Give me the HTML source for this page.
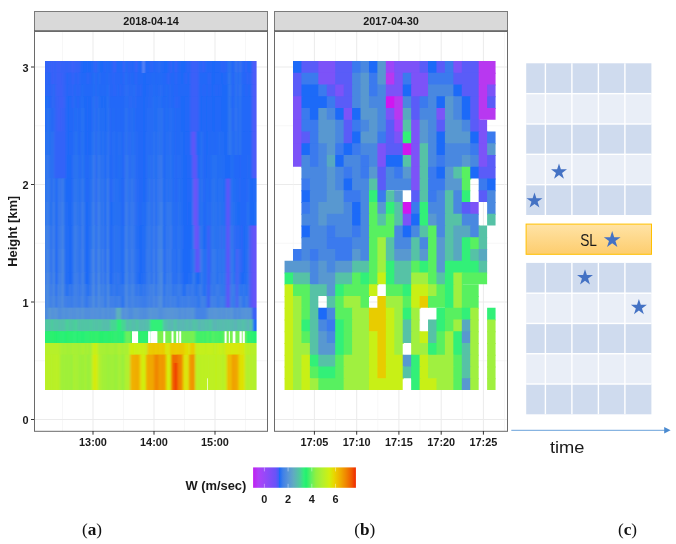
<!DOCTYPE html><html><head><meta charset="utf-8"><title>Figure</title><style>
html,body{margin:0;padding:0;background:#fff;}
body{width:676px;height:544px;overflow:hidden;}
svg{display:block;}
text{font-family:"Liberation Sans",Arial,sans-serif;}
.ax{font-weight:bold;font-size:10.9px;fill:#1a1a1a;}
.lab{font-family:"Liberation Serif","Times New Roman",serif;font-size:17.2px;fill:#111;}
</style></head><body>
<svg width="676" height="544" viewBox="0 0 676 544">
<rect x="0" y="0" width="676" height="544" fill="#ffffff"/>
<line x1="62.50" y1="31" x2="62.50" y2="431" stroke="#f2f2f2" stroke-width="0.6"/>
<line x1="123.50" y1="31" x2="123.50" y2="431" stroke="#f2f2f2" stroke-width="0.6"/>
<line x1="184.50" y1="31" x2="184.50" y2="431" stroke="#f2f2f2" stroke-width="0.6"/>
<line x1="245.50" y1="31" x2="245.50" y2="431" stroke="#f2f2f2" stroke-width="0.6"/>
<line x1="93.00" y1="31" x2="93.00" y2="431" stroke="#ebebeb" stroke-width="1"/>
<line x1="154.00" y1="31" x2="154.00" y2="431" stroke="#ebebeb" stroke-width="1"/>
<line x1="215.00" y1="31" x2="215.00" y2="431" stroke="#ebebeb" stroke-width="1"/>
<line x1="34" y1="125.75" x2="268" y2="125.75" stroke="#f2f2f2" stroke-width="0.6"/>
<line x1="274" y1="125.75" x2="508" y2="125.75" stroke="#f2f2f2" stroke-width="0.6"/>
<line x1="34" y1="243.25" x2="268" y2="243.25" stroke="#f2f2f2" stroke-width="0.6"/>
<line x1="274" y1="243.25" x2="508" y2="243.25" stroke="#f2f2f2" stroke-width="0.6"/>
<line x1="34" y1="360.75" x2="268" y2="360.75" stroke="#f2f2f2" stroke-width="0.6"/>
<line x1="274" y1="360.75" x2="508" y2="360.75" stroke="#f2f2f2" stroke-width="0.6"/>
<line x1="34" y1="67.00" x2="268" y2="67.00" stroke="#ebebeb" stroke-width="1"/>
<line x1="274" y1="67.00" x2="508" y2="67.00" stroke="#ebebeb" stroke-width="1"/>
<line x1="34" y1="184.50" x2="268" y2="184.50" stroke="#ebebeb" stroke-width="1"/>
<line x1="274" y1="184.50" x2="508" y2="184.50" stroke="#ebebeb" stroke-width="1"/>
<line x1="34" y1="302.00" x2="268" y2="302.00" stroke="#ebebeb" stroke-width="1"/>
<line x1="274" y1="302.00" x2="508" y2="302.00" stroke="#ebebeb" stroke-width="1"/>
<line x1="34" y1="419.50" x2="268" y2="419.50" stroke="#ebebeb" stroke-width="1"/>
<line x1="274" y1="419.50" x2="508" y2="419.50" stroke="#ebebeb" stroke-width="1"/>
<line x1="293.30" y1="31" x2="293.30" y2="431" stroke="#f2f2f2" stroke-width="0.6"/>
<line x1="335.60" y1="31" x2="335.60" y2="431" stroke="#f2f2f2" stroke-width="0.6"/>
<line x1="377.80" y1="31" x2="377.80" y2="431" stroke="#f2f2f2" stroke-width="0.6"/>
<line x1="420.00" y1="31" x2="420.00" y2="431" stroke="#f2f2f2" stroke-width="0.6"/>
<line x1="462.30" y1="31" x2="462.30" y2="431" stroke="#f2f2f2" stroke-width="0.6"/>
<line x1="504.50" y1="31" x2="504.50" y2="431" stroke="#f2f2f2" stroke-width="0.6"/>
<line x1="314.40" y1="31" x2="314.40" y2="431" stroke="#ebebeb" stroke-width="1"/>
<line x1="356.70" y1="31" x2="356.70" y2="431" stroke="#ebebeb" stroke-width="1"/>
<line x1="398.90" y1="31" x2="398.90" y2="431" stroke="#ebebeb" stroke-width="1"/>
<line x1="441.20" y1="31" x2="441.20" y2="431" stroke="#ebebeb" stroke-width="1"/>
<line x1="483.40" y1="31" x2="483.40" y2="431" stroke="#ebebeb" stroke-width="1"/>
<defs><filter id="fa" x="-0.05" y="-0.05" width="1.1" height="1.1"><feGaussianBlur stdDeviation="0.9 0.4"/></filter><filter id="fb" x="-0.05" y="-0.05" width="1.1" height="1.1"><feGaussianBlur stdDeviation="0.45"/></filter></defs>
<defs><clipPath id="ca"><rect x="45" y="61" width="211.6" height="329"/></clipPath></defs>
<g clip-path="url(#ca)"><g filter="url(#fa)"><rect x="42.0" y="58.00" width="5.0" height="15.75" fill="#3064f8"/>
<rect x="46.0" y="58.00" width="2.0" height="15.75" fill="#3a61f8"/>
<rect x="47.0" y="58.00" width="2.0" height="15.75" fill="#1c69f8"/>
<rect x="48.0" y="58.00" width="2.0" height="15.75" fill="#3a61f8"/>
<rect x="49.0" y="58.00" width="3.0" height="15.75" fill="#3064f8"/>
<rect x="51.0" y="58.00" width="4.0" height="15.75" fill="#3a61f8"/>
<rect x="54.0" y="58.00" width="3.0" height="15.75" fill="#3064f8"/>
<rect x="56.0" y="58.00" width="6.0" height="15.75" fill="#3a61f8"/>
<rect x="61.0" y="58.00" width="3.0" height="15.75" fill="#3064f8"/>
<rect x="63.0" y="58.00" width="2.0" height="15.75" fill="#3a61f8"/>
<rect x="64.0" y="58.00" width="6.0" height="15.75" fill="#3064f8"/>
<rect x="69.0" y="58.00" width="2.0" height="15.75" fill="#3a61f8"/>
<rect x="70.0" y="58.00" width="3.0" height="15.75" fill="#3064f8"/>
<rect x="72.0" y="58.00" width="2.0" height="15.75" fill="#3a61f8"/>
<rect x="73.0" y="58.00" width="2.0" height="15.75" fill="#445ef8"/>
<rect x="74.0" y="58.00" width="4.0" height="15.75" fill="#3064f8"/>
<rect x="77.0" y="58.00" width="2.0" height="15.75" fill="#3a61f8"/>
<rect x="78.0" y="58.00" width="2.0" height="15.75" fill="#3064f8"/>
<rect x="79.0" y="58.00" width="2.0" height="15.75" fill="#3a61f8"/>
<rect x="80.0" y="58.00" width="3.0" height="15.75" fill="#1c69f8"/>
<rect x="82.0" y="58.00" width="2.0" height="15.75" fill="#2666f8"/>
<rect x="83.0" y="58.00" width="5.0" height="15.75" fill="#1c69f8"/>
<rect x="87.0" y="58.00" width="2.0" height="15.75" fill="#2666f8"/>
<rect x="88.0" y="58.00" width="4.0" height="15.75" fill="#1c69f8"/>
<rect x="91.0" y="58.00" width="2.0" height="15.75" fill="#2666f8"/>
<rect x="92.0" y="58.00" width="2.0" height="15.75" fill="#1c69f8"/>
<rect x="93.0" y="58.00" width="2.0" height="15.75" fill="#226ef5"/>
<rect x="94.0" y="58.00" width="2.0" height="15.75" fill="#3a61f8"/>
<rect x="95.0" y="58.00" width="2.0" height="15.75" fill="#2666f8"/>
<rect x="96.0" y="58.00" width="2.0" height="15.75" fill="#3a61f8"/>
<rect x="97.0" y="58.00" width="2.0" height="15.75" fill="#2671f3"/>
<rect x="98.0" y="58.00" width="2.0" height="15.75" fill="#1c69f8"/>
<rect x="99.0" y="58.00" width="2.0" height="15.75" fill="#2671f3"/>
<rect x="100.0" y="58.00" width="4.0" height="15.75" fill="#1c69f8"/>
<rect x="103.0" y="58.00" width="2.0" height="15.75" fill="#2666f8"/>
<rect x="104.0" y="58.00" width="2.0" height="15.75" fill="#1c69f8"/>
<rect x="105.0" y="58.00" width="2.0" height="15.75" fill="#3064f8"/>
<rect x="106.0" y="58.00" width="2.0" height="15.75" fill="#1c69f8"/>
<rect x="107.0" y="58.00" width="2.0" height="15.75" fill="#226ef5"/>
<rect x="108.0" y="58.00" width="2.0" height="15.75" fill="#1c69f8"/>
<rect x="109.0" y="58.00" width="3.0" height="15.75" fill="#2666f8"/>
<rect x="111.0" y="58.00" width="2.0" height="15.75" fill="#1c69f8"/>
<rect x="112.0" y="58.00" width="2.0" height="15.75" fill="#2666f8"/>
<rect x="113.0" y="58.00" width="2.0" height="15.75" fill="#3a61f8"/>
<rect x="114.0" y="58.00" width="2.0" height="15.75" fill="#3064f8"/>
<rect x="115.0" y="58.00" width="2.0" height="15.75" fill="#3a61f8"/>
<rect x="116.0" y="58.00" width="2.0" height="15.75" fill="#2666f8"/>
<rect x="117.0" y="58.00" width="3.0" height="15.75" fill="#1c69f8"/>
<rect x="119.0" y="58.00" width="3.0" height="15.75" fill="#2666f8"/>
<rect x="121.0" y="58.00" width="3.0" height="15.75" fill="#1c69f8"/>
<rect x="123.0" y="58.00" width="3.0" height="15.75" fill="#3a61f8"/>
<rect x="125.0" y="58.00" width="2.0" height="15.75" fill="#2671f3"/>
<rect x="126.0" y="58.00" width="2.0" height="15.75" fill="#1c69f8"/>
<rect x="127.0" y="58.00" width="2.0" height="15.75" fill="#2666f8"/>
<rect x="128.0" y="58.00" width="2.0" height="15.75" fill="#3064f8"/>
<rect x="129.0" y="58.00" width="5.0" height="15.75" fill="#2666f8"/>
<rect x="133.0" y="58.00" width="2.0" height="15.75" fill="#1c69f8"/>
<rect x="134.0" y="58.00" width="2.0" height="15.75" fill="#2666f8"/>
<rect x="135.0" y="58.00" width="2.0" height="15.75" fill="#3064f8"/>
<rect x="136.0" y="58.00" width="2.0" height="15.75" fill="#445ef8"/>
<rect x="137.0" y="58.00" width="2.0" height="15.75" fill="#1c69f8"/>
<rect x="138.0" y="58.00" width="2.0" height="15.75" fill="#2666f8"/>
<rect x="139.0" y="58.00" width="2.0" height="15.75" fill="#1c69f8"/>
<rect x="140.0" y="58.00" width="3.0" height="15.75" fill="#2666f8"/>
<rect x="142.0" y="58.00" width="3.0" height="15.75" fill="#1c69f8"/>
<rect x="144.0" y="58.00" width="2.0" height="15.75" fill="#3064f8"/>
<rect x="145.0" y="58.00" width="2.0" height="15.75" fill="#1c69f8"/>
<rect x="146.0" y="58.00" width="2.0" height="15.75" fill="#2666f8"/>
<rect x="147.0" y="58.00" width="3.0" height="15.75" fill="#1c69f8"/>
<rect x="149.0" y="58.00" width="2.0" height="15.75" fill="#2666f8"/>
<rect x="150.0" y="58.00" width="2.0" height="15.75" fill="#3064f8"/>
<rect x="151.0" y="58.00" width="2.0" height="15.75" fill="#2666f8"/>
<rect x="152.0" y="58.00" width="2.0" height="15.75" fill="#3064f8"/>
<rect x="153.0" y="58.00" width="2.0" height="15.75" fill="#1c69f8"/>
<rect x="154.0" y="58.00" width="2.0" height="15.75" fill="#2666f8"/>
<rect x="155.0" y="58.00" width="2.0" height="15.75" fill="#1c69f8"/>
<rect x="156.0" y="58.00" width="2.0" height="15.75" fill="#3064f8"/>
<rect x="157.0" y="58.00" width="2.0" height="15.75" fill="#1c69f8"/>
<rect x="158.0" y="58.00" width="2.0" height="15.75" fill="#2671f3"/>
<rect x="159.0" y="58.00" width="2.0" height="15.75" fill="#3a61f8"/>
<rect x="160.0" y="58.00" width="2.0" height="15.75" fill="#226ef5"/>
<rect x="161.0" y="58.00" width="2.0" height="15.75" fill="#1d6cf7"/>
<rect x="162.0" y="58.00" width="2.0" height="15.75" fill="#1c69f8"/>
<rect x="163.0" y="58.00" width="2.0" height="15.75" fill="#2666f8"/>
<rect x="164.0" y="58.00" width="5.0" height="15.75" fill="#1c69f8"/>
<rect x="168.0" y="58.00" width="3.0" height="15.75" fill="#2666f8"/>
<rect x="170.0" y="58.00" width="2.0" height="15.75" fill="#3064f8"/>
<rect x="171.0" y="58.00" width="2.0" height="15.75" fill="#3a61f8"/>
<rect x="172.0" y="58.00" width="4.0" height="15.75" fill="#1c69f8"/>
<rect x="175.0" y="58.00" width="3.0" height="15.75" fill="#3a61f8"/>
<rect x="177.0" y="58.00" width="2.0" height="15.75" fill="#1c69f8"/>
<rect x="178.0" y="58.00" width="3.0" height="15.75" fill="#2666f8"/>
<rect x="180.0" y="58.00" width="6.0" height="15.75" fill="#1c69f8"/>
<rect x="185.0" y="58.00" width="2.0" height="15.75" fill="#2666f8"/>
<rect x="186.0" y="58.00" width="2.0" height="15.75" fill="#1c69f8"/>
<rect x="187.0" y="58.00" width="2.0" height="15.75" fill="#3a61f8"/>
<rect x="188.0" y="58.00" width="3.0" height="15.75" fill="#1c69f8"/>
<rect x="190.0" y="58.00" width="10.0" height="15.75" fill="#3a61f8"/>
<rect x="199.0" y="58.00" width="2.0" height="15.75" fill="#1c69f8"/>
<rect x="200.0" y="58.00" width="2.0" height="15.75" fill="#3064f8"/>
<rect x="201.0" y="58.00" width="2.0" height="15.75" fill="#1c69f8"/>
<rect x="202.0" y="58.00" width="2.0" height="15.75" fill="#3064f8"/>
<rect x="203.0" y="58.00" width="2.0" height="15.75" fill="#3a61f8"/>
<rect x="204.0" y="58.00" width="2.0" height="15.75" fill="#2666f8"/>
<rect x="205.0" y="58.00" width="2.0" height="15.75" fill="#3064f8"/>
<rect x="206.0" y="58.00" width="3.0" height="15.75" fill="#1c69f8"/>
<rect x="208.0" y="58.00" width="3.0" height="15.75" fill="#2666f8"/>
<rect x="210.0" y="58.00" width="2.0" height="15.75" fill="#1c69f8"/>
<rect x="211.0" y="58.00" width="2.0" height="15.75" fill="#2666f8"/>
<rect x="212.0" y="58.00" width="4.0" height="15.75" fill="#1c69f8"/>
<rect x="215.0" y="58.00" width="2.0" height="15.75" fill="#2666f8"/>
<rect x="216.0" y="58.00" width="3.0" height="15.75" fill="#1c69f8"/>
<rect x="218.0" y="58.00" width="2.0" height="15.75" fill="#2666f8"/>
<rect x="219.0" y="58.00" width="2.0" height="15.75" fill="#1c69f8"/>
<rect x="220.0" y="58.00" width="2.0" height="15.75" fill="#2666f8"/>
<rect x="221.0" y="58.00" width="2.0" height="15.75" fill="#3064f8"/>
<rect x="222.0" y="58.00" width="2.0" height="15.75" fill="#1c69f8"/>
<rect x="223.0" y="58.00" width="3.0" height="15.75" fill="#3064f8"/>
<rect x="225.0" y="58.00" width="2.0" height="15.75" fill="#1c69f8"/>
<rect x="226.0" y="58.00" width="2.0" height="15.75" fill="#3064f8"/>
<rect x="227.0" y="58.00" width="2.0" height="15.75" fill="#1c69f8"/>
<rect x="228.0" y="58.00" width="4.0" height="15.75" fill="#2f76ef"/>
<rect x="231.0" y="58.00" width="2.0" height="15.75" fill="#1c69f8"/>
<rect x="232.0" y="58.00" width="3.0" height="15.75" fill="#2666f8"/>
<rect x="234.0" y="58.00" width="2.0" height="15.75" fill="#1c69f8"/>
<rect x="235.0" y="58.00" width="3.0" height="15.75" fill="#377bec"/>
<rect x="237.0" y="58.00" width="2.0" height="15.75" fill="#3a61f8"/>
<rect x="238.0" y="58.00" width="2.0" height="15.75" fill="#1c69f8"/>
<rect x="239.0" y="58.00" width="2.0" height="15.75" fill="#3378ed"/>
<rect x="240.0" y="58.00" width="2.0" height="15.75" fill="#377bec"/>
<rect x="241.0" y="58.00" width="2.0" height="15.75" fill="#3a61f8"/>
<rect x="242.0" y="58.00" width="3.0" height="15.75" fill="#1c69f8"/>
<rect x="244.0" y="58.00" width="2.0" height="15.75" fill="#2666f8"/>
<rect x="245.0" y="58.00" width="3.0" height="15.75" fill="#3064f8"/>
<rect x="247.0" y="58.00" width="2.0" height="15.75" fill="#2666f8"/>
<rect x="248.0" y="58.00" width="3.0" height="15.75" fill="#1c69f8"/>
<rect x="250.0" y="58.00" width="2.0" height="15.75" fill="#2666f8"/>
<rect x="251.0" y="58.00" width="2.0" height="15.75" fill="#1c69f8"/>
<rect x="252.0" y="58.00" width="7.6" height="15.75" fill="#4e5bf8"/>
<rect x="42.0" y="72.75" width="5.0" height="12.75" fill="#2666f8"/>
<rect x="46.0" y="72.75" width="2.0" height="12.75" fill="#3a61f8"/>
<rect x="47.0" y="72.75" width="2.0" height="12.75" fill="#226ef5"/>
<rect x="48.0" y="72.75" width="2.0" height="12.75" fill="#3064f8"/>
<rect x="49.0" y="72.75" width="3.0" height="12.75" fill="#2666f8"/>
<rect x="51.0" y="72.75" width="4.0" height="12.75" fill="#3a61f8"/>
<rect x="54.0" y="72.75" width="3.0" height="12.75" fill="#3064f8"/>
<rect x="56.0" y="72.75" width="7.0" height="12.75" fill="#3a61f8"/>
<rect x="62.0" y="72.75" width="2.0" height="12.75" fill="#3064f8"/>
<rect x="63.0" y="72.75" width="2.0" height="12.75" fill="#3a61f8"/>
<rect x="64.0" y="72.75" width="3.0" height="12.75" fill="#3064f8"/>
<rect x="66.0" y="72.75" width="4.0" height="12.75" fill="#2666f8"/>
<rect x="69.0" y="72.75" width="2.0" height="12.75" fill="#3064f8"/>
<rect x="70.0" y="72.75" width="3.0" height="12.75" fill="#2666f8"/>
<rect x="72.0" y="72.75" width="3.0" height="12.75" fill="#3a61f8"/>
<rect x="74.0" y="72.75" width="4.0" height="12.75" fill="#2666f8"/>
<rect x="77.0" y="72.75" width="2.0" height="12.75" fill="#3a61f8"/>
<rect x="78.0" y="72.75" width="2.0" height="12.75" fill="#2666f8"/>
<rect x="79.0" y="72.75" width="2.0" height="12.75" fill="#3064f8"/>
<rect x="80.0" y="72.75" width="3.0" height="12.75" fill="#1c69f8"/>
<rect x="82.0" y="72.75" width="2.0" height="12.75" fill="#2666f8"/>
<rect x="83.0" y="72.75" width="3.0" height="12.75" fill="#1c69f8"/>
<rect x="85.0" y="72.75" width="2.0" height="12.75" fill="#2666f8"/>
<rect x="86.0" y="72.75" width="2.0" height="12.75" fill="#1c69f8"/>
<rect x="87.0" y="72.75" width="2.0" height="12.75" fill="#3a61f8"/>
<rect x="88.0" y="72.75" width="2.0" height="12.75" fill="#1c69f8"/>
<rect x="89.0" y="72.75" width="4.0" height="12.75" fill="#2666f8"/>
<rect x="92.0" y="72.75" width="2.0" height="12.75" fill="#1c69f8"/>
<rect x="93.0" y="72.75" width="3.0" height="12.75" fill="#2671f3"/>
<rect x="95.0" y="72.75" width="3.0" height="12.75" fill="#2666f8"/>
<rect x="97.0" y="72.75" width="2.0" height="12.75" fill="#226ef5"/>
<rect x="98.0" y="72.75" width="2.0" height="12.75" fill="#1c69f8"/>
<rect x="99.0" y="72.75" width="2.0" height="12.75" fill="#2a73f1"/>
<rect x="100.0" y="72.75" width="2.0" height="12.75" fill="#2666f8"/>
<rect x="101.0" y="72.75" width="2.0" height="12.75" fill="#1c69f8"/>
<rect x="102.0" y="72.75" width="3.0" height="12.75" fill="#2666f8"/>
<rect x="104.0" y="72.75" width="2.0" height="12.75" fill="#1c69f8"/>
<rect x="105.0" y="72.75" width="2.0" height="12.75" fill="#2666f8"/>
<rect x="106.0" y="72.75" width="2.0" height="12.75" fill="#1c69f8"/>
<rect x="107.0" y="72.75" width="2.0" height="12.75" fill="#2671f3"/>
<rect x="108.0" y="72.75" width="6.0" height="12.75" fill="#2666f8"/>
<rect x="113.0" y="72.75" width="2.0" height="12.75" fill="#3a61f8"/>
<rect x="114.0" y="72.75" width="2.0" height="12.75" fill="#1c69f8"/>
<rect x="115.0" y="72.75" width="7.0" height="12.75" fill="#2666f8"/>
<rect x="121.0" y="72.75" width="3.0" height="12.75" fill="#1c69f8"/>
<rect x="123.0" y="72.75" width="2.0" height="12.75" fill="#3a61f8"/>
<rect x="124.0" y="72.75" width="2.0" height="12.75" fill="#2666f8"/>
<rect x="125.0" y="72.75" width="2.0" height="12.75" fill="#226ef5"/>
<rect x="126.0" y="72.75" width="2.0" height="12.75" fill="#2671f3"/>
<rect x="127.0" y="72.75" width="5.0" height="12.75" fill="#2666f8"/>
<rect x="131.0" y="72.75" width="2.0" height="12.75" fill="#226ef5"/>
<rect x="132.0" y="72.75" width="2.0" height="12.75" fill="#2666f8"/>
<rect x="133.0" y="72.75" width="3.0" height="12.75" fill="#1c69f8"/>
<rect x="135.0" y="72.75" width="2.0" height="12.75" fill="#3a61f8"/>
<rect x="136.0" y="72.75" width="2.0" height="12.75" fill="#2666f8"/>
<rect x="137.0" y="72.75" width="2.0" height="12.75" fill="#1c69f8"/>
<rect x="138.0" y="72.75" width="2.0" height="12.75" fill="#2666f8"/>
<rect x="139.0" y="72.75" width="2.0" height="12.75" fill="#1c69f8"/>
<rect x="140.0" y="72.75" width="3.0" height="12.75" fill="#2666f8"/>
<rect x="142.0" y="72.75" width="5.0" height="12.75" fill="#1c69f8"/>
<rect x="146.0" y="72.75" width="2.0" height="12.75" fill="#2666f8"/>
<rect x="147.0" y="72.75" width="3.0" height="12.75" fill="#1c69f8"/>
<rect x="149.0" y="72.75" width="2.0" height="12.75" fill="#2666f8"/>
<rect x="150.0" y="72.75" width="2.0" height="12.75" fill="#1c69f8"/>
<rect x="151.0" y="72.75" width="2.0" height="12.75" fill="#2666f8"/>
<rect x="152.0" y="72.75" width="2.0" height="12.75" fill="#1c69f8"/>
<rect x="153.0" y="72.75" width="2.0" height="12.75" fill="#2671f3"/>
<rect x="154.0" y="72.75" width="2.0" height="12.75" fill="#2666f8"/>
<rect x="155.0" y="72.75" width="2.0" height="12.75" fill="#1c69f8"/>
<rect x="156.0" y="72.75" width="2.0" height="12.75" fill="#2666f8"/>
<rect x="157.0" y="72.75" width="2.0" height="12.75" fill="#1c69f8"/>
<rect x="158.0" y="72.75" width="2.0" height="12.75" fill="#1d6cf7"/>
<rect x="159.0" y="72.75" width="2.0" height="12.75" fill="#2666f8"/>
<rect x="160.0" y="72.75" width="2.0" height="12.75" fill="#226ef5"/>
<rect x="161.0" y="72.75" width="2.0" height="12.75" fill="#1d6cf7"/>
<rect x="162.0" y="72.75" width="2.0" height="12.75" fill="#1c69f8"/>
<rect x="163.0" y="72.75" width="2.0" height="12.75" fill="#2666f8"/>
<rect x="164.0" y="72.75" width="2.0" height="12.75" fill="#1c69f8"/>
<rect x="165.0" y="72.75" width="2.0" height="12.75" fill="#2666f8"/>
<rect x="166.0" y="72.75" width="2.0" height="12.75" fill="#1c69f8"/>
<rect x="167.0" y="72.75" width="2.0" height="12.75" fill="#2666f8"/>
<rect x="168.0" y="72.75" width="2.0" height="12.75" fill="#3a61f8"/>
<rect x="169.0" y="72.75" width="4.0" height="12.75" fill="#2666f8"/>
<rect x="172.0" y="72.75" width="4.0" height="12.75" fill="#1c69f8"/>
<rect x="175.0" y="72.75" width="2.0" height="12.75" fill="#3a61f8"/>
<rect x="176.0" y="72.75" width="2.0" height="12.75" fill="#2666f8"/>
<rect x="177.0" y="72.75" width="2.0" height="12.75" fill="#1c69f8"/>
<rect x="178.0" y="72.75" width="3.0" height="12.75" fill="#2666f8"/>
<rect x="180.0" y="72.75" width="5.0" height="12.75" fill="#1c69f8"/>
<rect x="184.0" y="72.75" width="2.0" height="12.75" fill="#2666f8"/>
<rect x="185.0" y="72.75" width="2.0" height="12.75" fill="#3064f8"/>
<rect x="186.0" y="72.75" width="3.0" height="12.75" fill="#2666f8"/>
<rect x="188.0" y="72.75" width="3.0" height="12.75" fill="#1c69f8"/>
<rect x="190.0" y="72.75" width="10.0" height="12.75" fill="#3a61f8"/>
<rect x="199.0" y="72.75" width="3.0" height="12.75" fill="#1c69f8"/>
<rect x="201.0" y="72.75" width="2.0" height="12.75" fill="#2666f8"/>
<rect x="202.0" y="72.75" width="2.0" height="12.75" fill="#1c69f8"/>
<rect x="203.0" y="72.75" width="3.0" height="12.75" fill="#2666f8"/>
<rect x="205.0" y="72.75" width="2.0" height="12.75" fill="#1c69f8"/>
<rect x="206.0" y="72.75" width="2.0" height="12.75" fill="#2666f8"/>
<rect x="207.0" y="72.75" width="2.0" height="12.75" fill="#1c69f8"/>
<rect x="208.0" y="72.75" width="2.0" height="12.75" fill="#2666f8"/>
<rect x="209.0" y="72.75" width="2.0" height="12.75" fill="#3a61f8"/>
<rect x="210.0" y="72.75" width="2.0" height="12.75" fill="#1c69f8"/>
<rect x="211.0" y="72.75" width="2.0" height="12.75" fill="#2666f8"/>
<rect x="212.0" y="72.75" width="4.0" height="12.75" fill="#1c69f8"/>
<rect x="215.0" y="72.75" width="2.0" height="12.75" fill="#2666f8"/>
<rect x="216.0" y="72.75" width="3.0" height="12.75" fill="#1c69f8"/>
<rect x="218.0" y="72.75" width="2.0" height="12.75" fill="#2666f8"/>
<rect x="219.0" y="72.75" width="2.0" height="12.75" fill="#1c69f8"/>
<rect x="220.0" y="72.75" width="2.0" height="12.75" fill="#2666f8"/>
<rect x="221.0" y="72.75" width="4.0" height="12.75" fill="#1c69f8"/>
<rect x="224.0" y="72.75" width="3.0" height="12.75" fill="#2666f8"/>
<rect x="226.0" y="72.75" width="3.0" height="12.75" fill="#1c69f8"/>
<rect x="228.0" y="72.75" width="2.0" height="12.75" fill="#377bec"/>
<rect x="229.0" y="72.75" width="2.0" height="12.75" fill="#2f76ef"/>
<rect x="230.0" y="72.75" width="2.0" height="12.75" fill="#3378ed"/>
<rect x="231.0" y="72.75" width="2.0" height="12.75" fill="#1c69f8"/>
<rect x="232.0" y="72.75" width="4.0" height="12.75" fill="#2666f8"/>
<rect x="235.0" y="72.75" width="2.0" height="12.75" fill="#2f76ef"/>
<rect x="236.0" y="72.75" width="2.0" height="12.75" fill="#3378ed"/>
<rect x="237.0" y="72.75" width="2.0" height="12.75" fill="#2666f8"/>
<rect x="238.0" y="72.75" width="2.0" height="12.75" fill="#1c69f8"/>
<rect x="239.0" y="72.75" width="2.0" height="12.75" fill="#2f76ef"/>
<rect x="240.0" y="72.75" width="2.0" height="12.75" fill="#3378ed"/>
<rect x="241.0" y="72.75" width="7.0" height="12.75" fill="#2666f8"/>
<rect x="247.0" y="72.75" width="2.0" height="12.75" fill="#3a61f8"/>
<rect x="248.0" y="72.75" width="2.0" height="12.75" fill="#2666f8"/>
<rect x="249.0" y="72.75" width="2.0" height="12.75" fill="#1c69f8"/>
<rect x="250.0" y="72.75" width="2.0" height="12.75" fill="#3a61f8"/>
<rect x="251.0" y="72.75" width="2.0" height="12.75" fill="#1c69f8"/>
<rect x="252.0" y="72.75" width="7.6" height="12.75" fill="#4e5bf8"/>
<rect x="42.0" y="84.50" width="5.0" height="12.75" fill="#2666f8"/>
<rect x="46.0" y="84.50" width="2.0" height="12.75" fill="#3064f8"/>
<rect x="47.0" y="84.50" width="2.0" height="12.75" fill="#226ef5"/>
<rect x="48.0" y="84.50" width="2.0" height="12.75" fill="#3064f8"/>
<rect x="49.0" y="84.50" width="3.0" height="12.75" fill="#2666f8"/>
<rect x="51.0" y="84.50" width="3.0" height="12.75" fill="#3064f8"/>
<rect x="53.0" y="84.50" width="2.0" height="12.75" fill="#226ef5"/>
<rect x="54.0" y="84.50" width="3.0" height="12.75" fill="#3064f8"/>
<rect x="56.0" y="84.50" width="8.0" height="12.75" fill="#3a61f8"/>
<rect x="63.0" y="84.50" width="4.0" height="12.75" fill="#3064f8"/>
<rect x="66.0" y="84.50" width="4.0" height="12.75" fill="#2666f8"/>
<rect x="69.0" y="84.50" width="2.0" height="12.75" fill="#3064f8"/>
<rect x="70.0" y="84.50" width="3.0" height="12.75" fill="#2666f8"/>
<rect x="72.0" y="84.50" width="3.0" height="12.75" fill="#3064f8"/>
<rect x="74.0" y="84.50" width="2.0" height="12.75" fill="#1d6cf7"/>
<rect x="75.0" y="84.50" width="3.0" height="12.75" fill="#2666f8"/>
<rect x="77.0" y="84.50" width="2.0" height="12.75" fill="#3064f8"/>
<rect x="78.0" y="84.50" width="2.0" height="12.75" fill="#2666f8"/>
<rect x="79.0" y="84.50" width="2.0" height="12.75" fill="#3064f8"/>
<rect x="80.0" y="84.50" width="3.0" height="12.75" fill="#1c69f8"/>
<rect x="82.0" y="84.50" width="2.0" height="12.75" fill="#2671f3"/>
<rect x="83.0" y="84.50" width="2.0" height="12.75" fill="#1c69f8"/>
<rect x="84.0" y="84.50" width="2.0" height="12.75" fill="#2666f8"/>
<rect x="85.0" y="84.50" width="3.0" height="12.75" fill="#1c69f8"/>
<rect x="87.0" y="84.50" width="3.0" height="12.75" fill="#2666f8"/>
<rect x="89.0" y="84.50" width="3.0" height="12.75" fill="#1c69f8"/>
<rect x="91.0" y="84.50" width="2.0" height="12.75" fill="#2666f8"/>
<rect x="92.0" y="84.50" width="2.0" height="12.75" fill="#1c69f8"/>
<rect x="93.0" y="84.50" width="2.0" height="12.75" fill="#2671f3"/>
<rect x="94.0" y="84.50" width="2.0" height="12.75" fill="#226ef5"/>
<rect x="95.0" y="84.50" width="3.0" height="12.75" fill="#2666f8"/>
<rect x="97.0" y="84.50" width="2.0" height="12.75" fill="#2671f3"/>
<rect x="98.0" y="84.50" width="2.0" height="12.75" fill="#1c69f8"/>
<rect x="99.0" y="84.50" width="2.0" height="12.75" fill="#226ef5"/>
<rect x="100.0" y="84.50" width="2.0" height="12.75" fill="#2666f8"/>
<rect x="101.0" y="84.50" width="3.0" height="12.75" fill="#1c69f8"/>
<rect x="103.0" y="84.50" width="2.0" height="12.75" fill="#226ef5"/>
<rect x="104.0" y="84.50" width="2.0" height="12.75" fill="#2666f8"/>
<rect x="105.0" y="84.50" width="3.0" height="12.75" fill="#1c69f8"/>
<rect x="107.0" y="84.50" width="2.0" height="12.75" fill="#2671f3"/>
<rect x="108.0" y="84.50" width="2.0" height="12.75" fill="#226ef5"/>
<rect x="109.0" y="84.50" width="2.0" height="12.75" fill="#3064f8"/>
<rect x="110.0" y="84.50" width="2.0" height="12.75" fill="#2666f8"/>
<rect x="111.0" y="84.50" width="2.0" height="12.75" fill="#1c69f8"/>
<rect x="112.0" y="84.50" width="2.0" height="12.75" fill="#2666f8"/>
<rect x="113.0" y="84.50" width="2.0" height="12.75" fill="#3064f8"/>
<rect x="114.0" y="84.50" width="3.0" height="12.75" fill="#2666f8"/>
<rect x="116.0" y="84.50" width="2.0" height="12.75" fill="#3064f8"/>
<rect x="117.0" y="84.50" width="3.0" height="12.75" fill="#1c69f8"/>
<rect x="119.0" y="84.50" width="2.0" height="12.75" fill="#2666f8"/>
<rect x="120.0" y="84.50" width="2.0" height="12.75" fill="#3064f8"/>
<rect x="121.0" y="84.50" width="2.0" height="12.75" fill="#2666f8"/>
<rect x="122.0" y="84.50" width="2.0" height="12.75" fill="#1c69f8"/>
<rect x="123.0" y="84.50" width="2.0" height="12.75" fill="#2666f8"/>
<rect x="124.0" y="84.50" width="2.0" height="12.75" fill="#3064f8"/>
<rect x="125.0" y="84.50" width="3.0" height="12.75" fill="#2671f3"/>
<rect x="127.0" y="84.50" width="2.0" height="12.75" fill="#3064f8"/>
<rect x="128.0" y="84.50" width="2.0" height="12.75" fill="#2671f3"/>
<rect x="129.0" y="84.50" width="3.0" height="12.75" fill="#2666f8"/>
<rect x="131.0" y="84.50" width="2.0" height="12.75" fill="#2671f3"/>
<rect x="132.0" y="84.50" width="2.0" height="12.75" fill="#2666f8"/>
<rect x="133.0" y="84.50" width="2.0" height="12.75" fill="#1c69f8"/>
<rect x="134.0" y="84.50" width="2.0" height="12.75" fill="#2a73f1"/>
<rect x="135.0" y="84.50" width="2.0" height="12.75" fill="#2666f8"/>
<rect x="136.0" y="84.50" width="2.0" height="12.75" fill="#3064f8"/>
<rect x="137.0" y="84.50" width="2.0" height="12.75" fill="#1c69f8"/>
<rect x="138.0" y="84.50" width="4.0" height="12.75" fill="#2666f8"/>
<rect x="141.0" y="84.50" width="2.0" height="12.75" fill="#3064f8"/>
<rect x="142.0" y="84.50" width="5.0" height="12.75" fill="#1c69f8"/>
<rect x="146.0" y="84.50" width="2.0" height="12.75" fill="#2666f8"/>
<rect x="147.0" y="84.50" width="3.0" height="12.75" fill="#1c69f8"/>
<rect x="149.0" y="84.50" width="2.0" height="12.75" fill="#2666f8"/>
<rect x="150.0" y="84.50" width="2.0" height="12.75" fill="#2671f3"/>
<rect x="151.0" y="84.50" width="2.0" height="12.75" fill="#3064f8"/>
<rect x="152.0" y="84.50" width="2.0" height="12.75" fill="#1c69f8"/>
<rect x="153.0" y="84.50" width="2.0" height="12.75" fill="#2671f3"/>
<rect x="154.0" y="84.50" width="2.0" height="12.75" fill="#226ef5"/>
<rect x="155.0" y="84.50" width="2.0" height="12.75" fill="#2666f8"/>
<rect x="156.0" y="84.50" width="2.0" height="12.75" fill="#1c69f8"/>
<rect x="157.0" y="84.50" width="2.0" height="12.75" fill="#226ef5"/>
<rect x="158.0" y="84.50" width="2.0" height="12.75" fill="#1d6cf7"/>
<rect x="159.0" y="84.50" width="2.0" height="12.75" fill="#3064f8"/>
<rect x="160.0" y="84.50" width="3.0" height="12.75" fill="#2671f3"/>
<rect x="162.0" y="84.50" width="3.0" height="12.75" fill="#2666f8"/>
<rect x="164.0" y="84.50" width="3.0" height="12.75" fill="#1c69f8"/>
<rect x="166.0" y="84.50" width="2.0" height="12.75" fill="#2671f3"/>
<rect x="167.0" y="84.50" width="2.0" height="12.75" fill="#1c69f8"/>
<rect x="168.0" y="84.50" width="3.0" height="12.75" fill="#2666f8"/>
<rect x="170.0" y="84.50" width="2.0" height="12.75" fill="#2671f3"/>
<rect x="171.0" y="84.50" width="2.0" height="12.75" fill="#2666f8"/>
<rect x="172.0" y="84.50" width="2.0" height="12.75" fill="#1c69f8"/>
<rect x="173.0" y="84.50" width="2.0" height="12.75" fill="#2666f8"/>
<rect x="174.0" y="84.50" width="2.0" height="12.75" fill="#1c69f8"/>
<rect x="175.0" y="84.50" width="2.0" height="12.75" fill="#3064f8"/>
<rect x="176.0" y="84.50" width="2.0" height="12.75" fill="#2666f8"/>
<rect x="177.0" y="84.50" width="2.0" height="12.75" fill="#1c69f8"/>
<rect x="178.0" y="84.50" width="3.0" height="12.75" fill="#2666f8"/>
<rect x="180.0" y="84.50" width="2.0" height="12.75" fill="#1c69f8"/>
<rect x="181.0" y="84.50" width="3.0" height="12.75" fill="#2666f8"/>
<rect x="183.0" y="84.50" width="3.0" height="12.75" fill="#1c69f8"/>
<rect x="185.0" y="84.50" width="2.0" height="12.75" fill="#2666f8"/>
<rect x="186.0" y="84.50" width="2.0" height="12.75" fill="#1c69f8"/>
<rect x="187.0" y="84.50" width="2.0" height="12.75" fill="#2666f8"/>
<rect x="188.0" y="84.50" width="3.0" height="12.75" fill="#1c69f8"/>
<rect x="190.0" y="84.50" width="10.0" height="12.75" fill="#3a61f8"/>
<rect x="199.0" y="84.50" width="2.0" height="12.75" fill="#1c69f8"/>
<rect x="200.0" y="84.50" width="2.0" height="12.75" fill="#2666f8"/>
<rect x="201.0" y="84.50" width="2.0" height="12.75" fill="#1c69f8"/>
<rect x="202.0" y="84.50" width="3.0" height="12.75" fill="#2666f8"/>
<rect x="204.0" y="84.50" width="2.0" height="12.75" fill="#3064f8"/>
<rect x="205.0" y="84.50" width="2.0" height="12.75" fill="#1c69f8"/>
<rect x="206.0" y="84.50" width="2.0" height="12.75" fill="#2666f8"/>
<rect x="207.0" y="84.50" width="2.0" height="12.75" fill="#1c69f8"/>
<rect x="208.0" y="84.50" width="2.0" height="12.75" fill="#2666f8"/>
<rect x="209.0" y="84.50" width="2.0" height="12.75" fill="#3064f8"/>
<rect x="210.0" y="84.50" width="2.0" height="12.75" fill="#1c69f8"/>
<rect x="211.0" y="84.50" width="2.0" height="12.75" fill="#2666f8"/>
<rect x="212.0" y="84.50" width="4.0" height="12.75" fill="#1c69f8"/>
<rect x="215.0" y="84.50" width="2.0" height="12.75" fill="#3064f8"/>
<rect x="216.0" y="84.50" width="2.0" height="12.75" fill="#2666f8"/>
<rect x="217.0" y="84.50" width="2.0" height="12.75" fill="#1c69f8"/>
<rect x="218.0" y="84.50" width="4.0" height="12.75" fill="#2666f8"/>
<rect x="221.0" y="84.50" width="8.0" height="12.75" fill="#1c69f8"/>
<rect x="228.0" y="84.50" width="3.0" height="12.75" fill="#2f76ef"/>
<rect x="230.0" y="84.50" width="2.0" height="12.75" fill="#377bec"/>
<rect x="231.0" y="84.50" width="2.0" height="12.75" fill="#1c69f8"/>
<rect x="232.0" y="84.50" width="3.0" height="12.75" fill="#2666f8"/>
<rect x="234.0" y="84.50" width="2.0" height="12.75" fill="#1c69f8"/>
<rect x="235.0" y="84.50" width="2.0" height="12.75" fill="#3378ed"/>
<rect x="236.0" y="84.50" width="2.0" height="12.75" fill="#2f76ef"/>
<rect x="237.0" y="84.50" width="2.0" height="12.75" fill="#3064f8"/>
<rect x="238.0" y="84.50" width="2.0" height="12.75" fill="#1c69f8"/>
<rect x="239.0" y="84.50" width="2.0" height="12.75" fill="#3378ed"/>
<rect x="240.0" y="84.50" width="2.0" height="12.75" fill="#377bec"/>
<rect x="241.0" y="84.50" width="2.0" height="12.75" fill="#2666f8"/>
<rect x="242.0" y="84.50" width="3.0" height="12.75" fill="#1c69f8"/>
<rect x="244.0" y="84.50" width="2.0" height="12.75" fill="#2666f8"/>
<rect x="245.0" y="84.50" width="2.0" height="12.75" fill="#1c69f8"/>
<rect x="246.0" y="84.50" width="2.0" height="12.75" fill="#3064f8"/>
<rect x="247.0" y="84.50" width="2.0" height="12.75" fill="#2666f8"/>
<rect x="248.0" y="84.50" width="3.0" height="12.75" fill="#1c69f8"/>
<rect x="250.0" y="84.50" width="2.0" height="12.75" fill="#3064f8"/>
<rect x="251.0" y="84.50" width="2.0" height="12.75" fill="#1c69f8"/>
<rect x="252.0" y="84.50" width="7.6" height="12.75" fill="#4e5bf8"/>
<rect x="42.0" y="96.25" width="5.0" height="12.75" fill="#1c69f8"/>
<rect x="46.0" y="96.25" width="2.0" height="12.75" fill="#226ef5"/>
<rect x="47.0" y="96.25" width="2.0" height="12.75" fill="#2a73f1"/>
<rect x="48.0" y="96.25" width="2.0" height="12.75" fill="#2666f8"/>
<rect x="49.0" y="96.25" width="3.0" height="12.75" fill="#1c69f8"/>
<rect x="51.0" y="96.25" width="3.0" height="12.75" fill="#3064f8"/>
<rect x="53.0" y="96.25" width="2.0" height="12.75" fill="#2671f3"/>
<rect x="54.0" y="96.25" width="3.0" height="12.75" fill="#3064f8"/>
<rect x="56.0" y="96.25" width="2.0" height="12.75" fill="#3a61f8"/>
<rect x="57.0" y="96.25" width="2.0" height="12.75" fill="#3064f8"/>
<rect x="58.0" y="96.25" width="7.0" height="12.75" fill="#3a61f8"/>
<rect x="64.0" y="96.25" width="3.0" height="12.75" fill="#3064f8"/>
<rect x="66.0" y="96.25" width="4.0" height="12.75" fill="#1c69f8"/>
<rect x="69.0" y="96.25" width="2.0" height="12.75" fill="#2666f8"/>
<rect x="70.0" y="96.25" width="3.0" height="12.75" fill="#1c69f8"/>
<rect x="72.0" y="96.25" width="3.0" height="12.75" fill="#3064f8"/>
<rect x="74.0" y="96.25" width="2.0" height="12.75" fill="#2671f3"/>
<rect x="75.0" y="96.25" width="3.0" height="12.75" fill="#1c69f8"/>
<rect x="77.0" y="96.25" width="2.0" height="12.75" fill="#3064f8"/>
<rect x="78.0" y="96.25" width="2.0" height="12.75" fill="#1c69f8"/>
<rect x="79.0" y="96.25" width="2.0" height="12.75" fill="#2666f8"/>
<rect x="80.0" y="96.25" width="2.0" height="12.75" fill="#1c69f8"/>
<rect x="81.0" y="96.25" width="2.0" height="12.75" fill="#226ef5"/>
<rect x="82.0" y="96.25" width="2.0" height="12.75" fill="#2671f3"/>
<rect x="83.0" y="96.25" width="5.0" height="12.75" fill="#1c69f8"/>
<rect x="87.0" y="96.25" width="2.0" height="12.75" fill="#2666f8"/>
<rect x="88.0" y="96.25" width="4.0" height="12.75" fill="#1c69f8"/>
<rect x="91.0" y="96.25" width="2.0" height="12.75" fill="#2666f8"/>
<rect x="92.0" y="96.25" width="2.0" height="12.75" fill="#1c69f8"/>
<rect x="93.0" y="96.25" width="2.0" height="12.75" fill="#2f76ef"/>
<rect x="94.0" y="96.25" width="2.0" height="12.75" fill="#2a73f1"/>
<rect x="95.0" y="96.25" width="2.0" height="12.75" fill="#2666f8"/>
<rect x="96.0" y="96.25" width="2.0" height="12.75" fill="#3064f8"/>
<rect x="97.0" y="96.25" width="2.0" height="12.75" fill="#2a73f1"/>
<rect x="98.0" y="96.25" width="2.0" height="12.75" fill="#1c69f8"/>
<rect x="99.0" y="96.25" width="2.0" height="12.75" fill="#2a73f1"/>
<rect x="100.0" y="96.25" width="4.0" height="12.75" fill="#1c69f8"/>
<rect x="103.0" y="96.25" width="2.0" height="12.75" fill="#2671f3"/>
<rect x="104.0" y="96.25" width="4.0" height="12.75" fill="#1c69f8"/>
<rect x="107.0" y="96.25" width="2.0" height="12.75" fill="#2f76ef"/>
<rect x="108.0" y="96.25" width="2.0" height="12.75" fill="#2671f3"/>
<rect x="109.0" y="96.25" width="3.0" height="12.75" fill="#2666f8"/>
<rect x="111.0" y="96.25" width="2.0" height="12.75" fill="#1c69f8"/>
<rect x="112.0" y="96.25" width="3.0" height="12.75" fill="#2666f8"/>
<rect x="114.0" y="96.25" width="2.0" height="12.75" fill="#1c69f8"/>
<rect x="115.0" y="96.25" width="3.0" height="12.75" fill="#2666f8"/>
<rect x="117.0" y="96.25" width="3.0" height="12.75" fill="#1c69f8"/>
<rect x="119.0" y="96.25" width="3.0" height="12.75" fill="#2666f8"/>
<rect x="121.0" y="96.25" width="3.0" height="12.75" fill="#1c69f8"/>
<rect x="123.0" y="96.25" width="3.0" height="12.75" fill="#2666f8"/>
<rect x="125.0" y="96.25" width="2.0" height="12.75" fill="#2671f3"/>
<rect x="126.0" y="96.25" width="2.0" height="12.75" fill="#226ef5"/>
<rect x="127.0" y="96.25" width="2.0" height="12.75" fill="#2666f8"/>
<rect x="128.0" y="96.25" width="2.0" height="12.75" fill="#2671f3"/>
<rect x="129.0" y="96.25" width="2.0" height="12.75" fill="#2666f8"/>
<rect x="130.0" y="96.25" width="2.0" height="12.75" fill="#3064f8"/>
<rect x="131.0" y="96.25" width="2.0" height="12.75" fill="#2a73f1"/>
<rect x="132.0" y="96.25" width="2.0" height="12.75" fill="#2666f8"/>
<rect x="133.0" y="96.25" width="2.0" height="12.75" fill="#1c69f8"/>
<rect x="134.0" y="96.25" width="2.0" height="12.75" fill="#2671f3"/>
<rect x="135.0" y="96.25" width="2.0" height="12.75" fill="#3064f8"/>
<rect x="136.0" y="96.25" width="2.0" height="12.75" fill="#2666f8"/>
<rect x="137.0" y="96.25" width="2.0" height="12.75" fill="#1c69f8"/>
<rect x="138.0" y="96.25" width="2.0" height="12.75" fill="#2666f8"/>
<rect x="139.0" y="96.25" width="2.0" height="12.75" fill="#1c69f8"/>
<rect x="140.0" y="96.25" width="3.0" height="12.75" fill="#2666f8"/>
<rect x="142.0" y="96.25" width="5.0" height="12.75" fill="#1c69f8"/>
<rect x="146.0" y="96.25" width="2.0" height="12.75" fill="#2666f8"/>
<rect x="147.0" y="96.25" width="2.0" height="12.75" fill="#226ef5"/>
<rect x="148.0" y="96.25" width="2.0" height="12.75" fill="#1c69f8"/>
<rect x="149.0" y="96.25" width="2.0" height="12.75" fill="#3064f8"/>
<rect x="150.0" y="96.25" width="2.0" height="12.75" fill="#2671f3"/>
<rect x="151.0" y="96.25" width="2.0" height="12.75" fill="#2666f8"/>
<rect x="152.0" y="96.25" width="2.0" height="12.75" fill="#1c69f8"/>
<rect x="153.0" y="96.25" width="2.0" height="12.75" fill="#2a73f1"/>
<rect x="154.0" y="96.25" width="2.0" height="12.75" fill="#2671f3"/>
<rect x="155.0" y="96.25" width="3.0" height="12.75" fill="#1c69f8"/>
<rect x="157.0" y="96.25" width="3.0" height="12.75" fill="#2671f3"/>
<rect x="159.0" y="96.25" width="2.0" height="12.75" fill="#2666f8"/>
<rect x="160.0" y="96.25" width="3.0" height="12.75" fill="#2671f3"/>
<rect x="162.0" y="96.25" width="2.0" height="12.75" fill="#1c69f8"/>
<rect x="163.0" y="96.25" width="2.0" height="12.75" fill="#2666f8"/>
<rect x="164.0" y="96.25" width="3.0" height="12.75" fill="#1c69f8"/>
<rect x="166.0" y="96.25" width="2.0" height="12.75" fill="#2671f3"/>
<rect x="167.0" y="96.25" width="2.0" height="12.75" fill="#1c69f8"/>
<rect x="168.0" y="96.25" width="3.0" height="12.75" fill="#2666f8"/>
<rect x="170.0" y="96.25" width="2.0" height="12.75" fill="#2671f3"/>
<rect x="171.0" y="96.25" width="2.0" height="12.75" fill="#2666f8"/>
<rect x="172.0" y="96.25" width="4.0" height="12.75" fill="#1c69f8"/>
<rect x="175.0" y="96.25" width="3.0" height="12.75" fill="#3064f8"/>
<rect x="177.0" y="96.25" width="2.0" height="12.75" fill="#1c69f8"/>
<rect x="178.0" y="96.25" width="2.0" height="12.75" fill="#2666f8"/>
<rect x="179.0" y="96.25" width="2.0" height="12.75" fill="#3064f8"/>
<rect x="180.0" y="96.25" width="6.0" height="12.75" fill="#1c69f8"/>
<rect x="185.0" y="96.25" width="2.0" height="12.75" fill="#2666f8"/>
<rect x="186.0" y="96.25" width="2.0" height="12.75" fill="#1c69f8"/>
<rect x="187.0" y="96.25" width="2.0" height="12.75" fill="#2666f8"/>
<rect x="188.0" y="96.25" width="3.0" height="12.75" fill="#1c69f8"/>
<rect x="190.0" y="96.25" width="10.0" height="12.75" fill="#3a61f8"/>
<rect x="199.0" y="96.25" width="5.0" height="12.75" fill="#1c69f8"/>
<rect x="203.0" y="96.25" width="3.0" height="12.75" fill="#2666f8"/>
<rect x="205.0" y="96.25" width="4.0" height="12.75" fill="#1c69f8"/>
<rect x="208.0" y="96.25" width="3.0" height="12.75" fill="#2666f8"/>
<rect x="210.0" y="96.25" width="2.0" height="12.75" fill="#1c69f8"/>
<rect x="211.0" y="96.25" width="2.0" height="12.75" fill="#2666f8"/>
<rect x="212.0" y="96.25" width="4.0" height="12.75" fill="#1c69f8"/>
<rect x="215.0" y="96.25" width="2.0" height="12.75" fill="#2666f8"/>
<rect x="216.0" y="96.25" width="3.0" height="12.75" fill="#1c69f8"/>
<rect x="218.0" y="96.25" width="2.0" height="12.75" fill="#2666f8"/>
<rect x="219.0" y="96.25" width="2.0" height="12.75" fill="#1c69f8"/>
<rect x="220.0" y="96.25" width="2.0" height="12.75" fill="#2666f8"/>
<rect x="221.0" y="96.25" width="8.0" height="12.75" fill="#1c69f8"/>
<rect x="228.0" y="96.25" width="2.0" height="12.75" fill="#2f76ef"/>
<rect x="229.0" y="96.25" width="2.0" height="12.75" fill="#3378ed"/>
<rect x="230.0" y="96.25" width="2.0" height="12.75" fill="#2f76ef"/>
<rect x="231.0" y="96.25" width="2.0" height="12.75" fill="#1c69f8"/>
<rect x="232.0" y="96.25" width="3.0" height="12.75" fill="#2666f8"/>
<rect x="234.0" y="96.25" width="2.0" height="12.75" fill="#1c69f8"/>
<rect x="235.0" y="96.25" width="2.0" height="12.75" fill="#3378ed"/>
<rect x="236.0" y="96.25" width="2.0" height="12.75" fill="#2f76ef"/>
<rect x="237.0" y="96.25" width="2.0" height="12.75" fill="#2666f8"/>
<rect x="238.0" y="96.25" width="2.0" height="12.75" fill="#1c69f8"/>
<rect x="239.0" y="96.25" width="2.0" height="12.75" fill="#2f76ef"/>
<rect x="240.0" y="96.25" width="2.0" height="12.75" fill="#3378ed"/>
<rect x="241.0" y="96.25" width="2.0" height="12.75" fill="#2666f8"/>
<rect x="242.0" y="96.25" width="3.0" height="12.75" fill="#1c69f8"/>
<rect x="244.0" y="96.25" width="2.0" height="12.75" fill="#2666f8"/>
<rect x="245.0" y="96.25" width="2.0" height="12.75" fill="#1c69f8"/>
<rect x="246.0" y="96.25" width="3.0" height="12.75" fill="#2666f8"/>
<rect x="248.0" y="96.25" width="3.0" height="12.75" fill="#1c69f8"/>
<rect x="250.0" y="96.25" width="2.0" height="12.75" fill="#2666f8"/>
<rect x="251.0" y="96.25" width="2.0" height="12.75" fill="#1c69f8"/>
<rect x="252.0" y="96.25" width="7.6" height="12.75" fill="#4e5bf8"/>
<rect x="42.0" y="108.00" width="5.0" height="24.50" fill="#1c69f8"/>
<rect x="46.0" y="108.00" width="2.0" height="24.50" fill="#2671f3"/>
<rect x="47.0" y="108.00" width="2.0" height="24.50" fill="#2f76ef"/>
<rect x="48.0" y="108.00" width="2.0" height="24.50" fill="#2a73f1"/>
<rect x="49.0" y="108.00" width="2.0" height="24.50" fill="#226ef5"/>
<rect x="50.0" y="108.00" width="2.0" height="24.50" fill="#2671f3"/>
<rect x="51.0" y="108.00" width="3.0" height="24.50" fill="#2666f8"/>
<rect x="53.0" y="108.00" width="2.0" height="24.50" fill="#2671f3"/>
<rect x="54.0" y="108.00" width="4.0" height="24.50" fill="#3064f8"/>
<rect x="57.0" y="108.00" width="5.0" height="24.50" fill="#3a61f8"/>
<rect x="61.0" y="108.00" width="2.0" height="24.50" fill="#3064f8"/>
<rect x="62.0" y="108.00" width="2.0" height="24.50" fill="#3a61f8"/>
<rect x="63.0" y="108.00" width="4.0" height="24.50" fill="#3064f8"/>
<rect x="66.0" y="108.00" width="4.0" height="24.50" fill="#1c69f8"/>
<rect x="69.0" y="108.00" width="2.0" height="24.50" fill="#2666f8"/>
<rect x="70.0" y="108.00" width="3.0" height="24.50" fill="#1c69f8"/>
<rect x="72.0" y="108.00" width="3.0" height="24.50" fill="#2666f8"/>
<rect x="74.0" y="108.00" width="2.0" height="24.50" fill="#2671f3"/>
<rect x="75.0" y="108.00" width="2.0" height="24.50" fill="#1c69f8"/>
<rect x="76.0" y="108.00" width="2.0" height="24.50" fill="#2671f3"/>
<rect x="77.0" y="108.00" width="2.0" height="24.50" fill="#2666f8"/>
<rect x="78.0" y="108.00" width="2.0" height="24.50" fill="#226ef5"/>
<rect x="79.0" y="108.00" width="2.0" height="24.50" fill="#2666f8"/>
<rect x="80.0" y="108.00" width="2.0" height="24.50" fill="#1c69f8"/>
<rect x="81.0" y="108.00" width="2.0" height="24.50" fill="#2a73f1"/>
<rect x="82.0" y="108.00" width="2.0" height="24.50" fill="#2671f3"/>
<rect x="83.0" y="108.00" width="2.0" height="24.50" fill="#2a73f1"/>
<rect x="84.0" y="108.00" width="4.0" height="24.50" fill="#1c69f8"/>
<rect x="87.0" y="108.00" width="2.0" height="24.50" fill="#2666f8"/>
<rect x="88.0" y="108.00" width="4.0" height="24.50" fill="#1c69f8"/>
<rect x="91.0" y="108.00" width="2.0" height="24.50" fill="#2666f8"/>
<rect x="92.0" y="108.00" width="2.0" height="24.50" fill="#1c69f8"/>
<rect x="93.0" y="108.00" width="2.0" height="24.50" fill="#2a73f1"/>
<rect x="94.0" y="108.00" width="2.0" height="24.50" fill="#2f76ef"/>
<rect x="95.0" y="108.00" width="3.0" height="24.50" fill="#2666f8"/>
<rect x="97.0" y="108.00" width="2.0" height="24.50" fill="#2a73f1"/>
<rect x="98.0" y="108.00" width="2.0" height="24.50" fill="#2671f3"/>
<rect x="99.0" y="108.00" width="2.0" height="24.50" fill="#2f76ef"/>
<rect x="100.0" y="108.00" width="3.0" height="24.50" fill="#1c69f8"/>
<rect x="102.0" y="108.00" width="2.0" height="24.50" fill="#2671f3"/>
<rect x="103.0" y="108.00" width="2.0" height="24.50" fill="#2a73f1"/>
<rect x="104.0" y="108.00" width="4.0" height="24.50" fill="#1c69f8"/>
<rect x="107.0" y="108.00" width="2.0" height="24.50" fill="#2a73f1"/>
<rect x="108.0" y="108.00" width="2.0" height="24.50" fill="#2f76ef"/>
<rect x="109.0" y="108.00" width="3.0" height="24.50" fill="#2666f8"/>
<rect x="111.0" y="108.00" width="2.0" height="24.50" fill="#1c69f8"/>
<rect x="112.0" y="108.00" width="2.0" height="24.50" fill="#2666f8"/>
<rect x="113.0" y="108.00" width="2.0" height="24.50" fill="#2671f3"/>
<rect x="114.0" y="108.00" width="2.0" height="24.50" fill="#1c69f8"/>
<rect x="115.0" y="108.00" width="3.0" height="24.50" fill="#2666f8"/>
<rect x="117.0" y="108.00" width="2.0" height="24.50" fill="#1c69f8"/>
<rect x="118.0" y="108.00" width="2.0" height="24.50" fill="#226ef5"/>
<rect x="119.0" y="108.00" width="3.0" height="24.50" fill="#2666f8"/>
<rect x="121.0" y="108.00" width="3.0" height="24.50" fill="#1c69f8"/>
<rect x="123.0" y="108.00" width="3.0" height="24.50" fill="#2666f8"/>
<rect x="125.0" y="108.00" width="3.0" height="24.50" fill="#2f76ef"/>
<rect x="127.0" y="108.00" width="2.0" height="24.50" fill="#2666f8"/>
<rect x="128.0" y="108.00" width="2.0" height="24.50" fill="#2671f3"/>
<rect x="129.0" y="108.00" width="3.0" height="24.50" fill="#2666f8"/>
<rect x="131.0" y="108.00" width="2.0" height="24.50" fill="#2a73f1"/>
<rect x="132.0" y="108.00" width="2.0" height="24.50" fill="#2671f3"/>
<rect x="133.0" y="108.00" width="2.0" height="24.50" fill="#1c69f8"/>
<rect x="134.0" y="108.00" width="2.0" height="24.50" fill="#2671f3"/>
<rect x="135.0" y="108.00" width="3.0" height="24.50" fill="#2666f8"/>
<rect x="137.0" y="108.00" width="2.0" height="24.50" fill="#1c69f8"/>
<rect x="138.0" y="108.00" width="2.0" height="24.50" fill="#2666f8"/>
<rect x="139.0" y="108.00" width="2.0" height="24.50" fill="#1c69f8"/>
<rect x="140.0" y="108.00" width="3.0" height="24.50" fill="#2666f8"/>
<rect x="142.0" y="108.00" width="5.0" height="24.50" fill="#1c69f8"/>
<rect x="146.0" y="108.00" width="2.0" height="24.50" fill="#2666f8"/>
<rect x="147.0" y="108.00" width="2.0" height="24.50" fill="#2a73f1"/>
<rect x="148.0" y="108.00" width="2.0" height="24.50" fill="#1c69f8"/>
<rect x="149.0" y="108.00" width="2.0" height="24.50" fill="#2666f8"/>
<rect x="150.0" y="108.00" width="2.0" height="24.50" fill="#2f76ef"/>
<rect x="151.0" y="108.00" width="2.0" height="24.50" fill="#2666f8"/>
<rect x="152.0" y="108.00" width="2.0" height="24.50" fill="#1c69f8"/>
<rect x="153.0" y="108.00" width="2.0" height="24.50" fill="#2671f3"/>
<rect x="154.0" y="108.00" width="2.0" height="24.50" fill="#2a73f1"/>
<rect x="155.0" y="108.00" width="3.0" height="24.50" fill="#1c69f8"/>
<rect x="157.0" y="108.00" width="2.0" height="24.50" fill="#2a73f1"/>
<rect x="158.0" y="108.00" width="2.0" height="24.50" fill="#2f76ef"/>
<rect x="159.0" y="108.00" width="2.0" height="24.50" fill="#2666f8"/>
<rect x="160.0" y="108.00" width="2.0" height="24.50" fill="#2a73f1"/>
<rect x="161.0" y="108.00" width="2.0" height="24.50" fill="#2f76ef"/>
<rect x="162.0" y="108.00" width="2.0" height="24.50" fill="#2a73f1"/>
<rect x="163.0" y="108.00" width="2.0" height="24.50" fill="#2666f8"/>
<rect x="164.0" y="108.00" width="3.0" height="24.50" fill="#1c69f8"/>
<rect x="166.0" y="108.00" width="2.0" height="24.50" fill="#2f76ef"/>
<rect x="167.0" y="108.00" width="2.0" height="24.50" fill="#1c69f8"/>
<rect x="168.0" y="108.00" width="2.0" height="24.50" fill="#226ef5"/>
<rect x="169.0" y="108.00" width="2.0" height="24.50" fill="#2666f8"/>
<rect x="170.0" y="108.00" width="2.0" height="24.50" fill="#2a73f1"/>
<rect x="171.0" y="108.00" width="2.0" height="24.50" fill="#2671f3"/>
<rect x="172.0" y="108.00" width="3.0" height="24.50" fill="#1c69f8"/>
<rect x="174.0" y="108.00" width="2.0" height="24.50" fill="#2671f3"/>
<rect x="175.0" y="108.00" width="3.0" height="24.50" fill="#2666f8"/>
<rect x="177.0" y="108.00" width="2.0" height="24.50" fill="#1c69f8"/>
<rect x="178.0" y="108.00" width="2.0" height="24.50" fill="#2671f3"/>
<rect x="179.0" y="108.00" width="2.0" height="24.50" fill="#2666f8"/>
<rect x="180.0" y="108.00" width="6.0" height="24.50" fill="#1c69f8"/>
<rect x="185.0" y="108.00" width="2.0" height="24.50" fill="#2666f8"/>
<rect x="186.0" y="108.00" width="2.0" height="24.50" fill="#1c69f8"/>
<rect x="187.0" y="108.00" width="2.0" height="24.50" fill="#2666f8"/>
<rect x="188.0" y="108.00" width="3.0" height="24.50" fill="#1c69f8"/>
<rect x="190.0" y="108.00" width="10.0" height="24.50" fill="#3a61f8"/>
<rect x="199.0" y="108.00" width="5.0" height="24.50" fill="#1c69f8"/>
<rect x="203.0" y="108.00" width="3.0" height="24.50" fill="#2666f8"/>
<rect x="205.0" y="108.00" width="4.0" height="24.50" fill="#1c69f8"/>
<rect x="208.0" y="108.00" width="3.0" height="24.50" fill="#2666f8"/>
<rect x="210.0" y="108.00" width="2.0" height="24.50" fill="#1c69f8"/>
<rect x="211.0" y="108.00" width="2.0" height="24.50" fill="#2666f8"/>
<rect x="212.0" y="108.00" width="4.0" height="24.50" fill="#1c69f8"/>
<rect x="215.0" y="108.00" width="2.0" height="24.50" fill="#2666f8"/>
<rect x="216.0" y="108.00" width="3.0" height="24.50" fill="#1c69f8"/>
<rect x="218.0" y="108.00" width="2.0" height="24.50" fill="#2666f8"/>
<rect x="219.0" y="108.00" width="2.0" height="24.50" fill="#1c69f8"/>
<rect x="220.0" y="108.00" width="2.0" height="24.50" fill="#2666f8"/>
<rect x="221.0" y="108.00" width="8.0" height="24.50" fill="#1c69f8"/>
<rect x="228.0" y="108.00" width="2.0" height="24.50" fill="#2f76ef"/>
<rect x="229.0" y="108.00" width="3.0" height="24.50" fill="#3378ed"/>
<rect x="231.0" y="108.00" width="2.0" height="24.50" fill="#2671f3"/>
<rect x="232.0" y="108.00" width="3.0" height="24.50" fill="#2666f8"/>
<rect x="234.0" y="108.00" width="2.0" height="24.50" fill="#1c69f8"/>
<rect x="235.0" y="108.00" width="2.0" height="24.50" fill="#377bec"/>
<rect x="236.0" y="108.00" width="2.0" height="24.50" fill="#2f76ef"/>
<rect x="237.0" y="108.00" width="2.0" height="24.50" fill="#2666f8"/>
<rect x="238.0" y="108.00" width="2.0" height="24.50" fill="#1c69f8"/>
<rect x="239.0" y="108.00" width="3.0" height="24.50" fill="#2f76ef"/>
<rect x="241.0" y="108.00" width="2.0" height="24.50" fill="#2666f8"/>
<rect x="242.0" y="108.00" width="3.0" height="24.50" fill="#1c69f8"/>
<rect x="244.0" y="108.00" width="2.0" height="24.50" fill="#2666f8"/>
<rect x="245.0" y="108.00" width="2.0" height="24.50" fill="#1c69f8"/>
<rect x="246.0" y="108.00" width="3.0" height="24.50" fill="#2666f8"/>
<rect x="248.0" y="108.00" width="3.0" height="24.50" fill="#1c69f8"/>
<rect x="250.0" y="108.00" width="2.0" height="24.50" fill="#2666f8"/>
<rect x="251.0" y="108.00" width="2.0" height="24.50" fill="#1c69f8"/>
<rect x="252.0" y="108.00" width="7.6" height="24.50" fill="#4e5bf8"/>
<rect x="42.0" y="131.50" width="5.0" height="24.50" fill="#226ef5"/>
<rect x="46.0" y="131.50" width="2.0" height="24.50" fill="#2a73f1"/>
<rect x="47.0" y="131.50" width="2.0" height="24.50" fill="#3378ed"/>
<rect x="48.0" y="131.50" width="3.0" height="24.50" fill="#2671f3"/>
<rect x="50.0" y="131.50" width="2.0" height="24.50" fill="#2a73f1"/>
<rect x="51.0" y="131.50" width="2.0" height="24.50" fill="#2666f8"/>
<rect x="52.0" y="131.50" width="2.0" height="24.50" fill="#2a73f1"/>
<rect x="53.0" y="131.50" width="2.0" height="24.50" fill="#2f76ef"/>
<rect x="54.0" y="131.50" width="13.0" height="24.50" fill="#3064f8"/>
<rect x="66.0" y="131.50" width="4.0" height="24.50" fill="#1c69f8"/>
<rect x="69.0" y="131.50" width="2.0" height="24.50" fill="#2666f8"/>
<rect x="70.0" y="131.50" width="3.0" height="24.50" fill="#1c69f8"/>
<rect x="72.0" y="131.50" width="3.0" height="24.50" fill="#2666f8"/>
<rect x="74.0" y="131.50" width="2.0" height="24.50" fill="#2f76ef"/>
<rect x="75.0" y="131.50" width="2.0" height="24.50" fill="#226ef5"/>
<rect x="76.0" y="131.50" width="2.0" height="24.50" fill="#2a73f1"/>
<rect x="77.0" y="131.50" width="3.0" height="24.50" fill="#226ef5"/>
<rect x="79.0" y="131.50" width="2.0" height="24.50" fill="#2666f8"/>
<rect x="80.0" y="131.50" width="2.0" height="24.50" fill="#1c69f8"/>
<rect x="81.0" y="131.50" width="3.0" height="24.50" fill="#2a73f1"/>
<rect x="83.0" y="131.50" width="2.0" height="24.50" fill="#2671f3"/>
<rect x="84.0" y="131.50" width="4.0" height="24.50" fill="#1c69f8"/>
<rect x="87.0" y="131.50" width="2.0" height="24.50" fill="#2666f8"/>
<rect x="88.0" y="131.50" width="4.0" height="24.50" fill="#1c69f8"/>
<rect x="91.0" y="131.50" width="3.0" height="24.50" fill="#226ef5"/>
<rect x="93.0" y="131.50" width="3.0" height="24.50" fill="#3378ed"/>
<rect x="95.0" y="131.50" width="3.0" height="24.50" fill="#2666f8"/>
<rect x="97.0" y="131.50" width="2.0" height="24.50" fill="#3378ed"/>
<rect x="98.0" y="131.50" width="2.0" height="24.50" fill="#2671f3"/>
<rect x="99.0" y="131.50" width="2.0" height="24.50" fill="#3378ed"/>
<rect x="100.0" y="131.50" width="3.0" height="24.50" fill="#1c69f8"/>
<rect x="102.0" y="131.50" width="2.0" height="24.50" fill="#2a73f1"/>
<rect x="103.0" y="131.50" width="2.0" height="24.50" fill="#2f76ef"/>
<rect x="104.0" y="131.50" width="4.0" height="24.50" fill="#1c69f8"/>
<rect x="107.0" y="131.50" width="3.0" height="24.50" fill="#3378ed"/>
<rect x="109.0" y="131.50" width="3.0" height="24.50" fill="#2666f8"/>
<rect x="111.0" y="131.50" width="2.0" height="24.50" fill="#1c69f8"/>
<rect x="112.0" y="131.50" width="2.0" height="24.50" fill="#2666f8"/>
<rect x="113.0" y="131.50" width="2.0" height="24.50" fill="#2f76ef"/>
<rect x="114.0" y="131.50" width="2.0" height="24.50" fill="#1c69f8"/>
<rect x="115.0" y="131.50" width="2.0" height="24.50" fill="#226ef5"/>
<rect x="116.0" y="131.50" width="2.0" height="24.50" fill="#2666f8"/>
<rect x="117.0" y="131.50" width="2.0" height="24.50" fill="#1c69f8"/>
<rect x="118.0" y="131.50" width="2.0" height="24.50" fill="#2a73f1"/>
<rect x="119.0" y="131.50" width="2.0" height="24.50" fill="#2666f8"/>
<rect x="120.0" y="131.50" width="2.0" height="24.50" fill="#2a73f1"/>
<rect x="121.0" y="131.50" width="3.0" height="24.50" fill="#1c69f8"/>
<rect x="123.0" y="131.50" width="3.0" height="24.50" fill="#2666f8"/>
<rect x="125.0" y="131.50" width="2.0" height="24.50" fill="#3378ed"/>
<rect x="126.0" y="131.50" width="2.0" height="24.50" fill="#2f76ef"/>
<rect x="127.0" y="131.50" width="2.0" height="24.50" fill="#2666f8"/>
<rect x="128.0" y="131.50" width="2.0" height="24.50" fill="#2f76ef"/>
<rect x="129.0" y="131.50" width="3.0" height="24.50" fill="#2666f8"/>
<rect x="131.0" y="131.50" width="2.0" height="24.50" fill="#2f76ef"/>
<rect x="132.0" y="131.50" width="2.0" height="24.50" fill="#2671f3"/>
<rect x="133.0" y="131.50" width="2.0" height="24.50" fill="#1c69f8"/>
<rect x="134.0" y="131.50" width="2.0" height="24.50" fill="#2f76ef"/>
<rect x="135.0" y="131.50" width="3.0" height="24.50" fill="#2666f8"/>
<rect x="137.0" y="131.50" width="2.0" height="24.50" fill="#2671f3"/>
<rect x="138.0" y="131.50" width="2.0" height="24.50" fill="#2666f8"/>
<rect x="139.0" y="131.50" width="2.0" height="24.50" fill="#1c69f8"/>
<rect x="140.0" y="131.50" width="3.0" height="24.50" fill="#2666f8"/>
<rect x="142.0" y="131.50" width="5.0" height="24.50" fill="#1c69f8"/>
<rect x="146.0" y="131.50" width="2.0" height="24.50" fill="#2666f8"/>
<rect x="147.0" y="131.50" width="2.0" height="24.50" fill="#2f76ef"/>
<rect x="148.0" y="131.50" width="2.0" height="24.50" fill="#1c69f8"/>
<rect x="149.0" y="131.50" width="2.0" height="24.50" fill="#2666f8"/>
<rect x="150.0" y="131.50" width="2.0" height="24.50" fill="#2f76ef"/>
<rect x="151.0" y="131.50" width="2.0" height="24.50" fill="#2666f8"/>
<rect x="152.0" y="131.50" width="2.0" height="24.50" fill="#1c69f8"/>
<rect x="153.0" y="131.50" width="2.0" height="24.50" fill="#3378ed"/>
<rect x="154.0" y="131.50" width="2.0" height="24.50" fill="#2f76ef"/>
<rect x="155.0" y="131.50" width="3.0" height="24.50" fill="#1c69f8"/>
<rect x="157.0" y="131.50" width="2.0" height="24.50" fill="#2f76ef"/>
<rect x="158.0" y="131.50" width="2.0" height="24.50" fill="#3378ed"/>
<rect x="159.0" y="131.50" width="2.0" height="24.50" fill="#2666f8"/>
<rect x="160.0" y="131.50" width="3.0" height="24.50" fill="#2f76ef"/>
<rect x="162.0" y="131.50" width="2.0" height="24.50" fill="#2a73f1"/>
<rect x="163.0" y="131.50" width="2.0" height="24.50" fill="#2666f8"/>
<rect x="164.0" y="131.50" width="3.0" height="24.50" fill="#1c69f8"/>
<rect x="166.0" y="131.50" width="2.0" height="24.50" fill="#2f76ef"/>
<rect x="167.0" y="131.50" width="2.0" height="24.50" fill="#1c69f8"/>
<rect x="168.0" y="131.50" width="2.0" height="24.50" fill="#2a73f1"/>
<rect x="169.0" y="131.50" width="2.0" height="24.50" fill="#2666f8"/>
<rect x="170.0" y="131.50" width="2.0" height="24.50" fill="#2f76ef"/>
<rect x="171.0" y="131.50" width="2.0" height="24.50" fill="#2671f3"/>
<rect x="172.0" y="131.50" width="3.0" height="24.50" fill="#1c69f8"/>
<rect x="174.0" y="131.50" width="2.0" height="24.50" fill="#2671f3"/>
<rect x="175.0" y="131.50" width="3.0" height="24.50" fill="#2666f8"/>
<rect x="177.0" y="131.50" width="2.0" height="24.50" fill="#1c69f8"/>
<rect x="178.0" y="131.50" width="2.0" height="24.50" fill="#2671f3"/>
<rect x="179.0" y="131.50" width="2.0" height="24.50" fill="#2666f8"/>
<rect x="180.0" y="131.50" width="2.0" height="24.50" fill="#1c69f8"/>
<rect x="181.0" y="131.50" width="2.0" height="24.50" fill="#2a73f1"/>
<rect x="182.0" y="131.50" width="4.0" height="24.50" fill="#1c69f8"/>
<rect x="185.0" y="131.50" width="2.0" height="24.50" fill="#2666f8"/>
<rect x="186.0" y="131.50" width="2.0" height="24.50" fill="#1c69f8"/>
<rect x="187.0" y="131.50" width="2.0" height="24.50" fill="#2666f8"/>
<rect x="188.0" y="131.50" width="3.0" height="24.50" fill="#1c69f8"/>
<rect x="190.0" y="131.50" width="2.0" height="24.50" fill="#2666f8"/>
<rect x="191.0" y="131.50" width="6.0" height="24.50" fill="#5b57f8"/>
<rect x="196.0" y="131.50" width="2.0" height="24.50" fill="#1c69f8"/>
<rect x="197.0" y="131.50" width="3.0" height="24.50" fill="#2666f8"/>
<rect x="199.0" y="131.50" width="2.0" height="24.50" fill="#1c69f8"/>
<rect x="200.0" y="131.50" width="4.0" height="24.50" fill="#2671f3"/>
<rect x="203.0" y="131.50" width="3.0" height="24.50" fill="#2666f8"/>
<rect x="205.0" y="131.50" width="4.0" height="24.50" fill="#1c69f8"/>
<rect x="208.0" y="131.50" width="2.0" height="24.50" fill="#226ef5"/>
<rect x="209.0" y="131.50" width="2.0" height="24.50" fill="#2666f8"/>
<rect x="210.0" y="131.50" width="2.0" height="24.50" fill="#1c69f8"/>
<rect x="211.0" y="131.50" width="2.0" height="24.50" fill="#2666f8"/>
<rect x="212.0" y="131.50" width="2.0" height="24.50" fill="#2671f3"/>
<rect x="213.0" y="131.50" width="3.0" height="24.50" fill="#1c69f8"/>
<rect x="215.0" y="131.50" width="2.0" height="24.50" fill="#2666f8"/>
<rect x="216.0" y="131.50" width="2.0" height="24.50" fill="#226ef5"/>
<rect x="217.0" y="131.50" width="2.0" height="24.50" fill="#1c69f8"/>
<rect x="218.0" y="131.50" width="2.0" height="24.50" fill="#2666f8"/>
<rect x="219.0" y="131.50" width="3.0" height="24.50" fill="#2671f3"/>
<rect x="221.0" y="131.50" width="3.0" height="24.50" fill="#1c69f8"/>
<rect x="223.0" y="131.50" width="2.0" height="24.50" fill="#2671f3"/>
<rect x="224.0" y="131.50" width="5.0" height="24.50" fill="#1c69f8"/>
<rect x="228.0" y="131.50" width="2.0" height="24.50" fill="#3378ed"/>
<rect x="229.0" y="131.50" width="2.0" height="24.50" fill="#2f76ef"/>
<rect x="230.0" y="131.50" width="2.0" height="24.50" fill="#3378ed"/>
<rect x="231.0" y="131.50" width="2.0" height="24.50" fill="#226ef5"/>
<rect x="232.0" y="131.50" width="2.0" height="24.50" fill="#2a73f1"/>
<rect x="233.0" y="131.50" width="2.0" height="24.50" fill="#2666f8"/>
<rect x="234.0" y="131.50" width="2.0" height="24.50" fill="#1c69f8"/>
<rect x="235.0" y="131.50" width="2.0" height="24.50" fill="#2f76ef"/>
<rect x="236.0" y="131.50" width="2.0" height="24.50" fill="#3378ed"/>
<rect x="237.0" y="131.50" width="2.0" height="24.50" fill="#2666f8"/>
<rect x="238.0" y="131.50" width="2.0" height="24.50" fill="#1c69f8"/>
<rect x="239.0" y="131.50" width="2.0" height="24.50" fill="#2f76ef"/>
<rect x="240.0" y="131.50" width="2.0" height="24.50" fill="#3378ed"/>
<rect x="241.0" y="131.50" width="2.0" height="24.50" fill="#2666f8"/>
<rect x="242.0" y="131.50" width="3.0" height="24.50" fill="#1c69f8"/>
<rect x="244.0" y="131.50" width="2.0" height="24.50" fill="#2666f8"/>
<rect x="245.0" y="131.50" width="2.0" height="24.50" fill="#1c69f8"/>
<rect x="246.0" y="131.50" width="3.0" height="24.50" fill="#2666f8"/>
<rect x="248.0" y="131.50" width="3.0" height="24.50" fill="#1c69f8"/>
<rect x="250.0" y="131.50" width="2.0" height="24.50" fill="#2666f8"/>
<rect x="251.0" y="131.50" width="2.0" height="24.50" fill="#1c69f8"/>
<rect x="252.0" y="131.50" width="7.6" height="24.50" fill="#4e5bf8"/>
<rect x="42.0" y="155.00" width="5.0" height="24.50" fill="#2a73f1"/>
<rect x="46.0" y="155.00" width="2.0" height="24.50" fill="#3378ed"/>
<rect x="47.0" y="155.00" width="2.0" height="24.50" fill="#3c7dea"/>
<rect x="48.0" y="155.00" width="2.0" height="24.50" fill="#2a73f1"/>
<rect x="49.0" y="155.00" width="2.0" height="24.50" fill="#2f76ef"/>
<rect x="50.0" y="155.00" width="2.0" height="24.50" fill="#2a73f1"/>
<rect x="51.0" y="155.00" width="2.0" height="24.50" fill="#2666f8"/>
<rect x="52.0" y="155.00" width="2.0" height="24.50" fill="#2a73f1"/>
<rect x="53.0" y="155.00" width="2.0" height="24.50" fill="#2f76ef"/>
<rect x="54.0" y="155.00" width="13.0" height="24.50" fill="#3064f8"/>
<rect x="66.0" y="155.00" width="7.0" height="24.50" fill="#1c69f8"/>
<rect x="72.0" y="155.00" width="2.0" height="24.50" fill="#2666f8"/>
<rect x="73.0" y="155.00" width="2.0" height="24.50" fill="#2671f3"/>
<rect x="74.0" y="155.00" width="2.0" height="24.50" fill="#3378ed"/>
<rect x="75.0" y="155.00" width="2.0" height="24.50" fill="#2671f3"/>
<rect x="76.0" y="155.00" width="4.0" height="24.50" fill="#2a73f1"/>
<rect x="79.0" y="155.00" width="2.0" height="24.50" fill="#2666f8"/>
<rect x="80.0" y="155.00" width="2.0" height="24.50" fill="#1c69f8"/>
<rect x="81.0" y="155.00" width="2.0" height="24.50" fill="#2a73f1"/>
<rect x="82.0" y="155.00" width="2.0" height="24.50" fill="#2f76ef"/>
<rect x="83.0" y="155.00" width="2.0" height="24.50" fill="#2a73f1"/>
<rect x="84.0" y="155.00" width="2.0" height="24.50" fill="#226ef5"/>
<rect x="85.0" y="155.00" width="3.0" height="24.50" fill="#1c69f8"/>
<rect x="87.0" y="155.00" width="2.0" height="24.50" fill="#2666f8"/>
<rect x="88.0" y="155.00" width="2.0" height="24.50" fill="#1c69f8"/>
<rect x="89.0" y="155.00" width="2.0" height="24.50" fill="#2a73f1"/>
<rect x="90.0" y="155.00" width="2.0" height="24.50" fill="#1c69f8"/>
<rect x="91.0" y="155.00" width="2.0" height="24.50" fill="#2671f3"/>
<rect x="92.0" y="155.00" width="2.0" height="24.50" fill="#2a73f1"/>
<rect x="93.0" y="155.00" width="3.0" height="24.50" fill="#3c7dea"/>
<rect x="95.0" y="155.00" width="3.0" height="24.50" fill="#2666f8"/>
<rect x="97.0" y="155.00" width="2.0" height="24.50" fill="#3378ed"/>
<rect x="98.0" y="155.00" width="2.0" height="24.50" fill="#2f76ef"/>
<rect x="99.0" y="155.00" width="2.0" height="24.50" fill="#3c7dea"/>
<rect x="100.0" y="155.00" width="2.0" height="24.50" fill="#2671f3"/>
<rect x="101.0" y="155.00" width="2.0" height="24.50" fill="#1c69f8"/>
<rect x="102.0" y="155.00" width="2.0" height="24.50" fill="#2f76ef"/>
<rect x="103.0" y="155.00" width="2.0" height="24.50" fill="#3378ed"/>
<rect x="104.0" y="155.00" width="4.0" height="24.50" fill="#1c69f8"/>
<rect x="107.0" y="155.00" width="2.0" height="24.50" fill="#3c7dea"/>
<rect x="108.0" y="155.00" width="2.0" height="24.50" fill="#3378ed"/>
<rect x="109.0" y="155.00" width="2.0" height="24.50" fill="#1c69f8"/>
<rect x="110.0" y="155.00" width="2.0" height="24.50" fill="#2666f8"/>
<rect x="111.0" y="155.00" width="2.0" height="24.50" fill="#1c69f8"/>
<rect x="112.0" y="155.00" width="2.0" height="24.50" fill="#2666f8"/>
<rect x="113.0" y="155.00" width="2.0" height="24.50" fill="#2a73f1"/>
<rect x="114.0" y="155.00" width="2.0" height="24.50" fill="#1c69f8"/>
<rect x="115.0" y="155.00" width="2.0" height="24.50" fill="#2671f3"/>
<rect x="116.0" y="155.00" width="2.0" height="24.50" fill="#2666f8"/>
<rect x="117.0" y="155.00" width="2.0" height="24.50" fill="#1c69f8"/>
<rect x="118.0" y="155.00" width="2.0" height="24.50" fill="#2a73f1"/>
<rect x="119.0" y="155.00" width="2.0" height="24.50" fill="#1c69f8"/>
<rect x="120.0" y="155.00" width="2.0" height="24.50" fill="#2a73f1"/>
<rect x="121.0" y="155.00" width="3.0" height="24.50" fill="#1c69f8"/>
<rect x="123.0" y="155.00" width="3.0" height="24.50" fill="#2666f8"/>
<rect x="125.0" y="155.00" width="2.0" height="24.50" fill="#3c7dea"/>
<rect x="126.0" y="155.00" width="2.0" height="24.50" fill="#3378ed"/>
<rect x="127.0" y="155.00" width="2.0" height="24.50" fill="#2671f3"/>
<rect x="128.0" y="155.00" width="2.0" height="24.50" fill="#377bec"/>
<rect x="129.0" y="155.00" width="3.0" height="24.50" fill="#2666f8"/>
<rect x="131.0" y="155.00" width="2.0" height="24.50" fill="#3378ed"/>
<rect x="132.0" y="155.00" width="2.0" height="24.50" fill="#2f76ef"/>
<rect x="133.0" y="155.00" width="2.0" height="24.50" fill="#1c69f8"/>
<rect x="134.0" y="155.00" width="2.0" height="24.50" fill="#377bec"/>
<rect x="135.0" y="155.00" width="3.0" height="24.50" fill="#2666f8"/>
<rect x="137.0" y="155.00" width="2.0" height="24.50" fill="#2671f3"/>
<rect x="138.0" y="155.00" width="2.0" height="24.50" fill="#2666f8"/>
<rect x="139.0" y="155.00" width="2.0" height="24.50" fill="#1c69f8"/>
<rect x="140.0" y="155.00" width="3.0" height="24.50" fill="#2666f8"/>
<rect x="142.0" y="155.00" width="5.0" height="24.50" fill="#1c69f8"/>
<rect x="146.0" y="155.00" width="2.0" height="24.50" fill="#2666f8"/>
<rect x="147.0" y="155.00" width="2.0" height="24.50" fill="#2a73f1"/>
<rect x="148.0" y="155.00" width="2.0" height="24.50" fill="#2671f3"/>
<rect x="149.0" y="155.00" width="2.0" height="24.50" fill="#226ef5"/>
<rect x="150.0" y="155.00" width="2.0" height="24.50" fill="#3378ed"/>
<rect x="151.0" y="155.00" width="2.0" height="24.50" fill="#2666f8"/>
<rect x="152.0" y="155.00" width="2.0" height="24.50" fill="#1c69f8"/>
<rect x="153.0" y="155.00" width="2.0" height="24.50" fill="#377bec"/>
<rect x="154.0" y="155.00" width="2.0" height="24.50" fill="#3378ed"/>
<rect x="155.0" y="155.00" width="3.0" height="24.50" fill="#1c69f8"/>
<rect x="157.0" y="155.00" width="2.0" height="24.50" fill="#3378ed"/>
<rect x="158.0" y="155.00" width="2.0" height="24.50" fill="#377bec"/>
<rect x="159.0" y="155.00" width="2.0" height="24.50" fill="#2666f8"/>
<rect x="160.0" y="155.00" width="2.0" height="24.50" fill="#3c7dea"/>
<rect x="161.0" y="155.00" width="2.0" height="24.50" fill="#377bec"/>
<rect x="162.0" y="155.00" width="2.0" height="24.50" fill="#2f76ef"/>
<rect x="163.0" y="155.00" width="2.0" height="24.50" fill="#2666f8"/>
<rect x="164.0" y="155.00" width="3.0" height="24.50" fill="#1c69f8"/>
<rect x="166.0" y="155.00" width="2.0" height="24.50" fill="#3378ed"/>
<rect x="167.0" y="155.00" width="2.0" height="24.50" fill="#1c69f8"/>
<rect x="168.0" y="155.00" width="2.0" height="24.50" fill="#2f76ef"/>
<rect x="169.0" y="155.00" width="2.0" height="24.50" fill="#1c69f8"/>
<rect x="170.0" y="155.00" width="2.0" height="24.50" fill="#3378ed"/>
<rect x="171.0" y="155.00" width="2.0" height="24.50" fill="#2a73f1"/>
<rect x="172.0" y="155.00" width="3.0" height="24.50" fill="#1c69f8"/>
<rect x="174.0" y="155.00" width="2.0" height="24.50" fill="#2a73f1"/>
<rect x="175.0" y="155.00" width="3.0" height="24.50" fill="#2666f8"/>
<rect x="177.0" y="155.00" width="2.0" height="24.50" fill="#1c69f8"/>
<rect x="178.0" y="155.00" width="2.0" height="24.50" fill="#2f76ef"/>
<rect x="179.0" y="155.00" width="2.0" height="24.50" fill="#2666f8"/>
<rect x="180.0" y="155.00" width="2.0" height="24.50" fill="#1c69f8"/>
<rect x="181.0" y="155.00" width="2.0" height="24.50" fill="#2a73f1"/>
<rect x="182.0" y="155.00" width="6.0" height="24.50" fill="#1c69f8"/>
<rect x="187.0" y="155.00" width="2.0" height="24.50" fill="#2666f8"/>
<rect x="188.0" y="155.00" width="3.0" height="24.50" fill="#1c69f8"/>
<rect x="190.0" y="155.00" width="2.0" height="24.50" fill="#2666f8"/>
<rect x="191.0" y="155.00" width="2.0" height="24.50" fill="#1c69f8"/>
<rect x="192.0" y="155.00" width="6.0" height="24.50" fill="#5b57f8"/>
<rect x="197.0" y="155.00" width="3.0" height="24.50" fill="#2666f8"/>
<rect x="199.0" y="155.00" width="2.0" height="24.50" fill="#1c69f8"/>
<rect x="200.0" y="155.00" width="2.0" height="24.50" fill="#2a73f1"/>
<rect x="201.0" y="155.00" width="2.0" height="24.50" fill="#226ef5"/>
<rect x="202.0" y="155.00" width="2.0" height="24.50" fill="#2671f3"/>
<rect x="203.0" y="155.00" width="3.0" height="24.50" fill="#2666f8"/>
<rect x="205.0" y="155.00" width="4.0" height="24.50" fill="#1c69f8"/>
<rect x="208.0" y="155.00" width="2.0" height="24.50" fill="#2671f3"/>
<rect x="209.0" y="155.00" width="2.0" height="24.50" fill="#2666f8"/>
<rect x="210.0" y="155.00" width="2.0" height="24.50" fill="#1c69f8"/>
<rect x="211.0" y="155.00" width="2.0" height="24.50" fill="#226ef5"/>
<rect x="212.0" y="155.00" width="2.0" height="24.50" fill="#2a73f1"/>
<rect x="213.0" y="155.00" width="2.0" height="24.50" fill="#2671f3"/>
<rect x="214.0" y="155.00" width="2.0" height="24.50" fill="#226ef5"/>
<rect x="215.0" y="155.00" width="3.0" height="24.50" fill="#2a73f1"/>
<rect x="217.0" y="155.00" width="3.0" height="24.50" fill="#1c69f8"/>
<rect x="219.0" y="155.00" width="2.0" height="24.50" fill="#2a73f1"/>
<rect x="220.0" y="155.00" width="2.0" height="24.50" fill="#2671f3"/>
<rect x="221.0" y="155.00" width="2.0" height="24.50" fill="#1c69f8"/>
<rect x="222.0" y="155.00" width="2.0" height="24.50" fill="#226ef5"/>
<rect x="223.0" y="155.00" width="2.0" height="24.50" fill="#2671f3"/>
<rect x="224.0" y="155.00" width="8.0" height="24.50" fill="#1c69f8"/>
<rect x="231.0" y="155.00" width="2.0" height="24.50" fill="#2671f3"/>
<rect x="232.0" y="155.00" width="2.0" height="24.50" fill="#2a73f1"/>
<rect x="233.0" y="155.00" width="3.0" height="24.50" fill="#1c69f8"/>
<rect x="235.0" y="155.00" width="2.0" height="24.50" fill="#2666f8"/>
<rect x="236.0" y="155.00" width="2.0" height="24.50" fill="#1c69f8"/>
<rect x="237.0" y="155.00" width="2.0" height="24.50" fill="#2666f8"/>
<rect x="238.0" y="155.00" width="2.0" height="24.50" fill="#1c69f8"/>
<rect x="239.0" y="155.00" width="4.0" height="24.50" fill="#2666f8"/>
<rect x="242.0" y="155.00" width="3.0" height="24.50" fill="#1c69f8"/>
<rect x="244.0" y="155.00" width="2.0" height="24.50" fill="#2666f8"/>
<rect x="245.0" y="155.00" width="2.0" height="24.50" fill="#1c69f8"/>
<rect x="246.0" y="155.00" width="3.0" height="24.50" fill="#2666f8"/>
<rect x="248.0" y="155.00" width="2.0" height="24.50" fill="#2671f3"/>
<rect x="249.0" y="155.00" width="2.0" height="24.50" fill="#1c69f8"/>
<rect x="250.0" y="155.00" width="2.0" height="24.50" fill="#2666f8"/>
<rect x="251.0" y="155.00" width="2.0" height="24.50" fill="#1c69f8"/>
<rect x="252.0" y="155.00" width="7.6" height="24.50" fill="#4e5bf8"/>
<rect x="42.0" y="178.50" width="5.0" height="24.50" fill="#2a73f1"/>
<rect x="46.0" y="178.50" width="2.0" height="24.50" fill="#2f76ef"/>
<rect x="47.0" y="178.50" width="2.0" height="24.50" fill="#4282e6"/>
<rect x="48.0" y="178.50" width="2.0" height="24.50" fill="#3378ed"/>
<rect x="49.0" y="178.50" width="2.0" height="24.50" fill="#2f76ef"/>
<rect x="50.0" y="178.50" width="2.0" height="24.50" fill="#3378ed"/>
<rect x="51.0" y="178.50" width="2.0" height="24.50" fill="#2666f8"/>
<rect x="52.0" y="178.50" width="2.0" height="24.50" fill="#2a73f1"/>
<rect x="53.0" y="178.50" width="2.0" height="24.50" fill="#3378ed"/>
<rect x="54.0" y="178.50" width="2.0" height="24.50" fill="#3c7dea"/>
<rect x="55.0" y="178.50" width="4.0" height="24.50" fill="#1c69f8"/>
<rect x="58.0" y="178.50" width="2.0" height="24.50" fill="#4080e8"/>
<rect x="59.0" y="178.50" width="2.0" height="24.50" fill="#377bec"/>
<rect x="60.0" y="178.50" width="2.0" height="24.50" fill="#2666f8"/>
<rect x="61.0" y="178.50" width="2.0" height="24.50" fill="#3c7dea"/>
<rect x="62.0" y="178.50" width="2.0" height="24.50" fill="#4080e8"/>
<rect x="63.0" y="178.50" width="2.0" height="24.50" fill="#3378ed"/>
<rect x="64.0" y="178.50" width="2.0" height="24.50" fill="#2a73f1"/>
<rect x="65.0" y="178.50" width="8.0" height="24.50" fill="#1c69f8"/>
<rect x="72.0" y="178.50" width="2.0" height="24.50" fill="#2666f8"/>
<rect x="73.0" y="178.50" width="2.0" height="24.50" fill="#2a73f1"/>
<rect x="74.0" y="178.50" width="2.0" height="24.50" fill="#377bec"/>
<rect x="75.0" y="178.50" width="3.0" height="24.50" fill="#2a73f1"/>
<rect x="77.0" y="178.50" width="3.0" height="24.50" fill="#2f76ef"/>
<rect x="79.0" y="178.50" width="2.0" height="24.50" fill="#2671f3"/>
<rect x="80.0" y="178.50" width="2.0" height="24.50" fill="#1c69f8"/>
<rect x="81.0" y="178.50" width="2.0" height="24.50" fill="#3378ed"/>
<rect x="82.0" y="178.50" width="2.0" height="24.50" fill="#377bec"/>
<rect x="83.0" y="178.50" width="2.0" height="24.50" fill="#2f76ef"/>
<rect x="84.0" y="178.50" width="2.0" height="24.50" fill="#2671f3"/>
<rect x="85.0" y="178.50" width="3.0" height="24.50" fill="#1c69f8"/>
<rect x="87.0" y="178.50" width="2.0" height="24.50" fill="#2666f8"/>
<rect x="88.0" y="178.50" width="2.0" height="24.50" fill="#1c69f8"/>
<rect x="89.0" y="178.50" width="2.0" height="24.50" fill="#2a73f1"/>
<rect x="90.0" y="178.50" width="2.0" height="24.50" fill="#1c69f8"/>
<rect x="91.0" y="178.50" width="3.0" height="24.50" fill="#2a73f1"/>
<rect x="93.0" y="178.50" width="2.0" height="24.50" fill="#4282e6"/>
<rect x="94.0" y="178.50" width="2.0" height="24.50" fill="#377bec"/>
<rect x="95.0" y="178.50" width="3.0" height="24.50" fill="#2666f8"/>
<rect x="97.0" y="178.50" width="2.0" height="24.50" fill="#3c7dea"/>
<rect x="98.0" y="178.50" width="2.0" height="24.50" fill="#2f76ef"/>
<rect x="99.0" y="178.50" width="2.0" height="24.50" fill="#4282e6"/>
<rect x="100.0" y="178.50" width="2.0" height="24.50" fill="#2a73f1"/>
<rect x="101.0" y="178.50" width="2.0" height="24.50" fill="#1c69f8"/>
<rect x="102.0" y="178.50" width="2.0" height="24.50" fill="#3378ed"/>
<rect x="103.0" y="178.50" width="2.0" height="24.50" fill="#3c7dea"/>
<rect x="104.0" y="178.50" width="3.0" height="24.50" fill="#1c69f8"/>
<rect x="106.0" y="178.50" width="2.0" height="24.50" fill="#2671f3"/>
<rect x="107.0" y="178.50" width="2.0" height="24.50" fill="#4584e5"/>
<rect x="108.0" y="178.50" width="2.0" height="24.50" fill="#3c7dea"/>
<rect x="109.0" y="178.50" width="2.0" height="24.50" fill="#1c69f8"/>
<rect x="110.0" y="178.50" width="2.0" height="24.50" fill="#2666f8"/>
<rect x="111.0" y="178.50" width="2.0" height="24.50" fill="#1c69f8"/>
<rect x="112.0" y="178.50" width="2.0" height="24.50" fill="#2666f8"/>
<rect x="113.0" y="178.50" width="2.0" height="24.50" fill="#377bec"/>
<rect x="114.0" y="178.50" width="2.0" height="24.50" fill="#1c69f8"/>
<rect x="115.0" y="178.50" width="2.0" height="24.50" fill="#2a73f1"/>
<rect x="116.0" y="178.50" width="2.0" height="24.50" fill="#2671f3"/>
<rect x="117.0" y="178.50" width="2.0" height="24.50" fill="#1c69f8"/>
<rect x="118.0" y="178.50" width="2.0" height="24.50" fill="#2f76ef"/>
<rect x="119.0" y="178.50" width="2.0" height="24.50" fill="#1c69f8"/>
<rect x="120.0" y="178.50" width="2.0" height="24.50" fill="#2671f3"/>
<rect x="121.0" y="178.50" width="3.0" height="24.50" fill="#1c69f8"/>
<rect x="123.0" y="178.50" width="3.0" height="24.50" fill="#2666f8"/>
<rect x="125.0" y="178.50" width="2.0" height="24.50" fill="#4080e8"/>
<rect x="126.0" y="178.50" width="2.0" height="24.50" fill="#377bec"/>
<rect x="127.0" y="178.50" width="2.0" height="24.50" fill="#2671f3"/>
<rect x="128.0" y="178.50" width="2.0" height="24.50" fill="#3c7dea"/>
<rect x="129.0" y="178.50" width="2.0" height="24.50" fill="#1c69f8"/>
<rect x="130.0" y="178.50" width="2.0" height="24.50" fill="#2671f3"/>
<rect x="131.0" y="178.50" width="2.0" height="24.50" fill="#3c7dea"/>
<rect x="132.0" y="178.50" width="2.0" height="24.50" fill="#3378ed"/>
<rect x="133.0" y="178.50" width="2.0" height="24.50" fill="#1c69f8"/>
<rect x="134.0" y="178.50" width="2.0" height="24.50" fill="#3c7dea"/>
<rect x="135.0" y="178.50" width="3.0" height="24.50" fill="#2666f8"/>
<rect x="137.0" y="178.50" width="2.0" height="24.50" fill="#2a73f1"/>
<rect x="138.0" y="178.50" width="2.0" height="24.50" fill="#2666f8"/>
<rect x="139.0" y="178.50" width="2.0" height="24.50" fill="#1c69f8"/>
<rect x="140.0" y="178.50" width="3.0" height="24.50" fill="#2666f8"/>
<rect x="142.0" y="178.50" width="3.0" height="24.50" fill="#1c69f8"/>
<rect x="144.0" y="178.50" width="2.0" height="24.50" fill="#226ef5"/>
<rect x="145.0" y="178.50" width="2.0" height="24.50" fill="#1c69f8"/>
<rect x="146.0" y="178.50" width="2.0" height="24.50" fill="#2666f8"/>
<rect x="147.0" y="178.50" width="2.0" height="24.50" fill="#2f76ef"/>
<rect x="148.0" y="178.50" width="2.0" height="24.50" fill="#2a73f1"/>
<rect x="149.0" y="178.50" width="2.0" height="24.50" fill="#2671f3"/>
<rect x="150.0" y="178.50" width="2.0" height="24.50" fill="#3c7dea"/>
<rect x="151.0" y="178.50" width="2.0" height="24.50" fill="#2666f8"/>
<rect x="152.0" y="178.50" width="2.0" height="24.50" fill="#1c69f8"/>
<rect x="153.0" y="178.50" width="2.0" height="24.50" fill="#3c7dea"/>
<rect x="154.0" y="178.50" width="2.0" height="24.50" fill="#377bec"/>
<rect x="155.0" y="178.50" width="3.0" height="24.50" fill="#1c69f8"/>
<rect x="157.0" y="178.50" width="2.0" height="24.50" fill="#377bec"/>
<rect x="158.0" y="178.50" width="2.0" height="24.50" fill="#3c7dea"/>
<rect x="159.0" y="178.50" width="2.0" height="24.50" fill="#2666f8"/>
<rect x="160.0" y="178.50" width="2.0" height="24.50" fill="#4080e8"/>
<rect x="161.0" y="178.50" width="2.0" height="24.50" fill="#3c7dea"/>
<rect x="162.0" y="178.50" width="2.0" height="24.50" fill="#2f76ef"/>
<rect x="163.0" y="178.50" width="2.0" height="24.50" fill="#226ef5"/>
<rect x="164.0" y="178.50" width="3.0" height="24.50" fill="#1c69f8"/>
<rect x="166.0" y="178.50" width="2.0" height="24.50" fill="#3c7dea"/>
<rect x="167.0" y="178.50" width="2.0" height="24.50" fill="#1c69f8"/>
<rect x="168.0" y="178.50" width="2.0" height="24.50" fill="#2f76ef"/>
<rect x="169.0" y="178.50" width="2.0" height="24.50" fill="#1c69f8"/>
<rect x="170.0" y="178.50" width="2.0" height="24.50" fill="#3378ed"/>
<rect x="171.0" y="178.50" width="2.0" height="24.50" fill="#2f76ef"/>
<rect x="172.0" y="178.50" width="3.0" height="24.50" fill="#1c69f8"/>
<rect x="174.0" y="178.50" width="2.0" height="24.50" fill="#2a73f1"/>
<rect x="175.0" y="178.50" width="3.0" height="24.50" fill="#2666f8"/>
<rect x="177.0" y="178.50" width="2.0" height="24.50" fill="#1c69f8"/>
<rect x="178.0" y="178.50" width="2.0" height="24.50" fill="#2a73f1"/>
<rect x="179.0" y="178.50" width="2.0" height="24.50" fill="#2671f3"/>
<rect x="180.0" y="178.50" width="2.0" height="24.50" fill="#1c69f8"/>
<rect x="181.0" y="178.50" width="2.0" height="24.50" fill="#2a73f1"/>
<rect x="182.0" y="178.50" width="6.0" height="24.50" fill="#1c69f8"/>
<rect x="187.0" y="178.50" width="2.0" height="24.50" fill="#2666f8"/>
<rect x="188.0" y="178.50" width="3.0" height="24.50" fill="#1c69f8"/>
<rect x="190.0" y="178.50" width="2.0" height="24.50" fill="#2666f8"/>
<rect x="191.0" y="178.50" width="2.0" height="24.50" fill="#1c69f8"/>
<rect x="192.0" y="178.50" width="2.0" height="24.50" fill="#2a73f1"/>
<rect x="193.0" y="178.50" width="6.0" height="24.50" fill="#6855f8"/>
<rect x="198.0" y="178.50" width="2.0" height="24.50" fill="#2666f8"/>
<rect x="199.0" y="178.50" width="2.0" height="24.50" fill="#1c69f8"/>
<rect x="200.0" y="178.50" width="4.0" height="24.50" fill="#2a73f1"/>
<rect x="203.0" y="178.50" width="3.0" height="24.50" fill="#2666f8"/>
<rect x="205.0" y="178.50" width="2.0" height="24.50" fill="#1c69f8"/>
<rect x="206.0" y="178.50" width="2.0" height="24.50" fill="#2671f3"/>
<rect x="207.0" y="178.50" width="2.0" height="24.50" fill="#1c69f8"/>
<rect x="208.0" y="178.50" width="2.0" height="24.50" fill="#2671f3"/>
<rect x="209.0" y="178.50" width="2.0" height="24.50" fill="#2666f8"/>
<rect x="210.0" y="178.50" width="2.0" height="24.50" fill="#1c69f8"/>
<rect x="211.0" y="178.50" width="2.0" height="24.50" fill="#2671f3"/>
<rect x="212.0" y="178.50" width="2.0" height="24.50" fill="#2f76ef"/>
<rect x="213.0" y="178.50" width="4.0" height="24.50" fill="#2a73f1"/>
<rect x="216.0" y="178.50" width="2.0" height="24.50" fill="#2671f3"/>
<rect x="217.0" y="178.50" width="2.0" height="24.50" fill="#1c69f8"/>
<rect x="218.0" y="178.50" width="3.0" height="24.50" fill="#2671f3"/>
<rect x="220.0" y="178.50" width="2.0" height="24.50" fill="#2f76ef"/>
<rect x="221.0" y="178.50" width="2.0" height="24.50" fill="#1c69f8"/>
<rect x="222.0" y="178.50" width="2.0" height="24.50" fill="#2671f3"/>
<rect x="223.0" y="178.50" width="2.0" height="24.50" fill="#2a73f1"/>
<rect x="224.0" y="178.50" width="3.0" height="24.50" fill="#1c69f8"/>
<rect x="226.0" y="178.50" width="5.0" height="24.50" fill="#5b57f8"/>
<rect x="230.0" y="178.50" width="2.0" height="24.50" fill="#1c69f8"/>
<rect x="231.0" y="178.50" width="3.0" height="24.50" fill="#2a73f1"/>
<rect x="233.0" y="178.50" width="2.0" height="24.50" fill="#226ef5"/>
<rect x="234.0" y="178.50" width="2.0" height="24.50" fill="#1c69f8"/>
<rect x="235.0" y="178.50" width="2.0" height="24.50" fill="#2671f3"/>
<rect x="236.0" y="178.50" width="2.0" height="24.50" fill="#1c69f8"/>
<rect x="237.0" y="178.50" width="2.0" height="24.50" fill="#2666f8"/>
<rect x="238.0" y="178.50" width="2.0" height="24.50" fill="#226ef5"/>
<rect x="239.0" y="178.50" width="4.0" height="24.50" fill="#2666f8"/>
<rect x="242.0" y="178.50" width="3.0" height="24.50" fill="#1c69f8"/>
<rect x="244.0" y="178.50" width="2.0" height="24.50" fill="#2666f8"/>
<rect x="245.0" y="178.50" width="2.0" height="24.50" fill="#1c69f8"/>
<rect x="246.0" y="178.50" width="3.0" height="24.50" fill="#2666f8"/>
<rect x="248.0" y="178.50" width="2.0" height="24.50" fill="#2a73f1"/>
<rect x="249.0" y="178.50" width="5.0" height="24.50" fill="#1c69f8"/>
<rect x="253.0" y="178.50" width="2.0" height="24.50" fill="#2666f8"/>
<rect x="254.0" y="178.50" width="2.0" height="24.50" fill="#1c69f8"/>
<rect x="255.0" y="178.50" width="2.0" height="24.50" fill="#2671f3"/>
<rect x="256.0" y="178.50" width="3.6" height="24.50" fill="#1c69f8"/>
<rect x="42.0" y="202.00" width="5.0" height="24.50" fill="#2f76ef"/>
<rect x="46.0" y="202.00" width="2.0" height="24.50" fill="#377bec"/>
<rect x="47.0" y="202.00" width="2.0" height="24.50" fill="#4786e3"/>
<rect x="48.0" y="202.00" width="3.0" height="24.50" fill="#3378ed"/>
<rect x="50.0" y="202.00" width="2.0" height="24.50" fill="#2f76ef"/>
<rect x="51.0" y="202.00" width="2.0" height="24.50" fill="#1c69f8"/>
<rect x="52.0" y="202.00" width="2.0" height="24.50" fill="#3378ed"/>
<rect x="53.0" y="202.00" width="2.0" height="24.50" fill="#3c7dea"/>
<rect x="54.0" y="202.00" width="2.0" height="24.50" fill="#4282e6"/>
<rect x="55.0" y="202.00" width="4.0" height="24.50" fill="#1c69f8"/>
<rect x="58.0" y="202.00" width="2.0" height="24.50" fill="#4282e6"/>
<rect x="59.0" y="202.00" width="2.0" height="24.50" fill="#3c7dea"/>
<rect x="60.0" y="202.00" width="2.0" height="24.50" fill="#1c69f8"/>
<rect x="61.0" y="202.00" width="2.0" height="24.50" fill="#4584e5"/>
<rect x="62.0" y="202.00" width="2.0" height="24.50" fill="#4282e6"/>
<rect x="63.0" y="202.00" width="2.0" height="24.50" fill="#377bec"/>
<rect x="64.0" y="202.00" width="2.0" height="24.50" fill="#2f76ef"/>
<rect x="65.0" y="202.00" width="3.0" height="24.50" fill="#1c69f8"/>
<rect x="67.0" y="202.00" width="2.0" height="24.50" fill="#2671f3"/>
<rect x="68.0" y="202.00" width="5.0" height="24.50" fill="#1c69f8"/>
<rect x="72.0" y="202.00" width="3.0" height="24.50" fill="#2671f3"/>
<rect x="74.0" y="202.00" width="2.0" height="24.50" fill="#4080e8"/>
<rect x="75.0" y="202.00" width="3.0" height="24.50" fill="#3378ed"/>
<rect x="77.0" y="202.00" width="2.0" height="24.50" fill="#2a73f1"/>
<rect x="78.0" y="202.00" width="2.0" height="24.50" fill="#3378ed"/>
<rect x="79.0" y="202.00" width="2.0" height="24.50" fill="#2a73f1"/>
<rect x="80.0" y="202.00" width="2.0" height="24.50" fill="#1c69f8"/>
<rect x="81.0" y="202.00" width="2.0" height="24.50" fill="#377bec"/>
<rect x="82.0" y="202.00" width="2.0" height="24.50" fill="#4080e8"/>
<rect x="83.0" y="202.00" width="2.0" height="24.50" fill="#377bec"/>
<rect x="84.0" y="202.00" width="2.0" height="24.50" fill="#2f76ef"/>
<rect x="85.0" y="202.00" width="5.0" height="24.50" fill="#1c69f8"/>
<rect x="89.0" y="202.00" width="2.0" height="24.50" fill="#2a73f1"/>
<rect x="90.0" y="202.00" width="2.0" height="24.50" fill="#1c69f8"/>
<rect x="91.0" y="202.00" width="2.0" height="24.50" fill="#3378ed"/>
<rect x="92.0" y="202.00" width="2.0" height="24.50" fill="#2f76ef"/>
<rect x="93.0" y="202.00" width="2.0" height="24.50" fill="#4786e3"/>
<rect x="94.0" y="202.00" width="2.0" height="24.50" fill="#4080e8"/>
<rect x="95.0" y="202.00" width="2.0" height="24.50" fill="#1c69f8"/>
<rect x="96.0" y="202.00" width="2.0" height="24.50" fill="#2666f8"/>
<rect x="97.0" y="202.00" width="2.0" height="24.50" fill="#4080e8"/>
<rect x="98.0" y="202.00" width="2.0" height="24.50" fill="#377bec"/>
<rect x="99.0" y="202.00" width="2.0" height="24.50" fill="#4786e3"/>
<rect x="100.0" y="202.00" width="2.0" height="24.50" fill="#2f76ef"/>
<rect x="101.0" y="202.00" width="2.0" height="24.50" fill="#1c69f8"/>
<rect x="102.0" y="202.00" width="2.0" height="24.50" fill="#3378ed"/>
<rect x="103.0" y="202.00" width="2.0" height="24.50" fill="#4080e8"/>
<rect x="104.0" y="202.00" width="3.0" height="24.50" fill="#1c69f8"/>
<rect x="106.0" y="202.00" width="2.0" height="24.50" fill="#2671f3"/>
<rect x="107.0" y="202.00" width="2.0" height="24.50" fill="#4786e3"/>
<rect x="108.0" y="202.00" width="2.0" height="24.50" fill="#4080e8"/>
<rect x="109.0" y="202.00" width="5.0" height="24.50" fill="#1c69f8"/>
<rect x="113.0" y="202.00" width="2.0" height="24.50" fill="#3378ed"/>
<rect x="114.0" y="202.00" width="2.0" height="24.50" fill="#1c69f8"/>
<rect x="115.0" y="202.00" width="2.0" height="24.50" fill="#2f76ef"/>
<rect x="116.0" y="202.00" width="2.0" height="24.50" fill="#2671f3"/>
<rect x="117.0" y="202.00" width="2.0" height="24.50" fill="#1c69f8"/>
<rect x="118.0" y="202.00" width="2.0" height="24.50" fill="#3378ed"/>
<rect x="119.0" y="202.00" width="2.0" height="24.50" fill="#1c69f8"/>
<rect x="120.0" y="202.00" width="2.0" height="24.50" fill="#2f76ef"/>
<rect x="121.0" y="202.00" width="3.0" height="24.50" fill="#1c69f8"/>
<rect x="123.0" y="202.00" width="2.0" height="24.50" fill="#2666f8"/>
<rect x="124.0" y="202.00" width="2.0" height="24.50" fill="#1c69f8"/>
<rect x="125.0" y="202.00" width="2.0" height="24.50" fill="#4584e5"/>
<rect x="126.0" y="202.00" width="2.0" height="24.50" fill="#4080e8"/>
<rect x="127.0" y="202.00" width="2.0" height="24.50" fill="#2a73f1"/>
<rect x="128.0" y="202.00" width="2.0" height="24.50" fill="#3c7dea"/>
<rect x="129.0" y="202.00" width="2.0" height="24.50" fill="#1c69f8"/>
<rect x="130.0" y="202.00" width="2.0" height="24.50" fill="#2671f3"/>
<rect x="131.0" y="202.00" width="2.0" height="24.50" fill="#4282e6"/>
<rect x="132.0" y="202.00" width="2.0" height="24.50" fill="#377bec"/>
<rect x="133.0" y="202.00" width="2.0" height="24.50" fill="#1c69f8"/>
<rect x="134.0" y="202.00" width="2.0" height="24.50" fill="#4282e6"/>
<rect x="135.0" y="202.00" width="3.0" height="24.50" fill="#2666f8"/>
<rect x="137.0" y="202.00" width="2.0" height="24.50" fill="#2f76ef"/>
<rect x="138.0" y="202.00" width="3.0" height="24.50" fill="#1c69f8"/>
<rect x="140.0" y="202.00" width="2.0" height="24.50" fill="#2666f8"/>
<rect x="141.0" y="202.00" width="2.0" height="24.50" fill="#1c69f8"/>
<rect x="142.0" y="202.00" width="2.0" height="24.50" fill="#2a73f1"/>
<rect x="143.0" y="202.00" width="2.0" height="24.50" fill="#1c69f8"/>
<rect x="144.0" y="202.00" width="2.0" height="24.50" fill="#226ef5"/>
<rect x="145.0" y="202.00" width="2.0" height="24.50" fill="#1c69f8"/>
<rect x="146.0" y="202.00" width="2.0" height="24.50" fill="#2671f3"/>
<rect x="147.0" y="202.00" width="2.0" height="24.50" fill="#3c7dea"/>
<rect x="148.0" y="202.00" width="3.0" height="24.50" fill="#2a73f1"/>
<rect x="150.0" y="202.00" width="2.0" height="24.50" fill="#4080e8"/>
<rect x="151.0" y="202.00" width="3.0" height="24.50" fill="#1c69f8"/>
<rect x="153.0" y="202.00" width="2.0" height="24.50" fill="#4282e6"/>
<rect x="154.0" y="202.00" width="2.0" height="24.50" fill="#3c7dea"/>
<rect x="155.0" y="202.00" width="3.0" height="24.50" fill="#1c69f8"/>
<rect x="157.0" y="202.00" width="2.0" height="24.50" fill="#377bec"/>
<rect x="158.0" y="202.00" width="2.0" height="24.50" fill="#4080e8"/>
<rect x="159.0" y="202.00" width="2.0" height="24.50" fill="#2671f3"/>
<rect x="160.0" y="202.00" width="2.0" height="24.50" fill="#4282e6"/>
<rect x="161.0" y="202.00" width="2.0" height="24.50" fill="#4584e5"/>
<rect x="162.0" y="202.00" width="2.0" height="24.50" fill="#377bec"/>
<rect x="163.0" y="202.00" width="2.0" height="24.50" fill="#2671f3"/>
<rect x="164.0" y="202.00" width="3.0" height="24.50" fill="#1c69f8"/>
<rect x="166.0" y="202.00" width="2.0" height="24.50" fill="#4080e8"/>
<rect x="167.0" y="202.00" width="2.0" height="24.50" fill="#2a73f1"/>
<rect x="168.0" y="202.00" width="2.0" height="24.50" fill="#3378ed"/>
<rect x="169.0" y="202.00" width="2.0" height="24.50" fill="#2671f3"/>
<rect x="170.0" y="202.00" width="2.0" height="24.50" fill="#4080e8"/>
<rect x="171.0" y="202.00" width="2.0" height="24.50" fill="#3378ed"/>
<rect x="172.0" y="202.00" width="3.0" height="24.50" fill="#1c69f8"/>
<rect x="174.0" y="202.00" width="2.0" height="24.50" fill="#3378ed"/>
<rect x="175.0" y="202.00" width="2.0" height="24.50" fill="#1c69f8"/>
<rect x="176.0" y="202.00" width="2.0" height="24.50" fill="#2666f8"/>
<rect x="177.0" y="202.00" width="2.0" height="24.50" fill="#226ef5"/>
<rect x="178.0" y="202.00" width="2.0" height="24.50" fill="#3378ed"/>
<rect x="179.0" y="202.00" width="2.0" height="24.50" fill="#2671f3"/>
<rect x="180.0" y="202.00" width="2.0" height="24.50" fill="#1c69f8"/>
<rect x="181.0" y="202.00" width="2.0" height="24.50" fill="#2f76ef"/>
<rect x="182.0" y="202.00" width="6.0" height="24.50" fill="#1c69f8"/>
<rect x="187.0" y="202.00" width="2.0" height="24.50" fill="#2666f8"/>
<rect x="188.0" y="202.00" width="5.0" height="24.50" fill="#1c69f8"/>
<rect x="192.0" y="202.00" width="2.0" height="24.50" fill="#2f76ef"/>
<rect x="193.0" y="202.00" width="6.0" height="24.50" fill="#6855f8"/>
<rect x="198.0" y="202.00" width="2.0" height="24.50" fill="#2666f8"/>
<rect x="199.0" y="202.00" width="2.0" height="24.50" fill="#1c69f8"/>
<rect x="200.0" y="202.00" width="4.0" height="24.50" fill="#2a73f1"/>
<rect x="203.0" y="202.00" width="2.0" height="24.50" fill="#1c69f8"/>
<rect x="204.0" y="202.00" width="2.0" height="24.50" fill="#2666f8"/>
<rect x="205.0" y="202.00" width="2.0" height="24.50" fill="#1c69f8"/>
<rect x="206.0" y="202.00" width="2.0" height="24.50" fill="#2671f3"/>
<rect x="207.0" y="202.00" width="2.0" height="24.50" fill="#1c69f8"/>
<rect x="208.0" y="202.00" width="2.0" height="24.50" fill="#2f76ef"/>
<rect x="209.0" y="202.00" width="2.0" height="24.50" fill="#2666f8"/>
<rect x="210.0" y="202.00" width="2.0" height="24.50" fill="#1c69f8"/>
<rect x="211.0" y="202.00" width="2.0" height="24.50" fill="#2a73f1"/>
<rect x="212.0" y="202.00" width="2.0" height="24.50" fill="#3378ed"/>
<rect x="213.0" y="202.00" width="2.0" height="24.50" fill="#2a73f1"/>
<rect x="214.0" y="202.00" width="2.0" height="24.50" fill="#2671f3"/>
<rect x="215.0" y="202.00" width="3.0" height="24.50" fill="#2f76ef"/>
<rect x="217.0" y="202.00" width="2.0" height="24.50" fill="#1c69f8"/>
<rect x="218.0" y="202.00" width="2.0" height="24.50" fill="#226ef5"/>
<rect x="219.0" y="202.00" width="2.0" height="24.50" fill="#3378ed"/>
<rect x="220.0" y="202.00" width="2.0" height="24.50" fill="#2f76ef"/>
<rect x="221.0" y="202.00" width="2.0" height="24.50" fill="#1c69f8"/>
<rect x="222.0" y="202.00" width="3.0" height="24.50" fill="#2a73f1"/>
<rect x="224.0" y="202.00" width="3.0" height="24.50" fill="#1c69f8"/>
<rect x="226.0" y="202.00" width="5.0" height="24.50" fill="#5b57f8"/>
<rect x="230.0" y="202.00" width="2.0" height="24.50" fill="#1c69f8"/>
<rect x="231.0" y="202.00" width="2.0" height="24.50" fill="#2f76ef"/>
<rect x="232.0" y="202.00" width="3.0" height="24.50" fill="#2a73f1"/>
<rect x="234.0" y="202.00" width="2.0" height="24.50" fill="#1c69f8"/>
<rect x="235.0" y="202.00" width="2.0" height="24.50" fill="#2a73f1"/>
<rect x="236.0" y="202.00" width="3.0" height="24.50" fill="#1c69f8"/>
<rect x="238.0" y="202.00" width="2.0" height="24.50" fill="#226ef5"/>
<rect x="239.0" y="202.00" width="3.0" height="24.50" fill="#1c69f8"/>
<rect x="241.0" y="202.00" width="2.0" height="24.50" fill="#2666f8"/>
<rect x="242.0" y="202.00" width="3.0" height="24.50" fill="#1c69f8"/>
<rect x="244.0" y="202.00" width="2.0" height="24.50" fill="#2666f8"/>
<rect x="245.0" y="202.00" width="2.0" height="24.50" fill="#1c69f8"/>
<rect x="246.0" y="202.00" width="2.0" height="24.50" fill="#2666f8"/>
<rect x="247.0" y="202.00" width="2.0" height="24.50" fill="#2a73f1"/>
<rect x="248.0" y="202.00" width="2.0" height="24.50" fill="#2f76ef"/>
<rect x="249.0" y="202.00" width="7.0" height="24.50" fill="#1c69f8"/>
<rect x="255.0" y="202.00" width="4.6" height="24.50" fill="#2671f3"/>
<rect x="42.0" y="225.50" width="5.0" height="24.50" fill="#377bec"/>
<rect x="46.0" y="225.50" width="2.0" height="24.50" fill="#4282e6"/>
<rect x="47.0" y="225.50" width="2.0" height="24.50" fill="#4c8ae0"/>
<rect x="48.0" y="225.50" width="2.0" height="24.50" fill="#3c7dea"/>
<rect x="49.0" y="225.50" width="3.0" height="24.50" fill="#377bec"/>
<rect x="51.0" y="225.50" width="2.0" height="24.50" fill="#1c69f8"/>
<rect x="52.0" y="225.50" width="2.0" height="24.50" fill="#377bec"/>
<rect x="53.0" y="225.50" width="2.0" height="24.50" fill="#4282e6"/>
<rect x="54.0" y="225.50" width="2.0" height="24.50" fill="#4584e5"/>
<rect x="55.0" y="225.50" width="4.0" height="24.50" fill="#1c69f8"/>
<rect x="58.0" y="225.50" width="2.0" height="24.50" fill="#4584e5"/>
<rect x="59.0" y="225.50" width="2.0" height="24.50" fill="#4080e8"/>
<rect x="60.0" y="225.50" width="2.0" height="24.50" fill="#1c69f8"/>
<rect x="61.0" y="225.50" width="2.0" height="24.50" fill="#4786e3"/>
<rect x="62.0" y="225.50" width="2.0" height="24.50" fill="#4a88e2"/>
<rect x="63.0" y="225.50" width="2.0" height="24.50" fill="#3c7dea"/>
<rect x="64.0" y="225.50" width="2.0" height="24.50" fill="#3378ed"/>
<rect x="65.0" y="225.50" width="3.0" height="24.50" fill="#1c69f8"/>
<rect x="67.0" y="225.50" width="2.0" height="24.50" fill="#2a73f1"/>
<rect x="68.0" y="225.50" width="5.0" height="24.50" fill="#1c69f8"/>
<rect x="72.0" y="225.50" width="2.0" height="24.50" fill="#2671f3"/>
<rect x="73.0" y="225.50" width="2.0" height="24.50" fill="#2f76ef"/>
<rect x="74.0" y="225.50" width="2.0" height="24.50" fill="#4282e6"/>
<rect x="75.0" y="225.50" width="2.0" height="24.50" fill="#377bec"/>
<rect x="76.0" y="225.50" width="2.0" height="24.50" fill="#3c7dea"/>
<rect x="77.0" y="225.50" width="2.0" height="24.50" fill="#2f76ef"/>
<rect x="78.0" y="225.50" width="2.0" height="24.50" fill="#377bec"/>
<rect x="79.0" y="225.50" width="2.0" height="24.50" fill="#2a73f1"/>
<rect x="80.0" y="225.50" width="2.0" height="24.50" fill="#1c69f8"/>
<rect x="81.0" y="225.50" width="2.0" height="24.50" fill="#3c7dea"/>
<rect x="82.0" y="225.50" width="2.0" height="24.50" fill="#4282e6"/>
<rect x="83.0" y="225.50" width="2.0" height="24.50" fill="#377bec"/>
<rect x="84.0" y="225.50" width="2.0" height="24.50" fill="#2f76ef"/>
<rect x="85.0" y="225.50" width="5.0" height="24.50" fill="#1c69f8"/>
<rect x="89.0" y="225.50" width="2.0" height="24.50" fill="#2a73f1"/>
<rect x="90.0" y="225.50" width="2.0" height="24.50" fill="#2671f3"/>
<rect x="91.0" y="225.50" width="2.0" height="24.50" fill="#2f76ef"/>
<rect x="92.0" y="225.50" width="2.0" height="24.50" fill="#3378ed"/>
<rect x="93.0" y="225.50" width="2.0" height="24.50" fill="#4a88e2"/>
<rect x="94.0" y="225.50" width="2.0" height="24.50" fill="#4786e3"/>
<rect x="95.0" y="225.50" width="3.0" height="24.50" fill="#1c69f8"/>
<rect x="97.0" y="225.50" width="2.0" height="24.50" fill="#4786e3"/>
<rect x="98.0" y="225.50" width="2.0" height="24.50" fill="#377bec"/>
<rect x="99.0" y="225.50" width="2.0" height="24.50" fill="#4a88e2"/>
<rect x="100.0" y="225.50" width="2.0" height="24.50" fill="#2f76ef"/>
<rect x="101.0" y="225.50" width="2.0" height="24.50" fill="#1c69f8"/>
<rect x="102.0" y="225.50" width="2.0" height="24.50" fill="#377bec"/>
<rect x="103.0" y="225.50" width="2.0" height="24.50" fill="#4282e6"/>
<rect x="104.0" y="225.50" width="3.0" height="24.50" fill="#1c69f8"/>
<rect x="106.0" y="225.50" width="2.0" height="24.50" fill="#2a73f1"/>
<rect x="107.0" y="225.50" width="2.0" height="24.50" fill="#4a88e2"/>
<rect x="108.0" y="225.50" width="2.0" height="24.50" fill="#4282e6"/>
<rect x="109.0" y="225.50" width="5.0" height="24.50" fill="#1c69f8"/>
<rect x="113.0" y="225.50" width="2.0" height="24.50" fill="#3c7dea"/>
<rect x="114.0" y="225.50" width="2.0" height="24.50" fill="#1c69f8"/>
<rect x="115.0" y="225.50" width="2.0" height="24.50" fill="#3378ed"/>
<rect x="116.0" y="225.50" width="2.0" height="24.50" fill="#2f76ef"/>
<rect x="117.0" y="225.50" width="2.0" height="24.50" fill="#1c69f8"/>
<rect x="118.0" y="225.50" width="2.0" height="24.50" fill="#377bec"/>
<rect x="119.0" y="225.50" width="2.0" height="24.50" fill="#1c69f8"/>
<rect x="120.0" y="225.50" width="2.0" height="24.50" fill="#2f76ef"/>
<rect x="121.0" y="225.50" width="2.0" height="24.50" fill="#1c69f8"/>
<rect x="122.0" y="225.50" width="2.0" height="24.50" fill="#2671f3"/>
<rect x="123.0" y="225.50" width="3.0" height="24.50" fill="#1c69f8"/>
<rect x="125.0" y="225.50" width="2.0" height="24.50" fill="#4a88e2"/>
<rect x="126.0" y="225.50" width="2.0" height="24.50" fill="#4282e6"/>
<rect x="127.0" y="225.50" width="2.0" height="24.50" fill="#2671f3"/>
<rect x="128.0" y="225.50" width="2.0" height="24.50" fill="#4282e6"/>
<rect x="129.0" y="225.50" width="2.0" height="24.50" fill="#1c69f8"/>
<rect x="130.0" y="225.50" width="2.0" height="24.50" fill="#2f76ef"/>
<rect x="131.0" y="225.50" width="2.0" height="24.50" fill="#4584e5"/>
<rect x="132.0" y="225.50" width="2.0" height="24.50" fill="#3c7dea"/>
<rect x="133.0" y="225.50" width="2.0" height="24.50" fill="#1c69f8"/>
<rect x="134.0" y="225.50" width="2.0" height="24.50" fill="#4584e5"/>
<rect x="135.0" y="225.50" width="3.0" height="24.50" fill="#1c69f8"/>
<rect x="137.0" y="225.50" width="2.0" height="24.50" fill="#2f76ef"/>
<rect x="138.0" y="225.50" width="5.0" height="24.50" fill="#1c69f8"/>
<rect x="142.0" y="225.50" width="2.0" height="24.50" fill="#226ef5"/>
<rect x="143.0" y="225.50" width="2.0" height="24.50" fill="#1c69f8"/>
<rect x="144.0" y="225.50" width="2.0" height="24.50" fill="#2a73f1"/>
<rect x="145.0" y="225.50" width="2.0" height="24.50" fill="#1c69f8"/>
<rect x="146.0" y="225.50" width="2.0" height="24.50" fill="#2a73f1"/>
<rect x="147.0" y="225.50" width="2.0" height="24.50" fill="#4080e8"/>
<rect x="148.0" y="225.50" width="2.0" height="24.50" fill="#2a73f1"/>
<rect x="149.0" y="225.50" width="2.0" height="24.50" fill="#2f76ef"/>
<rect x="150.0" y="225.50" width="2.0" height="24.50" fill="#4584e5"/>
<rect x="151.0" y="225.50" width="3.0" height="24.50" fill="#1c69f8"/>
<rect x="153.0" y="225.50" width="2.0" height="24.50" fill="#4786e3"/>
<rect x="154.0" y="225.50" width="2.0" height="24.50" fill="#4282e6"/>
<rect x="155.0" y="225.50" width="3.0" height="24.50" fill="#1c69f8"/>
<rect x="157.0" y="225.50" width="2.0" height="24.50" fill="#4282e6"/>
<rect x="158.0" y="225.50" width="2.0" height="24.50" fill="#4786e3"/>
<rect x="159.0" y="225.50" width="2.0" height="24.50" fill="#2a73f1"/>
<rect x="160.0" y="225.50" width="2.0" height="24.50" fill="#4a88e2"/>
<rect x="161.0" y="225.50" width="2.0" height="24.50" fill="#4786e3"/>
<rect x="162.0" y="225.50" width="2.0" height="24.50" fill="#377bec"/>
<rect x="163.0" y="225.50" width="2.0" height="24.50" fill="#2671f3"/>
<rect x="164.0" y="225.50" width="3.0" height="24.50" fill="#1c69f8"/>
<rect x="166.0" y="225.50" width="2.0" height="24.50" fill="#4282e6"/>
<rect x="167.0" y="225.50" width="2.0" height="24.50" fill="#2671f3"/>
<rect x="168.0" y="225.50" width="2.0" height="24.50" fill="#377bec"/>
<rect x="169.0" y="225.50" width="2.0" height="24.50" fill="#2671f3"/>
<rect x="170.0" y="225.50" width="2.0" height="24.50" fill="#4080e8"/>
<rect x="171.0" y="225.50" width="2.0" height="24.50" fill="#3c7dea"/>
<rect x="172.0" y="225.50" width="3.0" height="24.50" fill="#1c69f8"/>
<rect x="174.0" y="225.50" width="2.0" height="24.50" fill="#377bec"/>
<rect x="175.0" y="225.50" width="3.0" height="24.50" fill="#1c69f8"/>
<rect x="177.0" y="225.50" width="2.0" height="24.50" fill="#2671f3"/>
<rect x="178.0" y="225.50" width="2.0" height="24.50" fill="#377bec"/>
<rect x="179.0" y="225.50" width="2.0" height="24.50" fill="#2671f3"/>
<rect x="180.0" y="225.50" width="2.0" height="24.50" fill="#1c69f8"/>
<rect x="181.0" y="225.50" width="2.0" height="24.50" fill="#377bec"/>
<rect x="182.0" y="225.50" width="11.0" height="24.50" fill="#1c69f8"/>
<rect x="192.0" y="225.50" width="2.0" height="24.50" fill="#2a73f1"/>
<rect x="193.0" y="225.50" width="2.0" height="24.50" fill="#3378ed"/>
<rect x="194.0" y="225.50" width="6.0" height="24.50" fill="#6855f8"/>
<rect x="199.0" y="225.50" width="2.0" height="24.50" fill="#1c69f8"/>
<rect x="200.0" y="225.50" width="3.0" height="24.50" fill="#3378ed"/>
<rect x="202.0" y="225.50" width="2.0" height="24.50" fill="#2f76ef"/>
<rect x="203.0" y="225.50" width="4.0" height="24.50" fill="#1c69f8"/>
<rect x="206.0" y="225.50" width="2.0" height="24.50" fill="#2671f3"/>
<rect x="207.0" y="225.50" width="4.0" height="24.50" fill="#3a61f8"/>
<rect x="210.0" y="225.50" width="2.0" height="24.50" fill="#1c69f8"/>
<rect x="211.0" y="225.50" width="3.0" height="24.50" fill="#3378ed"/>
<rect x="213.0" y="225.50" width="4.0" height="24.50" fill="#2a73f1"/>
<rect x="216.0" y="225.50" width="2.0" height="24.50" fill="#3378ed"/>
<rect x="217.0" y="225.50" width="2.0" height="24.50" fill="#1c69f8"/>
<rect x="218.0" y="225.50" width="2.0" height="24.50" fill="#2a73f1"/>
<rect x="219.0" y="225.50" width="2.0" height="24.50" fill="#3378ed"/>
<rect x="220.0" y="225.50" width="2.0" height="24.50" fill="#2f76ef"/>
<rect x="221.0" y="225.50" width="2.0" height="24.50" fill="#3a61f8"/>
<rect x="222.0" y="225.50" width="2.0" height="24.50" fill="#2a73f1"/>
<rect x="223.0" y="225.50" width="2.0" height="24.50" fill="#3378ed"/>
<rect x="224.0" y="225.50" width="2.0" height="24.50" fill="#2671f3"/>
<rect x="225.0" y="225.50" width="2.0" height="24.50" fill="#226ef5"/>
<rect x="226.0" y="225.50" width="5.0" height="24.50" fill="#5b57f8"/>
<rect x="230.0" y="225.50" width="2.0" height="24.50" fill="#2a73f1"/>
<rect x="231.0" y="225.50" width="2.0" height="24.50" fill="#377bec"/>
<rect x="232.0" y="225.50" width="2.0" height="24.50" fill="#2f76ef"/>
<rect x="233.0" y="225.50" width="2.0" height="24.50" fill="#2a73f1"/>
<rect x="234.0" y="225.50" width="2.0" height="24.50" fill="#3a61f8"/>
<rect x="235.0" y="225.50" width="2.0" height="24.50" fill="#2671f3"/>
<rect x="236.0" y="225.50" width="2.0" height="24.50" fill="#1c69f8"/>
<rect x="237.0" y="225.50" width="2.0" height="24.50" fill="#3a61f8"/>
<rect x="238.0" y="225.50" width="2.0" height="24.50" fill="#2671f3"/>
<rect x="239.0" y="225.50" width="3.0" height="24.50" fill="#1c69f8"/>
<rect x="241.0" y="225.50" width="2.0" height="24.50" fill="#3a61f8"/>
<rect x="242.0" y="225.50" width="4.0" height="24.50" fill="#1c69f8"/>
<rect x="245.0" y="225.50" width="2.0" height="24.50" fill="#2671f3"/>
<rect x="246.0" y="225.50" width="2.0" height="24.50" fill="#1c69f8"/>
<rect x="247.0" y="225.50" width="2.0" height="24.50" fill="#2671f3"/>
<rect x="248.0" y="225.50" width="2.0" height="24.50" fill="#2f76ef"/>
<rect x="249.0" y="225.50" width="4.0" height="24.50" fill="#4e5bf8"/>
<rect x="252.0" y="225.50" width="7.6" height="24.50" fill="#6555f8"/>
<rect x="42.0" y="249.00" width="5.0" height="24.50" fill="#3378ed"/>
<rect x="46.0" y="249.00" width="2.0" height="24.50" fill="#4584e5"/>
<rect x="47.0" y="249.00" width="2.0" height="24.50" fill="#518edd"/>
<rect x="48.0" y="249.00" width="2.0" height="24.50" fill="#4080e8"/>
<rect x="49.0" y="249.00" width="2.0" height="24.50" fill="#377bec"/>
<rect x="50.0" y="249.00" width="2.0" height="24.50" fill="#3c7dea"/>
<rect x="51.0" y="249.00" width="2.0" height="24.50" fill="#1c69f8"/>
<rect x="52.0" y="249.00" width="2.0" height="24.50" fill="#3c7dea"/>
<rect x="53.0" y="249.00" width="3.0" height="24.50" fill="#4786e3"/>
<rect x="55.0" y="249.00" width="4.0" height="24.50" fill="#1c69f8"/>
<rect x="58.0" y="249.00" width="2.0" height="24.50" fill="#4786e3"/>
<rect x="59.0" y="249.00" width="2.0" height="24.50" fill="#4584e5"/>
<rect x="60.0" y="249.00" width="2.0" height="24.50" fill="#1c69f8"/>
<rect x="61.0" y="249.00" width="2.0" height="24.50" fill="#4a88e2"/>
<rect x="62.0" y="249.00" width="2.0" height="24.50" fill="#4e8cde"/>
<rect x="63.0" y="249.00" width="2.0" height="24.50" fill="#4282e6"/>
<rect x="64.0" y="249.00" width="2.0" height="24.50" fill="#377bec"/>
<rect x="65.0" y="249.00" width="3.0" height="24.50" fill="#1c69f8"/>
<rect x="67.0" y="249.00" width="2.0" height="24.50" fill="#2a73f1"/>
<rect x="68.0" y="249.00" width="5.0" height="24.50" fill="#1c69f8"/>
<rect x="72.0" y="249.00" width="2.0" height="24.50" fill="#2671f3"/>
<rect x="73.0" y="249.00" width="2.0" height="24.50" fill="#2f76ef"/>
<rect x="74.0" y="249.00" width="2.0" height="24.50" fill="#4584e5"/>
<rect x="75.0" y="249.00" width="3.0" height="24.50" fill="#377bec"/>
<rect x="77.0" y="249.00" width="2.0" height="24.50" fill="#2f76ef"/>
<rect x="78.0" y="249.00" width="2.0" height="24.50" fill="#3c7dea"/>
<rect x="79.0" y="249.00" width="2.0" height="24.50" fill="#2a73f1"/>
<rect x="80.0" y="249.00" width="2.0" height="24.50" fill="#1c69f8"/>
<rect x="81.0" y="249.00" width="2.0" height="24.50" fill="#4080e8"/>
<rect x="82.0" y="249.00" width="2.0" height="24.50" fill="#4282e6"/>
<rect x="83.0" y="249.00" width="2.0" height="24.50" fill="#3c7dea"/>
<rect x="84.0" y="249.00" width="2.0" height="24.50" fill="#2f76ef"/>
<rect x="85.0" y="249.00" width="5.0" height="24.50" fill="#1c69f8"/>
<rect x="89.0" y="249.00" width="3.0" height="24.50" fill="#2a73f1"/>
<rect x="91.0" y="249.00" width="3.0" height="24.50" fill="#377bec"/>
<rect x="93.0" y="249.00" width="2.0" height="24.50" fill="#518edd"/>
<rect x="94.0" y="249.00" width="2.0" height="24.50" fill="#4786e3"/>
<rect x="95.0" y="249.00" width="3.0" height="24.50" fill="#1c69f8"/>
<rect x="97.0" y="249.00" width="2.0" height="24.50" fill="#4c8ae0"/>
<rect x="98.0" y="249.00" width="2.0" height="24.50" fill="#4080e8"/>
<rect x="99.0" y="249.00" width="2.0" height="24.50" fill="#4e8cde"/>
<rect x="100.0" y="249.00" width="2.0" height="24.50" fill="#3378ed"/>
<rect x="101.0" y="249.00" width="2.0" height="24.50" fill="#1c69f8"/>
<rect x="102.0" y="249.00" width="2.0" height="24.50" fill="#4282e6"/>
<rect x="103.0" y="249.00" width="2.0" height="24.50" fill="#4a88e2"/>
<rect x="104.0" y="249.00" width="3.0" height="24.50" fill="#1c69f8"/>
<rect x="106.0" y="249.00" width="2.0" height="24.50" fill="#2f76ef"/>
<rect x="107.0" y="249.00" width="2.0" height="24.50" fill="#518edd"/>
<rect x="108.0" y="249.00" width="2.0" height="24.50" fill="#4786e3"/>
<rect x="109.0" y="249.00" width="5.0" height="24.50" fill="#1c69f8"/>
<rect x="113.0" y="249.00" width="2.0" height="24.50" fill="#3c7dea"/>
<rect x="114.0" y="249.00" width="2.0" height="24.50" fill="#1c69f8"/>
<rect x="115.0" y="249.00" width="2.0" height="24.50" fill="#3378ed"/>
<rect x="116.0" y="249.00" width="2.0" height="24.50" fill="#2f76ef"/>
<rect x="117.0" y="249.00" width="2.0" height="24.50" fill="#1c69f8"/>
<rect x="118.0" y="249.00" width="2.0" height="24.50" fill="#377bec"/>
<rect x="119.0" y="249.00" width="2.0" height="24.50" fill="#1c69f8"/>
<rect x="120.0" y="249.00" width="2.0" height="24.50" fill="#3378ed"/>
<rect x="121.0" y="249.00" width="2.0" height="24.50" fill="#1c69f8"/>
<rect x="122.0" y="249.00" width="2.0" height="24.50" fill="#226ef5"/>
<rect x="123.0" y="249.00" width="2.0" height="24.50" fill="#1c69f8"/>
<rect x="124.0" y="249.00" width="2.0" height="24.50" fill="#226ef5"/>
<rect x="125.0" y="249.00" width="2.0" height="24.50" fill="#4e8cde"/>
<rect x="126.0" y="249.00" width="2.0" height="24.50" fill="#4786e3"/>
<rect x="127.0" y="249.00" width="2.0" height="24.50" fill="#2f76ef"/>
<rect x="128.0" y="249.00" width="2.0" height="24.50" fill="#4584e5"/>
<rect x="129.0" y="249.00" width="2.0" height="24.50" fill="#1c69f8"/>
<rect x="130.0" y="249.00" width="2.0" height="24.50" fill="#2a73f1"/>
<rect x="131.0" y="249.00" width="2.0" height="24.50" fill="#4786e3"/>
<rect x="132.0" y="249.00" width="2.0" height="24.50" fill="#4080e8"/>
<rect x="133.0" y="249.00" width="2.0" height="24.50" fill="#1c69f8"/>
<rect x="134.0" y="249.00" width="2.0" height="24.50" fill="#4a88e2"/>
<rect x="135.0" y="249.00" width="3.0" height="24.50" fill="#1c69f8"/>
<rect x="137.0" y="249.00" width="2.0" height="24.50" fill="#377bec"/>
<rect x="138.0" y="249.00" width="5.0" height="24.50" fill="#1c69f8"/>
<rect x="142.0" y="249.00" width="2.0" height="24.50" fill="#226ef5"/>
<rect x="143.0" y="249.00" width="2.0" height="24.50" fill="#1c69f8"/>
<rect x="144.0" y="249.00" width="2.0" height="24.50" fill="#2a73f1"/>
<rect x="145.0" y="249.00" width="2.0" height="24.50" fill="#1c69f8"/>
<rect x="146.0" y="249.00" width="2.0" height="24.50" fill="#2f76ef"/>
<rect x="147.0" y="249.00" width="2.0" height="24.50" fill="#4584e5"/>
<rect x="148.0" y="249.00" width="2.0" height="24.50" fill="#2a73f1"/>
<rect x="149.0" y="249.00" width="2.0" height="24.50" fill="#2f76ef"/>
<rect x="150.0" y="249.00" width="2.0" height="24.50" fill="#4584e5"/>
<rect x="151.0" y="249.00" width="3.0" height="24.50" fill="#1c69f8"/>
<rect x="153.0" y="249.00" width="2.0" height="24.50" fill="#4a88e2"/>
<rect x="154.0" y="249.00" width="2.0" height="24.50" fill="#4786e3"/>
<rect x="155.0" y="249.00" width="3.0" height="24.50" fill="#1c69f8"/>
<rect x="157.0" y="249.00" width="2.0" height="24.50" fill="#4584e5"/>
<rect x="158.0" y="249.00" width="2.0" height="24.50" fill="#4e8cde"/>
<rect x="159.0" y="249.00" width="2.0" height="24.50" fill="#2a73f1"/>
<rect x="160.0" y="249.00" width="3.0" height="24.50" fill="#4e8cde"/>
<rect x="162.0" y="249.00" width="2.0" height="24.50" fill="#3c7dea"/>
<rect x="163.0" y="249.00" width="2.0" height="24.50" fill="#2a73f1"/>
<rect x="164.0" y="249.00" width="3.0" height="24.50" fill="#1c69f8"/>
<rect x="166.0" y="249.00" width="2.0" height="24.50" fill="#4786e3"/>
<rect x="167.0" y="249.00" width="2.0" height="24.50" fill="#2671f3"/>
<rect x="168.0" y="249.00" width="2.0" height="24.50" fill="#4080e8"/>
<rect x="169.0" y="249.00" width="2.0" height="24.50" fill="#2671f3"/>
<rect x="170.0" y="249.00" width="2.0" height="24.50" fill="#4282e6"/>
<rect x="171.0" y="249.00" width="2.0" height="24.50" fill="#377bec"/>
<rect x="172.0" y="249.00" width="3.0" height="24.50" fill="#1c69f8"/>
<rect x="174.0" y="249.00" width="2.0" height="24.50" fill="#4080e8"/>
<rect x="175.0" y="249.00" width="3.0" height="24.50" fill="#1c69f8"/>
<rect x="177.0" y="249.00" width="2.0" height="24.50" fill="#2671f3"/>
<rect x="178.0" y="249.00" width="2.0" height="24.50" fill="#3c7dea"/>
<rect x="179.0" y="249.00" width="2.0" height="24.50" fill="#2f76ef"/>
<rect x="180.0" y="249.00" width="2.0" height="24.50" fill="#1c69f8"/>
<rect x="181.0" y="249.00" width="2.0" height="24.50" fill="#3378ed"/>
<rect x="182.0" y="249.00" width="8.0" height="24.50" fill="#1c69f8"/>
<rect x="189.0" y="249.00" width="2.0" height="24.50" fill="#226ef5"/>
<rect x="190.0" y="249.00" width="3.0" height="24.50" fill="#1c69f8"/>
<rect x="192.0" y="249.00" width="2.0" height="24.50" fill="#2f76ef"/>
<rect x="193.0" y="249.00" width="2.0" height="24.50" fill="#377bec"/>
<rect x="194.0" y="249.00" width="2.0" height="24.50" fill="#2671f3"/>
<rect x="195.0" y="249.00" width="6.0" height="24.50" fill="#5b57f8"/>
<rect x="200.0" y="249.00" width="4.0" height="24.50" fill="#377bec"/>
<rect x="203.0" y="249.00" width="2.0" height="24.50" fill="#1c69f8"/>
<rect x="204.0" y="249.00" width="2.0" height="24.50" fill="#2671f3"/>
<rect x="205.0" y="249.00" width="2.0" height="24.50" fill="#226ef5"/>
<rect x="206.0" y="249.00" width="2.0" height="24.50" fill="#2f76ef"/>
<rect x="207.0" y="249.00" width="4.0" height="24.50" fill="#3a61f8"/>
<rect x="210.0" y="249.00" width="2.0" height="24.50" fill="#1c69f8"/>
<rect x="211.0" y="249.00" width="2.0" height="24.50" fill="#3378ed"/>
<rect x="212.0" y="249.00" width="3.0" height="24.50" fill="#377bec"/>
<rect x="214.0" y="249.00" width="3.0" height="24.50" fill="#3378ed"/>
<rect x="216.0" y="249.00" width="2.0" height="24.50" fill="#377bec"/>
<rect x="217.0" y="249.00" width="2.0" height="24.50" fill="#1c69f8"/>
<rect x="218.0" y="249.00" width="2.0" height="24.50" fill="#2a73f1"/>
<rect x="219.0" y="249.00" width="2.0" height="24.50" fill="#377bec"/>
<rect x="220.0" y="249.00" width="2.0" height="24.50" fill="#3378ed"/>
<rect x="221.0" y="249.00" width="2.0" height="24.50" fill="#1c69f8"/>
<rect x="222.0" y="249.00" width="2.0" height="24.50" fill="#3378ed"/>
<rect x="223.0" y="249.00" width="2.0" height="24.50" fill="#377bec"/>
<rect x="224.0" y="249.00" width="2.0" height="24.50" fill="#2671f3"/>
<rect x="225.0" y="249.00" width="2.0" height="24.50" fill="#226ef5"/>
<rect x="226.0" y="249.00" width="5.0" height="24.50" fill="#5b57f8"/>
<rect x="230.0" y="249.00" width="2.0" height="24.50" fill="#2671f3"/>
<rect x="231.0" y="249.00" width="3.0" height="24.50" fill="#377bec"/>
<rect x="233.0" y="249.00" width="2.0" height="24.50" fill="#2f76ef"/>
<rect x="234.0" y="249.00" width="2.0" height="24.50" fill="#1c69f8"/>
<rect x="235.0" y="249.00" width="2.0" height="24.50" fill="#2671f3"/>
<rect x="236.0" y="249.00" width="3.0" height="24.50" fill="#4e5bf8"/>
<rect x="238.0" y="249.00" width="2.0" height="24.50" fill="#2f76ef"/>
<rect x="239.0" y="249.00" width="2.0" height="24.50" fill="#3a61f8"/>
<rect x="240.0" y="249.00" width="2.0" height="24.50" fill="#226ef5"/>
<rect x="241.0" y="249.00" width="2.0" height="24.50" fill="#3a61f8"/>
<rect x="242.0" y="249.00" width="4.0" height="24.50" fill="#1c69f8"/>
<rect x="245.0" y="249.00" width="2.0" height="24.50" fill="#2671f3"/>
<rect x="246.0" y="249.00" width="2.0" height="24.50" fill="#1c69f8"/>
<rect x="247.0" y="249.00" width="2.0" height="24.50" fill="#2a73f1"/>
<rect x="248.0" y="249.00" width="2.0" height="24.50" fill="#3378ed"/>
<rect x="249.0" y="249.00" width="4.0" height="24.50" fill="#4e5bf8"/>
<rect x="252.0" y="249.00" width="7.6" height="24.50" fill="#6555f8"/>
<rect x="42.0" y="272.50" width="5.0" height="12.75" fill="#377bec"/>
<rect x="46.0" y="272.50" width="2.0" height="12.75" fill="#4786e3"/>
<rect x="47.0" y="272.50" width="2.0" height="12.75" fill="#5692da"/>
<rect x="48.0" y="272.50" width="2.0" height="12.75" fill="#4584e5"/>
<rect x="49.0" y="272.50" width="2.0" height="12.75" fill="#4080e8"/>
<rect x="50.0" y="272.50" width="2.0" height="12.75" fill="#4282e6"/>
<rect x="51.0" y="272.50" width="2.0" height="12.75" fill="#1c69f8"/>
<rect x="52.0" y="272.50" width="2.0" height="12.75" fill="#4080e8"/>
<rect x="53.0" y="272.50" width="2.0" height="12.75" fill="#4a88e2"/>
<rect x="54.0" y="272.50" width="2.0" height="12.75" fill="#4e8cde"/>
<rect x="55.0" y="272.50" width="4.0" height="12.75" fill="#1c69f8"/>
<rect x="58.0" y="272.50" width="2.0" height="12.75" fill="#4c8ae0"/>
<rect x="59.0" y="272.50" width="2.0" height="12.75" fill="#4a88e2"/>
<rect x="60.0" y="272.50" width="2.0" height="12.75" fill="#1c69f8"/>
<rect x="61.0" y="272.50" width="2.0" height="12.75" fill="#4c8ae0"/>
<rect x="62.0" y="272.50" width="2.0" height="12.75" fill="#5390db"/>
<rect x="63.0" y="272.50" width="2.0" height="12.75" fill="#4282e6"/>
<rect x="64.0" y="272.50" width="2.0" height="12.75" fill="#377bec"/>
<rect x="65.0" y="272.50" width="3.0" height="12.75" fill="#1c69f8"/>
<rect x="67.0" y="272.50" width="2.0" height="12.75" fill="#2a73f1"/>
<rect x="68.0" y="272.50" width="5.0" height="12.75" fill="#1c69f8"/>
<rect x="72.0" y="272.50" width="2.0" height="12.75" fill="#2671f3"/>
<rect x="73.0" y="272.50" width="2.0" height="12.75" fill="#3378ed"/>
<rect x="74.0" y="272.50" width="2.0" height="12.75" fill="#4584e5"/>
<rect x="75.0" y="272.50" width="2.0" height="12.75" fill="#377bec"/>
<rect x="76.0" y="272.50" width="4.0" height="12.75" fill="#3c7dea"/>
<rect x="79.0" y="272.50" width="2.0" height="12.75" fill="#2f76ef"/>
<rect x="80.0" y="272.50" width="2.0" height="12.75" fill="#1c69f8"/>
<rect x="81.0" y="272.50" width="2.0" height="12.75" fill="#4282e6"/>
<rect x="82.0" y="272.50" width="2.0" height="12.75" fill="#4786e3"/>
<rect x="83.0" y="272.50" width="2.0" height="12.75" fill="#4080e8"/>
<rect x="84.0" y="272.50" width="2.0" height="12.75" fill="#3378ed"/>
<rect x="85.0" y="272.50" width="5.0" height="12.75" fill="#1c69f8"/>
<rect x="89.0" y="272.50" width="2.0" height="12.75" fill="#3378ed"/>
<rect x="90.0" y="272.50" width="2.0" height="12.75" fill="#2a73f1"/>
<rect x="91.0" y="272.50" width="2.0" height="12.75" fill="#3c7dea"/>
<rect x="92.0" y="272.50" width="2.0" height="12.75" fill="#377bec"/>
<rect x="93.0" y="272.50" width="2.0" height="12.75" fill="#5390db"/>
<rect x="94.0" y="272.50" width="2.0" height="12.75" fill="#4e8cde"/>
<rect x="95.0" y="272.50" width="3.0" height="12.75" fill="#1c69f8"/>
<rect x="97.0" y="272.50" width="2.0" height="12.75" fill="#518edd"/>
<rect x="98.0" y="272.50" width="2.0" height="12.75" fill="#4282e6"/>
<rect x="99.0" y="272.50" width="2.0" height="12.75" fill="#5390db"/>
<rect x="100.0" y="272.50" width="2.0" height="12.75" fill="#3378ed"/>
<rect x="101.0" y="272.50" width="2.0" height="12.75" fill="#1c69f8"/>
<rect x="102.0" y="272.50" width="2.0" height="12.75" fill="#4080e8"/>
<rect x="103.0" y="272.50" width="2.0" height="12.75" fill="#4c8ae0"/>
<rect x="104.0" y="272.50" width="2.0" height="12.75" fill="#2671f3"/>
<rect x="105.0" y="272.50" width="2.0" height="12.75" fill="#1c69f8"/>
<rect x="106.0" y="272.50" width="2.0" height="12.75" fill="#3378ed"/>
<rect x="107.0" y="272.50" width="2.0" height="12.75" fill="#5390db"/>
<rect x="108.0" y="272.50" width="2.0" height="12.75" fill="#4a88e2"/>
<rect x="109.0" y="272.50" width="5.0" height="12.75" fill="#1c69f8"/>
<rect x="113.0" y="272.50" width="2.0" height="12.75" fill="#4282e6"/>
<rect x="114.0" y="272.50" width="2.0" height="12.75" fill="#1c69f8"/>
<rect x="115.0" y="272.50" width="2.0" height="12.75" fill="#377bec"/>
<rect x="116.0" y="272.50" width="2.0" height="12.75" fill="#3378ed"/>
<rect x="117.0" y="272.50" width="2.0" height="12.75" fill="#1c69f8"/>
<rect x="118.0" y="272.50" width="2.0" height="12.75" fill="#4282e6"/>
<rect x="119.0" y="272.50" width="2.0" height="12.75" fill="#1c69f8"/>
<rect x="120.0" y="272.50" width="2.0" height="12.75" fill="#377bec"/>
<rect x="121.0" y="272.50" width="2.0" height="12.75" fill="#1c69f8"/>
<rect x="122.0" y="272.50" width="2.0" height="12.75" fill="#226ef5"/>
<rect x="123.0" y="272.50" width="2.0" height="12.75" fill="#1c69f8"/>
<rect x="124.0" y="272.50" width="2.0" height="12.75" fill="#226ef5"/>
<rect x="125.0" y="272.50" width="2.0" height="12.75" fill="#4e8cde"/>
<rect x="126.0" y="272.50" width="2.0" height="12.75" fill="#4c8ae0"/>
<rect x="127.0" y="272.50" width="2.0" height="12.75" fill="#2f76ef"/>
<rect x="128.0" y="272.50" width="2.0" height="12.75" fill="#4a88e2"/>
<rect x="129.0" y="272.50" width="2.0" height="12.75" fill="#1c69f8"/>
<rect x="130.0" y="272.50" width="2.0" height="12.75" fill="#2a73f1"/>
<rect x="131.0" y="272.50" width="2.0" height="12.75" fill="#4c8ae0"/>
<rect x="132.0" y="272.50" width="2.0" height="12.75" fill="#4080e8"/>
<rect x="133.0" y="272.50" width="2.0" height="12.75" fill="#1c69f8"/>
<rect x="134.0" y="272.50" width="2.0" height="12.75" fill="#4e8cde"/>
<rect x="135.0" y="272.50" width="3.0" height="12.75" fill="#1c69f8"/>
<rect x="137.0" y="272.50" width="2.0" height="12.75" fill="#3378ed"/>
<rect x="138.0" y="272.50" width="5.0" height="12.75" fill="#1c69f8"/>
<rect x="142.0" y="272.50" width="2.0" height="12.75" fill="#2a73f1"/>
<rect x="143.0" y="272.50" width="2.0" height="12.75" fill="#1c69f8"/>
<rect x="144.0" y="272.50" width="2.0" height="12.75" fill="#2f76ef"/>
<rect x="145.0" y="272.50" width="2.0" height="12.75" fill="#1c69f8"/>
<rect x="146.0" y="272.50" width="2.0" height="12.75" fill="#2a73f1"/>
<rect x="147.0" y="272.50" width="2.0" height="12.75" fill="#4584e5"/>
<rect x="148.0" y="272.50" width="2.0" height="12.75" fill="#2f76ef"/>
<rect x="149.0" y="272.50" width="2.0" height="12.75" fill="#3378ed"/>
<rect x="150.0" y="272.50" width="2.0" height="12.75" fill="#4a88e2"/>
<rect x="151.0" y="272.50" width="3.0" height="12.75" fill="#1c69f8"/>
<rect x="153.0" y="272.50" width="2.0" height="12.75" fill="#4e8cde"/>
<rect x="154.0" y="272.50" width="2.0" height="12.75" fill="#4a88e2"/>
<rect x="155.0" y="272.50" width="3.0" height="12.75" fill="#1c69f8"/>
<rect x="157.0" y="272.50" width="2.0" height="12.75" fill="#4584e5"/>
<rect x="158.0" y="272.50" width="2.0" height="12.75" fill="#4c8ae0"/>
<rect x="159.0" y="272.50" width="2.0" height="12.75" fill="#2f76ef"/>
<rect x="160.0" y="272.50" width="2.0" height="12.75" fill="#518edd"/>
<rect x="161.0" y="272.50" width="2.0" height="12.75" fill="#5390db"/>
<rect x="162.0" y="272.50" width="2.0" height="12.75" fill="#4282e6"/>
<rect x="163.0" y="272.50" width="2.0" height="12.75" fill="#2a73f1"/>
<rect x="164.0" y="272.50" width="3.0" height="12.75" fill="#1c69f8"/>
<rect x="166.0" y="272.50" width="2.0" height="12.75" fill="#4c8ae0"/>
<rect x="167.0" y="272.50" width="2.0" height="12.75" fill="#2a73f1"/>
<rect x="168.0" y="272.50" width="2.0" height="12.75" fill="#4282e6"/>
<rect x="169.0" y="272.50" width="2.0" height="12.75" fill="#2a73f1"/>
<rect x="170.0" y="272.50" width="2.0" height="12.75" fill="#4786e3"/>
<rect x="171.0" y="272.50" width="2.0" height="12.75" fill="#4080e8"/>
<rect x="172.0" y="272.50" width="3.0" height="12.75" fill="#1c69f8"/>
<rect x="174.0" y="272.50" width="2.0" height="12.75" fill="#4080e8"/>
<rect x="175.0" y="272.50" width="3.0" height="12.75" fill="#1c69f8"/>
<rect x="177.0" y="272.50" width="2.0" height="12.75" fill="#2f76ef"/>
<rect x="178.0" y="272.50" width="2.0" height="12.75" fill="#3c7dea"/>
<rect x="179.0" y="272.50" width="2.0" height="12.75" fill="#3378ed"/>
<rect x="180.0" y="272.50" width="2.0" height="12.75" fill="#1c69f8"/>
<rect x="181.0" y="272.50" width="2.0" height="12.75" fill="#377bec"/>
<rect x="182.0" y="272.50" width="8.0" height="12.75" fill="#1c69f8"/>
<rect x="189.0" y="272.50" width="2.0" height="12.75" fill="#2a73f1"/>
<rect x="190.0" y="272.50" width="3.0" height="12.75" fill="#1c69f8"/>
<rect x="192.0" y="272.50" width="2.0" height="12.75" fill="#3378ed"/>
<rect x="193.0" y="272.50" width="2.0" height="12.75" fill="#4080e8"/>
<rect x="194.0" y="272.50" width="3.0" height="12.75" fill="#2f76ef"/>
<rect x="196.0" y="272.50" width="5.0" height="12.75" fill="#1c69f8"/>
<rect x="200.0" y="272.50" width="3.0" height="12.75" fill="#3378ed"/>
<rect x="202.0" y="272.50" width="2.0" height="12.75" fill="#377bec"/>
<rect x="203.0" y="272.50" width="2.0" height="12.75" fill="#1c69f8"/>
<rect x="204.0" y="272.50" width="2.0" height="12.75" fill="#2671f3"/>
<rect x="205.0" y="272.50" width="2.0" height="12.75" fill="#226ef5"/>
<rect x="206.0" y="272.50" width="2.0" height="12.75" fill="#2f76ef"/>
<rect x="207.0" y="272.50" width="4.0" height="12.75" fill="#3a61f8"/>
<rect x="210.0" y="272.50" width="2.0" height="12.75" fill="#2671f3"/>
<rect x="211.0" y="272.50" width="2.0" height="12.75" fill="#2f76ef"/>
<rect x="212.0" y="272.50" width="2.0" height="12.75" fill="#3c7dea"/>
<rect x="213.0" y="272.50" width="3.0" height="12.75" fill="#3378ed"/>
<rect x="215.0" y="272.50" width="2.0" height="12.75" fill="#377bec"/>
<rect x="216.0" y="272.50" width="2.0" height="12.75" fill="#3378ed"/>
<rect x="217.0" y="272.50" width="2.0" height="12.75" fill="#1c69f8"/>
<rect x="218.0" y="272.50" width="2.0" height="12.75" fill="#2a73f1"/>
<rect x="219.0" y="272.50" width="3.0" height="12.75" fill="#377bec"/>
<rect x="221.0" y="272.50" width="2.0" height="12.75" fill="#1c69f8"/>
<rect x="222.0" y="272.50" width="2.0" height="12.75" fill="#3378ed"/>
<rect x="223.0" y="272.50" width="2.0" height="12.75" fill="#377bec"/>
<rect x="224.0" y="272.50" width="3.0" height="12.75" fill="#2a73f1"/>
<rect x="226.0" y="272.50" width="5.0" height="12.75" fill="#5b57f8"/>
<rect x="230.0" y="272.50" width="2.0" height="12.75" fill="#2671f3"/>
<rect x="231.0" y="272.50" width="2.0" height="12.75" fill="#3c7dea"/>
<rect x="232.0" y="272.50" width="2.0" height="12.75" fill="#377bec"/>
<rect x="233.0" y="272.50" width="2.0" height="12.75" fill="#3378ed"/>
<rect x="234.0" y="272.50" width="2.0" height="12.75" fill="#1c69f8"/>
<rect x="235.0" y="272.50" width="2.0" height="12.75" fill="#2a73f1"/>
<rect x="236.0" y="272.50" width="3.0" height="12.75" fill="#4e5bf8"/>
<rect x="238.0" y="272.50" width="2.0" height="12.75" fill="#3378ed"/>
<rect x="239.0" y="272.50" width="2.0" height="12.75" fill="#3a61f8"/>
<rect x="240.0" y="272.50" width="2.0" height="12.75" fill="#226ef5"/>
<rect x="241.0" y="272.50" width="5.0" height="12.75" fill="#1c69f8"/>
<rect x="245.0" y="272.50" width="2.0" height="12.75" fill="#2a73f1"/>
<rect x="246.0" y="272.50" width="2.0" height="12.75" fill="#1c69f8"/>
<rect x="247.0" y="272.50" width="2.0" height="12.75" fill="#2671f3"/>
<rect x="248.0" y="272.50" width="2.0" height="12.75" fill="#377bec"/>
<rect x="249.0" y="272.50" width="4.0" height="12.75" fill="#4e5bf8"/>
<rect x="252.0" y="272.50" width="7.6" height="12.75" fill="#6555f8"/>
<rect x="42.0" y="284.25" width="5.0" height="12.75" fill="#4080e8"/>
<rect x="46.0" y="284.25" width="2.0" height="12.75" fill="#4a88e2"/>
<rect x="47.0" y="284.25" width="2.0" height="12.75" fill="#5996d6"/>
<rect x="48.0" y="284.25" width="2.0" height="12.75" fill="#4584e5"/>
<rect x="49.0" y="284.25" width="3.0" height="12.75" fill="#4080e8"/>
<rect x="51.0" y="284.25" width="3.0" height="12.75" fill="#3c7dea"/>
<rect x="53.0" y="284.25" width="2.0" height="12.75" fill="#4c8ae0"/>
<rect x="54.0" y="284.25" width="2.0" height="12.75" fill="#518edd"/>
<rect x="55.0" y="284.25" width="2.0" height="12.75" fill="#2671f3"/>
<rect x="56.0" y="284.25" width="2.0" height="12.75" fill="#1d6cf7"/>
<rect x="57.0" y="284.25" width="2.0" height="12.75" fill="#3c7dea"/>
<rect x="58.0" y="284.25" width="2.0" height="12.75" fill="#518edd"/>
<rect x="59.0" y="284.25" width="2.0" height="12.75" fill="#4a88e2"/>
<rect x="60.0" y="284.25" width="2.0" height="12.75" fill="#226ef5"/>
<rect x="61.0" y="284.25" width="2.0" height="12.75" fill="#4e8cde"/>
<rect x="62.0" y="284.25" width="2.0" height="12.75" fill="#5692da"/>
<rect x="63.0" y="284.25" width="2.0" height="12.75" fill="#4584e5"/>
<rect x="64.0" y="284.25" width="2.0" height="12.75" fill="#377bec"/>
<rect x="65.0" y="284.25" width="3.0" height="12.75" fill="#2a73f1"/>
<rect x="67.0" y="284.25" width="2.0" height="12.75" fill="#2671f3"/>
<rect x="68.0" y="284.25" width="2.0" height="12.75" fill="#2a73f1"/>
<rect x="69.0" y="284.25" width="2.0" height="12.75" fill="#377bec"/>
<rect x="70.0" y="284.25" width="2.0" height="12.75" fill="#3c7dea"/>
<rect x="71.0" y="284.25" width="2.0" height="12.75" fill="#226ef5"/>
<rect x="72.0" y="284.25" width="2.0" height="12.75" fill="#377bec"/>
<rect x="73.0" y="284.25" width="2.0" height="12.75" fill="#3378ed"/>
<rect x="74.0" y="284.25" width="2.0" height="12.75" fill="#4a88e2"/>
<rect x="75.0" y="284.25" width="2.0" height="12.75" fill="#3c7dea"/>
<rect x="76.0" y="284.25" width="2.0" height="12.75" fill="#4282e6"/>
<rect x="77.0" y="284.25" width="4.0" height="12.75" fill="#3c7dea"/>
<rect x="80.0" y="284.25" width="2.0" height="12.75" fill="#2671f3"/>
<rect x="81.0" y="284.25" width="2.0" height="12.75" fill="#4282e6"/>
<rect x="82.0" y="284.25" width="2.0" height="12.75" fill="#4a88e2"/>
<rect x="83.0" y="284.25" width="2.0" height="12.75" fill="#4080e8"/>
<rect x="84.0" y="284.25" width="2.0" height="12.75" fill="#377bec"/>
<rect x="85.0" y="284.25" width="2.0" height="12.75" fill="#3c7dea"/>
<rect x="86.0" y="284.25" width="4.0" height="12.75" fill="#2671f3"/>
<rect x="89.0" y="284.25" width="2.0" height="12.75" fill="#377bec"/>
<rect x="90.0" y="284.25" width="2.0" height="12.75" fill="#2a73f1"/>
<rect x="91.0" y="284.25" width="2.0" height="12.75" fill="#4080e8"/>
<rect x="92.0" y="284.25" width="2.0" height="12.75" fill="#3c7dea"/>
<rect x="93.0" y="284.25" width="2.0" height="12.75" fill="#5894d8"/>
<rect x="94.0" y="284.25" width="2.0" height="12.75" fill="#4e8cde"/>
<rect x="95.0" y="284.25" width="3.0" height="12.75" fill="#226ef5"/>
<rect x="97.0" y="284.25" width="2.0" height="12.75" fill="#5390db"/>
<rect x="98.0" y="284.25" width="2.0" height="12.75" fill="#4584e5"/>
<rect x="99.0" y="284.25" width="2.0" height="12.75" fill="#5894d8"/>
<rect x="100.0" y="284.25" width="2.0" height="12.75" fill="#377bec"/>
<rect x="101.0" y="284.25" width="2.0" height="12.75" fill="#3378ed"/>
<rect x="102.0" y="284.25" width="2.0" height="12.75" fill="#4584e5"/>
<rect x="103.0" y="284.25" width="2.0" height="12.75" fill="#4c8ae0"/>
<rect x="104.0" y="284.25" width="3.0" height="12.75" fill="#3378ed"/>
<rect x="106.0" y="284.25" width="2.0" height="12.75" fill="#2a73f1"/>
<rect x="107.0" y="284.25" width="2.0" height="12.75" fill="#5894d8"/>
<rect x="108.0" y="284.25" width="2.0" height="12.75" fill="#4e8cde"/>
<rect x="109.0" y="284.25" width="3.0" height="12.75" fill="#3378ed"/>
<rect x="111.0" y="284.25" width="2.0" height="12.75" fill="#2f76ef"/>
<rect x="112.0" y="284.25" width="2.0" height="12.75" fill="#226ef5"/>
<rect x="113.0" y="284.25" width="2.0" height="12.75" fill="#4584e5"/>
<rect x="114.0" y="284.25" width="2.0" height="12.75" fill="#2671f3"/>
<rect x="115.0" y="284.25" width="2.0" height="12.75" fill="#377bec"/>
<rect x="116.0" y="284.25" width="2.0" height="12.75" fill="#2f76ef"/>
<rect x="117.0" y="284.25" width="2.0" height="12.75" fill="#226ef5"/>
<rect x="118.0" y="284.25" width="2.0" height="12.75" fill="#4080e8"/>
<rect x="119.0" y="284.25" width="2.0" height="12.75" fill="#226ef5"/>
<rect x="120.0" y="284.25" width="2.0" height="12.75" fill="#377bec"/>
<rect x="121.0" y="284.25" width="4.0" height="12.75" fill="#3378ed"/>
<rect x="124.0" y="284.25" width="2.0" height="12.75" fill="#2a73f1"/>
<rect x="125.0" y="284.25" width="2.0" height="12.75" fill="#5692da"/>
<rect x="126.0" y="284.25" width="2.0" height="12.75" fill="#4e8cde"/>
<rect x="127.0" y="284.25" width="2.0" height="12.75" fill="#377bec"/>
<rect x="128.0" y="284.25" width="2.0" height="12.75" fill="#4c8ae0"/>
<rect x="129.0" y="284.25" width="2.0" height="12.75" fill="#2a73f1"/>
<rect x="130.0" y="284.25" width="2.0" height="12.75" fill="#377bec"/>
<rect x="131.0" y="284.25" width="2.0" height="12.75" fill="#4e8cde"/>
<rect x="132.0" y="284.25" width="2.0" height="12.75" fill="#4584e5"/>
<rect x="133.0" y="284.25" width="2.0" height="12.75" fill="#3c7dea"/>
<rect x="134.0" y="284.25" width="2.0" height="12.75" fill="#4e8cde"/>
<rect x="135.0" y="284.25" width="2.0" height="12.75" fill="#1d6cf7"/>
<rect x="136.0" y="284.25" width="2.0" height="12.75" fill="#3378ed"/>
<rect x="137.0" y="284.25" width="2.0" height="12.75" fill="#3c7dea"/>
<rect x="138.0" y="284.25" width="2.0" height="12.75" fill="#377bec"/>
<rect x="139.0" y="284.25" width="3.0" height="12.75" fill="#3378ed"/>
<rect x="141.0" y="284.25" width="2.0" height="12.75" fill="#226ef5"/>
<rect x="142.0" y="284.25" width="2.0" height="12.75" fill="#3378ed"/>
<rect x="143.0" y="284.25" width="2.0" height="12.75" fill="#3c7dea"/>
<rect x="144.0" y="284.25" width="2.0" height="12.75" fill="#2f76ef"/>
<rect x="145.0" y="284.25" width="2.0" height="12.75" fill="#2a73f1"/>
<rect x="146.0" y="284.25" width="2.0" height="12.75" fill="#3c7dea"/>
<rect x="147.0" y="284.25" width="2.0" height="12.75" fill="#4584e5"/>
<rect x="148.0" y="284.25" width="2.0" height="12.75" fill="#2f76ef"/>
<rect x="149.0" y="284.25" width="2.0" height="12.75" fill="#3c7dea"/>
<rect x="150.0" y="284.25" width="2.0" height="12.75" fill="#4e8cde"/>
<rect x="151.0" y="284.25" width="2.0" height="12.75" fill="#3c7dea"/>
<rect x="152.0" y="284.25" width="2.0" height="12.75" fill="#3378ed"/>
<rect x="153.0" y="284.25" width="2.0" height="12.75" fill="#518edd"/>
<rect x="154.0" y="284.25" width="2.0" height="12.75" fill="#4c8ae0"/>
<rect x="155.0" y="284.25" width="2.0" height="12.75" fill="#226ef5"/>
<rect x="156.0" y="284.25" width="2.0" height="12.75" fill="#2f76ef"/>
<rect x="157.0" y="284.25" width="2.0" height="12.75" fill="#4a88e2"/>
<rect x="158.0" y="284.25" width="2.0" height="12.75" fill="#518edd"/>
<rect x="159.0" y="284.25" width="2.0" height="12.75" fill="#2f76ef"/>
<rect x="160.0" y="284.25" width="2.0" height="12.75" fill="#518edd"/>
<rect x="161.0" y="284.25" width="2.0" height="12.75" fill="#5692da"/>
<rect x="162.0" y="284.25" width="2.0" height="12.75" fill="#4584e5"/>
<rect x="163.0" y="284.25" width="3.0" height="12.75" fill="#2a73f1"/>
<rect x="165.0" y="284.25" width="2.0" height="12.75" fill="#3378ed"/>
<rect x="166.0" y="284.25" width="2.0" height="12.75" fill="#4c8ae0"/>
<rect x="167.0" y="284.25" width="2.0" height="12.75" fill="#377bec"/>
<rect x="168.0" y="284.25" width="2.0" height="12.75" fill="#4282e6"/>
<rect x="169.0" y="284.25" width="2.0" height="12.75" fill="#2f76ef"/>
<rect x="170.0" y="284.25" width="2.0" height="12.75" fill="#4a88e2"/>
<rect x="171.0" y="284.25" width="2.0" height="12.75" fill="#4282e6"/>
<rect x="172.0" y="284.25" width="3.0" height="12.75" fill="#2671f3"/>
<rect x="174.0" y="284.25" width="2.0" height="12.75" fill="#4282e6"/>
<rect x="175.0" y="284.25" width="3.0" height="12.75" fill="#2f76ef"/>
<rect x="177.0" y="284.25" width="2.0" height="12.75" fill="#3c7dea"/>
<rect x="178.0" y="284.25" width="2.0" height="12.75" fill="#4282e6"/>
<rect x="179.0" y="284.25" width="2.0" height="12.75" fill="#3378ed"/>
<rect x="180.0" y="284.25" width="2.0" height="12.75" fill="#377bec"/>
<rect x="181.0" y="284.25" width="2.0" height="12.75" fill="#3c7dea"/>
<rect x="182.0" y="284.25" width="2.0" height="12.75" fill="#2f76ef"/>
<rect x="183.0" y="284.25" width="3.0" height="12.75" fill="#1d6cf7"/>
<rect x="185.0" y="284.25" width="2.0" height="12.75" fill="#2671f3"/>
<rect x="186.0" y="284.25" width="2.0" height="12.75" fill="#3c7dea"/>
<rect x="187.0" y="284.25" width="2.0" height="12.75" fill="#377bec"/>
<rect x="188.0" y="284.25" width="2.0" height="12.75" fill="#3c7dea"/>
<rect x="189.0" y="284.25" width="2.0" height="12.75" fill="#2a73f1"/>
<rect x="190.0" y="284.25" width="2.0" height="12.75" fill="#2f76ef"/>
<rect x="191.0" y="284.25" width="2.0" height="12.75" fill="#3c7dea"/>
<rect x="192.0" y="284.25" width="2.0" height="12.75" fill="#377bec"/>
<rect x="193.0" y="284.25" width="2.0" height="12.75" fill="#3c7dea"/>
<rect x="194.0" y="284.25" width="2.0" height="12.75" fill="#2f76ef"/>
<rect x="195.0" y="284.25" width="2.0" height="12.75" fill="#2671f3"/>
<rect x="196.0" y="284.25" width="2.0" height="12.75" fill="#2f76ef"/>
<rect x="197.0" y="284.25" width="2.0" height="12.75" fill="#2671f3"/>
<rect x="198.0" y="284.25" width="2.0" height="12.75" fill="#2f76ef"/>
<rect x="199.0" y="284.25" width="3.0" height="12.75" fill="#3c7dea"/>
<rect x="201.0" y="284.25" width="3.0" height="12.75" fill="#377bec"/>
<rect x="203.0" y="284.25" width="3.0" height="12.75" fill="#226ef5"/>
<rect x="205.0" y="284.25" width="2.0" height="12.75" fill="#2671f3"/>
<rect x="206.0" y="284.25" width="2.0" height="12.75" fill="#377bec"/>
<rect x="207.0" y="284.25" width="4.0" height="12.75" fill="#3a61f8"/>
<rect x="210.0" y="284.25" width="2.0" height="12.75" fill="#3378ed"/>
<rect x="211.0" y="284.25" width="2.0" height="12.75" fill="#377bec"/>
<rect x="212.0" y="284.25" width="2.0" height="12.75" fill="#3c7dea"/>
<rect x="213.0" y="284.25" width="3.0" height="12.75" fill="#3378ed"/>
<rect x="215.0" y="284.25" width="2.0" height="12.75" fill="#377bec"/>
<rect x="216.0" y="284.25" width="3.0" height="12.75" fill="#3c7dea"/>
<rect x="218.0" y="284.25" width="2.0" height="12.75" fill="#377bec"/>
<rect x="219.0" y="284.25" width="2.0" height="12.75" fill="#3c7dea"/>
<rect x="220.0" y="284.25" width="4.0" height="12.75" fill="#3378ed"/>
<rect x="223.0" y="284.25" width="2.0" height="12.75" fill="#377bec"/>
<rect x="224.0" y="284.25" width="2.0" height="12.75" fill="#2a73f1"/>
<rect x="225.0" y="284.25" width="2.0" height="12.75" fill="#2f76ef"/>
<rect x="226.0" y="284.25" width="5.0" height="12.75" fill="#5b57f8"/>
<rect x="230.0" y="284.25" width="2.0" height="12.75" fill="#377bec"/>
<rect x="231.0" y="284.25" width="2.0" height="12.75" fill="#4080e8"/>
<rect x="232.0" y="284.25" width="3.0" height="12.75" fill="#3c7dea"/>
<rect x="234.0" y="284.25" width="2.0" height="12.75" fill="#377bec"/>
<rect x="235.0" y="284.25" width="2.0" height="12.75" fill="#3378ed"/>
<rect x="236.0" y="284.25" width="3.0" height="12.75" fill="#4e5bf8"/>
<rect x="238.0" y="284.25" width="2.0" height="12.75" fill="#3378ed"/>
<rect x="239.0" y="284.25" width="2.0" height="12.75" fill="#377bec"/>
<rect x="240.0" y="284.25" width="2.0" height="12.75" fill="#2a73f1"/>
<rect x="241.0" y="284.25" width="2.0" height="12.75" fill="#226ef5"/>
<rect x="242.0" y="284.25" width="2.0" height="12.75" fill="#377bec"/>
<rect x="243.0" y="284.25" width="2.0" height="12.75" fill="#2671f3"/>
<rect x="244.0" y="284.25" width="2.0" height="12.75" fill="#377bec"/>
<rect x="245.0" y="284.25" width="2.0" height="12.75" fill="#2f76ef"/>
<rect x="246.0" y="284.25" width="2.0" height="12.75" fill="#226ef5"/>
<rect x="247.0" y="284.25" width="2.0" height="12.75" fill="#2f76ef"/>
<rect x="248.0" y="284.25" width="2.0" height="12.75" fill="#377bec"/>
<rect x="249.0" y="284.25" width="4.0" height="12.75" fill="#4e5bf8"/>
<rect x="252.0" y="284.25" width="7.6" height="12.75" fill="#6555f8"/>
<rect x="42.0" y="296.00" width="5.0" height="12.75" fill="#4080e8"/>
<rect x="46.0" y="296.00" width="2.0" height="12.75" fill="#4a88e2"/>
<rect x="47.0" y="296.00" width="2.0" height="12.75" fill="#5996d6"/>
<rect x="48.0" y="296.00" width="2.0" height="12.75" fill="#4584e5"/>
<rect x="49.0" y="296.00" width="2.0" height="12.75" fill="#4282e6"/>
<rect x="50.0" y="296.00" width="2.0" height="12.75" fill="#4584e5"/>
<rect x="51.0" y="296.00" width="3.0" height="12.75" fill="#4282e6"/>
<rect x="53.0" y="296.00" width="2.0" height="12.75" fill="#4e8cde"/>
<rect x="54.0" y="296.00" width="2.0" height="12.75" fill="#518edd"/>
<rect x="55.0" y="296.00" width="2.0" height="12.75" fill="#3378ed"/>
<rect x="56.0" y="296.00" width="2.0" height="12.75" fill="#377bec"/>
<rect x="57.0" y="296.00" width="2.0" height="12.75" fill="#3c7dea"/>
<rect x="58.0" y="296.00" width="2.0" height="12.75" fill="#518edd"/>
<rect x="59.0" y="296.00" width="2.0" height="12.75" fill="#4c8ae0"/>
<rect x="60.0" y="296.00" width="2.0" height="12.75" fill="#2f76ef"/>
<rect x="61.0" y="296.00" width="2.0" height="12.75" fill="#5390db"/>
<rect x="62.0" y="296.00" width="2.0" height="12.75" fill="#5894d8"/>
<rect x="63.0" y="296.00" width="2.0" height="12.75" fill="#4584e5"/>
<rect x="64.0" y="296.00" width="2.0" height="12.75" fill="#3c7dea"/>
<rect x="65.0" y="296.00" width="2.0" height="12.75" fill="#4080e8"/>
<rect x="66.0" y="296.00" width="2.0" height="12.75" fill="#4282e6"/>
<rect x="67.0" y="296.00" width="2.0" height="12.75" fill="#3c7dea"/>
<rect x="68.0" y="296.00" width="2.0" height="12.75" fill="#377bec"/>
<rect x="69.0" y="296.00" width="2.0" height="12.75" fill="#4282e6"/>
<rect x="70.0" y="296.00" width="2.0" height="12.75" fill="#4080e8"/>
<rect x="71.0" y="296.00" width="2.0" height="12.75" fill="#3378ed"/>
<rect x="72.0" y="296.00" width="2.0" height="12.75" fill="#3c7dea"/>
<rect x="73.0" y="296.00" width="2.0" height="12.75" fill="#4080e8"/>
<rect x="74.0" y="296.00" width="2.0" height="12.75" fill="#4a88e2"/>
<rect x="75.0" y="296.00" width="2.0" height="12.75" fill="#4080e8"/>
<rect x="76.0" y="296.00" width="2.0" height="12.75" fill="#4282e6"/>
<rect x="77.0" y="296.00" width="2.0" height="12.75" fill="#3c7dea"/>
<rect x="78.0" y="296.00" width="2.0" height="12.75" fill="#4584e5"/>
<rect x="79.0" y="296.00" width="2.0" height="12.75" fill="#3378ed"/>
<rect x="80.0" y="296.00" width="2.0" height="12.75" fill="#3c7dea"/>
<rect x="81.0" y="296.00" width="2.0" height="12.75" fill="#4786e3"/>
<rect x="82.0" y="296.00" width="2.0" height="12.75" fill="#4c8ae0"/>
<rect x="83.0" y="296.00" width="2.0" height="12.75" fill="#4584e5"/>
<rect x="84.0" y="296.00" width="2.0" height="12.75" fill="#377bec"/>
<rect x="85.0" y="296.00" width="2.0" height="12.75" fill="#3c7dea"/>
<rect x="86.0" y="296.00" width="2.0" height="12.75" fill="#3378ed"/>
<rect x="87.0" y="296.00" width="2.0" height="12.75" fill="#2a73f1"/>
<rect x="88.0" y="296.00" width="2.0" height="12.75" fill="#4282e6"/>
<rect x="89.0" y="296.00" width="2.0" height="12.75" fill="#4584e5"/>
<rect x="90.0" y="296.00" width="2.0" height="12.75" fill="#4080e8"/>
<rect x="91.0" y="296.00" width="2.0" height="12.75" fill="#4584e5"/>
<rect x="92.0" y="296.00" width="2.0" height="12.75" fill="#4282e6"/>
<rect x="93.0" y="296.00" width="2.0" height="12.75" fill="#5996d6"/>
<rect x="94.0" y="296.00" width="2.0" height="12.75" fill="#5390db"/>
<rect x="95.0" y="296.00" width="2.0" height="12.75" fill="#2f76ef"/>
<rect x="96.0" y="296.00" width="2.0" height="12.75" fill="#377bec"/>
<rect x="97.0" y="296.00" width="2.0" height="12.75" fill="#5390db"/>
<rect x="98.0" y="296.00" width="2.0" height="12.75" fill="#4584e5"/>
<rect x="99.0" y="296.00" width="2.0" height="12.75" fill="#5894d8"/>
<rect x="100.0" y="296.00" width="2.0" height="12.75" fill="#4080e8"/>
<rect x="101.0" y="296.00" width="2.0" height="12.75" fill="#4584e5"/>
<rect x="102.0" y="296.00" width="2.0" height="12.75" fill="#4786e3"/>
<rect x="103.0" y="296.00" width="2.0" height="12.75" fill="#518edd"/>
<rect x="104.0" y="296.00" width="2.0" height="12.75" fill="#377bec"/>
<rect x="105.0" y="296.00" width="2.0" height="12.75" fill="#2f76ef"/>
<rect x="106.0" y="296.00" width="2.0" height="12.75" fill="#3378ed"/>
<rect x="107.0" y="296.00" width="2.0" height="12.75" fill="#5996d6"/>
<rect x="108.0" y="296.00" width="2.0" height="12.75" fill="#518edd"/>
<rect x="109.0" y="296.00" width="2.0" height="12.75" fill="#3c7dea"/>
<rect x="110.0" y="296.00" width="4.0" height="12.75" fill="#4080e8"/>
<rect x="113.0" y="296.00" width="2.0" height="12.75" fill="#4584e5"/>
<rect x="114.0" y="296.00" width="2.0" height="12.75" fill="#3378ed"/>
<rect x="115.0" y="296.00" width="2.0" height="12.75" fill="#4584e5"/>
<rect x="116.0" y="296.00" width="2.0" height="12.75" fill="#3378ed"/>
<rect x="117.0" y="296.00" width="2.0" height="12.75" fill="#4080e8"/>
<rect x="118.0" y="296.00" width="2.0" height="12.75" fill="#4584e5"/>
<rect x="119.0" y="296.00" width="3.0" height="12.75" fill="#4080e8"/>
<rect x="121.0" y="296.00" width="5.0" height="12.75" fill="#2f76ef"/>
<rect x="125.0" y="296.00" width="2.0" height="12.75" fill="#5390db"/>
<rect x="126.0" y="296.00" width="2.0" height="12.75" fill="#518edd"/>
<rect x="127.0" y="296.00" width="2.0" height="12.75" fill="#4080e8"/>
<rect x="128.0" y="296.00" width="2.0" height="12.75" fill="#4c8ae0"/>
<rect x="129.0" y="296.00" width="2.0" height="12.75" fill="#3378ed"/>
<rect x="130.0" y="296.00" width="2.0" height="12.75" fill="#3c7dea"/>
<rect x="131.0" y="296.00" width="2.0" height="12.75" fill="#518edd"/>
<rect x="132.0" y="296.00" width="3.0" height="12.75" fill="#4282e6"/>
<rect x="134.0" y="296.00" width="2.0" height="12.75" fill="#4e8cde"/>
<rect x="135.0" y="296.00" width="2.0" height="12.75" fill="#2f76ef"/>
<rect x="136.0" y="296.00" width="3.0" height="12.75" fill="#4584e5"/>
<rect x="138.0" y="296.00" width="2.0" height="12.75" fill="#4080e8"/>
<rect x="139.0" y="296.00" width="2.0" height="12.75" fill="#3c7dea"/>
<rect x="140.0" y="296.00" width="3.0" height="12.75" fill="#4080e8"/>
<rect x="142.0" y="296.00" width="2.0" height="12.75" fill="#3378ed"/>
<rect x="143.0" y="296.00" width="2.0" height="12.75" fill="#4282e6"/>
<rect x="144.0" y="296.00" width="2.0" height="12.75" fill="#3378ed"/>
<rect x="145.0" y="296.00" width="2.0" height="12.75" fill="#3c7dea"/>
<rect x="146.0" y="296.00" width="2.0" height="12.75" fill="#377bec"/>
<rect x="147.0" y="296.00" width="3.0" height="12.75" fill="#4584e5"/>
<rect x="149.0" y="296.00" width="2.0" height="12.75" fill="#3c7dea"/>
<rect x="150.0" y="296.00" width="2.0" height="12.75" fill="#518edd"/>
<rect x="151.0" y="296.00" width="2.0" height="12.75" fill="#2f76ef"/>
<rect x="152.0" y="296.00" width="2.0" height="12.75" fill="#4080e8"/>
<rect x="153.0" y="296.00" width="2.0" height="12.75" fill="#518edd"/>
<rect x="154.0" y="296.00" width="2.0" height="12.75" fill="#4e8cde"/>
<rect x="155.0" y="296.00" width="3.0" height="12.75" fill="#3c7dea"/>
<rect x="157.0" y="296.00" width="2.0" height="12.75" fill="#4a88e2"/>
<rect x="158.0" y="296.00" width="2.0" height="12.75" fill="#5692da"/>
<rect x="159.0" y="296.00" width="2.0" height="12.75" fill="#4584e5"/>
<rect x="160.0" y="296.00" width="2.0" height="12.75" fill="#5692da"/>
<rect x="161.0" y="296.00" width="2.0" height="12.75" fill="#5894d8"/>
<rect x="162.0" y="296.00" width="2.0" height="12.75" fill="#4584e5"/>
<rect x="163.0" y="296.00" width="3.0" height="12.75" fill="#3378ed"/>
<rect x="165.0" y="296.00" width="2.0" height="12.75" fill="#4080e8"/>
<rect x="166.0" y="296.00" width="2.0" height="12.75" fill="#518edd"/>
<rect x="167.0" y="296.00" width="2.0" height="12.75" fill="#2f76ef"/>
<rect x="168.0" y="296.00" width="2.0" height="12.75" fill="#4584e5"/>
<rect x="169.0" y="296.00" width="2.0" height="12.75" fill="#3c7dea"/>
<rect x="170.0" y="296.00" width="2.0" height="12.75" fill="#4c8ae0"/>
<rect x="171.0" y="296.00" width="2.0" height="12.75" fill="#4282e6"/>
<rect x="172.0" y="296.00" width="2.0" height="12.75" fill="#3c7dea"/>
<rect x="173.0" y="296.00" width="2.0" height="12.75" fill="#4080e8"/>
<rect x="174.0" y="296.00" width="3.0" height="12.75" fill="#4584e5"/>
<rect x="176.0" y="296.00" width="2.0" height="12.75" fill="#3c7dea"/>
<rect x="177.0" y="296.00" width="2.0" height="12.75" fill="#2f76ef"/>
<rect x="178.0" y="296.00" width="2.0" height="12.75" fill="#4080e8"/>
<rect x="179.0" y="296.00" width="2.0" height="12.75" fill="#2f76ef"/>
<rect x="180.0" y="296.00" width="2.0" height="12.75" fill="#4080e8"/>
<rect x="181.0" y="296.00" width="2.0" height="12.75" fill="#4584e5"/>
<rect x="182.0" y="296.00" width="2.0" height="12.75" fill="#377bec"/>
<rect x="183.0" y="296.00" width="2.0" height="12.75" fill="#4080e8"/>
<rect x="184.0" y="296.00" width="2.0" height="12.75" fill="#4282e6"/>
<rect x="185.0" y="296.00" width="2.0" height="12.75" fill="#3378ed"/>
<rect x="186.0" y="296.00" width="3.0" height="12.75" fill="#4080e8"/>
<rect x="188.0" y="296.00" width="3.0" height="12.75" fill="#4282e6"/>
<rect x="190.0" y="296.00" width="2.0" height="12.75" fill="#4080e8"/>
<rect x="191.0" y="296.00" width="2.0" height="12.75" fill="#377bec"/>
<rect x="192.0" y="296.00" width="3.0" height="12.75" fill="#3c7dea"/>
<rect x="194.0" y="296.00" width="2.0" height="12.75" fill="#4080e8"/>
<rect x="195.0" y="296.00" width="2.0" height="12.75" fill="#2f76ef"/>
<rect x="196.0" y="296.00" width="2.0" height="12.75" fill="#4282e6"/>
<rect x="197.0" y="296.00" width="2.0" height="12.75" fill="#3378ed"/>
<rect x="198.0" y="296.00" width="2.0" height="12.75" fill="#2a73f1"/>
<rect x="199.0" y="296.00" width="2.0" height="12.75" fill="#3378ed"/>
<rect x="200.0" y="296.00" width="2.0" height="12.75" fill="#4080e8"/>
<rect x="201.0" y="296.00" width="2.0" height="12.75" fill="#4282e6"/>
<rect x="202.0" y="296.00" width="2.0" height="12.75" fill="#4080e8"/>
<rect x="203.0" y="296.00" width="2.0" height="12.75" fill="#4282e6"/>
<rect x="204.0" y="296.00" width="2.0" height="12.75" fill="#4584e5"/>
<rect x="205.0" y="296.00" width="2.0" height="12.75" fill="#2f76ef"/>
<rect x="206.0" y="296.00" width="2.0" height="12.75" fill="#4080e8"/>
<rect x="207.0" y="296.00" width="4.0" height="12.75" fill="#3a61f8"/>
<rect x="210.0" y="296.00" width="2.0" height="12.75" fill="#4282e6"/>
<rect x="211.0" y="296.00" width="3.0" height="12.75" fill="#4584e5"/>
<rect x="213.0" y="296.00" width="2.0" height="12.75" fill="#3c7dea"/>
<rect x="214.0" y="296.00" width="2.0" height="12.75" fill="#4080e8"/>
<rect x="215.0" y="296.00" width="2.0" height="12.75" fill="#4584e5"/>
<rect x="216.0" y="296.00" width="2.0" height="12.75" fill="#4080e8"/>
<rect x="217.0" y="296.00" width="2.0" height="12.75" fill="#2f76ef"/>
<rect x="218.0" y="296.00" width="2.0" height="12.75" fill="#377bec"/>
<rect x="219.0" y="296.00" width="2.0" height="12.75" fill="#3c7dea"/>
<rect x="220.0" y="296.00" width="2.0" height="12.75" fill="#4282e6"/>
<rect x="221.0" y="296.00" width="2.0" height="12.75" fill="#3378ed"/>
<rect x="222.0" y="296.00" width="3.0" height="12.75" fill="#4282e6"/>
<rect x="224.0" y="296.00" width="2.0" height="12.75" fill="#2f76ef"/>
<rect x="225.0" y="296.00" width="2.0" height="12.75" fill="#377bec"/>
<rect x="226.0" y="296.00" width="5.0" height="12.75" fill="#5b57f8"/>
<rect x="230.0" y="296.00" width="2.0" height="12.75" fill="#3c7dea"/>
<rect x="231.0" y="296.00" width="3.0" height="12.75" fill="#4080e8"/>
<rect x="233.0" y="296.00" width="2.0" height="12.75" fill="#2f76ef"/>
<rect x="234.0" y="296.00" width="2.0" height="12.75" fill="#377bec"/>
<rect x="235.0" y="296.00" width="2.0" height="12.75" fill="#4080e8"/>
<rect x="236.0" y="296.00" width="3.0" height="12.75" fill="#4e5bf8"/>
<rect x="238.0" y="296.00" width="2.0" height="12.75" fill="#3c7dea"/>
<rect x="239.0" y="296.00" width="2.0" height="12.75" fill="#4282e6"/>
<rect x="240.0" y="296.00" width="2.0" height="12.75" fill="#4584e5"/>
<rect x="241.0" y="296.00" width="2.0" height="12.75" fill="#4282e6"/>
<rect x="242.0" y="296.00" width="2.0" height="12.75" fill="#3378ed"/>
<rect x="243.0" y="296.00" width="3.0" height="12.75" fill="#2f76ef"/>
<rect x="245.0" y="296.00" width="2.0" height="12.75" fill="#377bec"/>
<rect x="246.0" y="296.00" width="2.0" height="12.75" fill="#4282e6"/>
<rect x="247.0" y="296.00" width="3.0" height="12.75" fill="#377bec"/>
<rect x="249.0" y="296.00" width="4.0" height="12.75" fill="#4e5bf8"/>
<rect x="252.0" y="296.00" width="7.6" height="12.75" fill="#6555f8"/>
<rect x="42.0" y="307.75" width="7.0" height="12.75" fill="#4e8cde"/>
<rect x="48.0" y="307.75" width="2.0" height="12.75" fill="#5996d6"/>
<rect x="49.0" y="307.75" width="3.0" height="12.75" fill="#5a99d3"/>
<rect x="51.0" y="307.75" width="2.0" height="12.75" fill="#5692da"/>
<rect x="52.0" y="307.75" width="2.0" height="12.75" fill="#4e8cde"/>
<rect x="53.0" y="307.75" width="2.0" height="12.75" fill="#5996d6"/>
<rect x="54.0" y="307.75" width="2.0" height="12.75" fill="#5692da"/>
<rect x="55.0" y="307.75" width="2.0" height="12.75" fill="#5996d6"/>
<rect x="56.0" y="307.75" width="2.0" height="12.75" fill="#5894d8"/>
<rect x="57.0" y="307.75" width="2.0" height="12.75" fill="#5692da"/>
<rect x="58.0" y="307.75" width="4.0" height="12.75" fill="#4e8cde"/>
<rect x="61.0" y="307.75" width="2.0" height="12.75" fill="#5390db"/>
<rect x="62.0" y="307.75" width="2.0" height="12.75" fill="#518edd"/>
<rect x="63.0" y="307.75" width="2.0" height="12.75" fill="#5a99d3"/>
<rect x="64.0" y="307.75" width="2.0" height="12.75" fill="#4c8ae0"/>
<rect x="65.0" y="307.75" width="2.0" height="12.75" fill="#5996d6"/>
<rect x="66.0" y="307.75" width="3.0" height="12.75" fill="#4e8cde"/>
<rect x="68.0" y="307.75" width="2.0" height="12.75" fill="#5a99d3"/>
<rect x="69.0" y="307.75" width="2.0" height="12.75" fill="#518edd"/>
<rect x="70.0" y="307.75" width="3.0" height="12.75" fill="#5692da"/>
<rect x="72.0" y="307.75" width="3.0" height="12.75" fill="#5390db"/>
<rect x="74.0" y="307.75" width="2.0" height="12.75" fill="#4e8cde"/>
<rect x="75.0" y="307.75" width="2.0" height="12.75" fill="#5894d8"/>
<rect x="76.0" y="307.75" width="2.0" height="12.75" fill="#5390db"/>
<rect x="77.0" y="307.75" width="2.0" height="12.75" fill="#5894d8"/>
<rect x="78.0" y="307.75" width="2.0" height="12.75" fill="#5996d6"/>
<rect x="79.0" y="307.75" width="2.0" height="12.75" fill="#4e8cde"/>
<rect x="80.0" y="307.75" width="3.0" height="12.75" fill="#5390db"/>
<rect x="82.0" y="307.75" width="2.0" height="12.75" fill="#5a99d3"/>
<rect x="83.0" y="307.75" width="2.0" height="12.75" fill="#5894d8"/>
<rect x="84.0" y="307.75" width="2.0" height="12.75" fill="#4e8cde"/>
<rect x="85.0" y="307.75" width="2.0" height="12.75" fill="#5390db"/>
<rect x="86.0" y="307.75" width="2.0" height="12.75" fill="#4c8ae0"/>
<rect x="87.0" y="307.75" width="2.0" height="12.75" fill="#5692da"/>
<rect x="88.0" y="307.75" width="3.0" height="12.75" fill="#4e8cde"/>
<rect x="90.0" y="307.75" width="3.0" height="12.75" fill="#5692da"/>
<rect x="92.0" y="307.75" width="2.0" height="12.75" fill="#518edd"/>
<rect x="93.0" y="307.75" width="2.0" height="12.75" fill="#5692da"/>
<rect x="94.0" y="307.75" width="2.0" height="12.75" fill="#518edd"/>
<rect x="95.0" y="307.75" width="2.0" height="12.75" fill="#5894d8"/>
<rect x="96.0" y="307.75" width="2.0" height="12.75" fill="#4c8ae0"/>
<rect x="97.0" y="307.75" width="2.0" height="12.75" fill="#5996d6"/>
<rect x="98.0" y="307.75" width="2.0" height="12.75" fill="#5390db"/>
<rect x="99.0" y="307.75" width="2.0" height="12.75" fill="#4e8cde"/>
<rect x="100.0" y="307.75" width="2.0" height="12.75" fill="#518edd"/>
<rect x="101.0" y="307.75" width="2.0" height="12.75" fill="#5894d8"/>
<rect x="102.0" y="307.75" width="2.0" height="12.75" fill="#4e8cde"/>
<rect x="103.0" y="307.75" width="2.0" height="12.75" fill="#5a99d3"/>
<rect x="104.0" y="307.75" width="2.0" height="12.75" fill="#518edd"/>
<rect x="105.0" y="307.75" width="2.0" height="12.75" fill="#5390db"/>
<rect x="106.0" y="307.75" width="2.0" height="12.75" fill="#4e8cde"/>
<rect x="107.0" y="307.75" width="2.0" height="12.75" fill="#5390db"/>
<rect x="108.0" y="307.75" width="2.0" height="12.75" fill="#5a99d3"/>
<rect x="109.0" y="307.75" width="3.0" height="12.75" fill="#4e8cde"/>
<rect x="111.0" y="307.75" width="2.0" height="12.75" fill="#5692da"/>
<rect x="112.0" y="307.75" width="2.0" height="12.75" fill="#5894d8"/>
<rect x="113.0" y="307.75" width="2.0" height="12.75" fill="#4e8cde"/>
<rect x="114.0" y="307.75" width="2.0" height="12.75" fill="#518edd"/>
<rect x="115.0" y="307.75" width="2.0" height="12.75" fill="#5894d8"/>
<rect x="116.0" y="307.75" width="6.0" height="12.75" fill="#5db1ba"/>
<rect x="121.0" y="307.75" width="2.0" height="12.75" fill="#5996d6"/>
<rect x="122.0" y="307.75" width="3.0" height="12.75" fill="#518edd"/>
<rect x="124.0" y="307.75" width="4.0" height="12.75" fill="#5894d8"/>
<rect x="127.0" y="307.75" width="2.0" height="12.75" fill="#5692da"/>
<rect x="128.0" y="307.75" width="3.0" height="12.75" fill="#518edd"/>
<rect x="130.0" y="307.75" width="2.0" height="12.75" fill="#4e8cde"/>
<rect x="131.0" y="307.75" width="2.0" height="12.75" fill="#4c8ae0"/>
<rect x="132.0" y="307.75" width="2.0" height="12.75" fill="#5692da"/>
<rect x="133.0" y="307.75" width="2.0" height="12.75" fill="#4e8cde"/>
<rect x="134.0" y="307.75" width="3.0" height="12.75" fill="#5a99d3"/>
<rect x="136.0" y="307.75" width="2.0" height="12.75" fill="#4e8cde"/>
<rect x="137.0" y="307.75" width="2.0" height="12.75" fill="#5a99d3"/>
<rect x="138.0" y="307.75" width="2.0" height="12.75" fill="#5894d8"/>
<rect x="139.0" y="307.75" width="2.0" height="12.75" fill="#4c8ae0"/>
<rect x="140.0" y="307.75" width="3.0" height="12.75" fill="#5390db"/>
<rect x="142.0" y="307.75" width="2.0" height="12.75" fill="#518edd"/>
<rect x="143.0" y="307.75" width="2.0" height="12.75" fill="#4e8cde"/>
<rect x="144.0" y="307.75" width="2.0" height="12.75" fill="#518edd"/>
<rect x="145.0" y="307.75" width="2.0" height="12.75" fill="#4c8ae0"/>
<rect x="146.0" y="307.75" width="2.0" height="12.75" fill="#5390db"/>
<rect x="147.0" y="307.75" width="2.0" height="12.75" fill="#5692da"/>
<rect x="148.0" y="307.75" width="2.0" height="12.75" fill="#518edd"/>
<rect x="149.0" y="307.75" width="3.0" height="12.75" fill="#5a99d3"/>
<rect x="151.0" y="307.75" width="2.0" height="12.75" fill="#5692da"/>
<rect x="152.0" y="307.75" width="2.0" height="12.75" fill="#5996d6"/>
<rect x="153.0" y="307.75" width="2.0" height="12.75" fill="#5390db"/>
<rect x="154.0" y="307.75" width="3.0" height="12.75" fill="#5996d6"/>
<rect x="156.0" y="307.75" width="2.0" height="12.75" fill="#5390db"/>
<rect x="157.0" y="307.75" width="2.0" height="12.75" fill="#5996d6"/>
<rect x="158.0" y="307.75" width="2.0" height="12.75" fill="#5390db"/>
<rect x="159.0" y="307.75" width="2.0" height="12.75" fill="#4e8cde"/>
<rect x="160.0" y="307.75" width="2.0" height="12.75" fill="#5390db"/>
<rect x="161.0" y="307.75" width="2.0" height="12.75" fill="#4e8cde"/>
<rect x="162.0" y="307.75" width="2.0" height="12.75" fill="#5894d8"/>
<rect x="163.0" y="307.75" width="2.0" height="12.75" fill="#518edd"/>
<rect x="164.0" y="307.75" width="2.0" height="12.75" fill="#5692da"/>
<rect x="165.0" y="307.75" width="2.0" height="12.75" fill="#5996d6"/>
<rect x="166.0" y="307.75" width="2.0" height="12.75" fill="#5692da"/>
<rect x="167.0" y="307.75" width="2.0" height="12.75" fill="#5a99d3"/>
<rect x="168.0" y="307.75" width="3.0" height="12.75" fill="#5894d8"/>
<rect x="170.0" y="307.75" width="2.0" height="12.75" fill="#5996d6"/>
<rect x="171.0" y="307.75" width="2.0" height="12.75" fill="#5894d8"/>
<rect x="172.0" y="307.75" width="2.0" height="12.75" fill="#5a99d3"/>
<rect x="173.0" y="307.75" width="2.0" height="12.75" fill="#5692da"/>
<rect x="174.0" y="307.75" width="2.0" height="12.75" fill="#5894d8"/>
<rect x="175.0" y="307.75" width="3.0" height="12.75" fill="#5692da"/>
<rect x="177.0" y="307.75" width="2.0" height="12.75" fill="#5a99d3"/>
<rect x="178.0" y="307.75" width="2.0" height="12.75" fill="#518edd"/>
<rect x="179.0" y="307.75" width="2.0" height="12.75" fill="#4e8cde"/>
<rect x="180.0" y="307.75" width="2.0" height="12.75" fill="#5692da"/>
<rect x="181.0" y="307.75" width="2.0" height="12.75" fill="#518edd"/>
<rect x="182.0" y="307.75" width="3.0" height="12.75" fill="#5894d8"/>
<rect x="184.0" y="307.75" width="2.0" height="12.75" fill="#4c8ae0"/>
<rect x="185.0" y="307.75" width="2.0" height="12.75" fill="#518edd"/>
<rect x="186.0" y="307.75" width="2.0" height="12.75" fill="#5894d8"/>
<rect x="187.0" y="307.75" width="2.0" height="12.75" fill="#5390db"/>
<rect x="188.0" y="307.75" width="2.0" height="12.75" fill="#5894d8"/>
<rect x="189.0" y="307.75" width="2.0" height="12.75" fill="#5692da"/>
<rect x="190.0" y="307.75" width="2.0" height="12.75" fill="#4e8cde"/>
<rect x="191.0" y="307.75" width="2.0" height="12.75" fill="#5894d8"/>
<rect x="192.0" y="307.75" width="2.0" height="12.75" fill="#5a99d3"/>
<rect x="193.0" y="307.75" width="2.0" height="12.75" fill="#4e8cde"/>
<rect x="194.0" y="307.75" width="2.0" height="12.75" fill="#5894d8"/>
<rect x="195.0" y="307.75" width="12.0" height="12.75" fill="#4584e5"/>
<rect x="206.0" y="307.75" width="2.0" height="12.75" fill="#4e8cde"/>
<rect x="207.0" y="307.75" width="3.0" height="12.75" fill="#518edd"/>
<rect x="209.0" y="307.75" width="2.0" height="12.75" fill="#5996d6"/>
<rect x="210.0" y="307.75" width="2.0" height="12.75" fill="#5a99d3"/>
<rect x="211.0" y="307.75" width="2.0" height="12.75" fill="#518edd"/>
<rect x="212.0" y="307.75" width="2.0" height="12.75" fill="#5692da"/>
<rect x="213.0" y="307.75" width="2.0" height="12.75" fill="#5a99d3"/>
<rect x="214.0" y="307.75" width="2.0" height="12.75" fill="#5894d8"/>
<rect x="215.0" y="307.75" width="2.0" height="12.75" fill="#5692da"/>
<rect x="216.0" y="307.75" width="3.0" height="12.75" fill="#5a99d3"/>
<rect x="218.0" y="307.75" width="2.0" height="12.75" fill="#4e8cde"/>
<rect x="219.0" y="307.75" width="2.0" height="12.75" fill="#5a99d3"/>
<rect x="220.0" y="307.75" width="2.0" height="12.75" fill="#518edd"/>
<rect x="221.0" y="307.75" width="2.0" height="12.75" fill="#5894d8"/>
<rect x="222.0" y="307.75" width="2.0" height="12.75" fill="#5996d6"/>
<rect x="223.0" y="307.75" width="3.0" height="12.75" fill="#518edd"/>
<rect x="225.0" y="307.75" width="2.0" height="12.75" fill="#5a99d3"/>
<rect x="226.0" y="307.75" width="2.0" height="12.75" fill="#5996d6"/>
<rect x="227.0" y="307.75" width="2.0" height="12.75" fill="#5a99d3"/>
<rect x="228.0" y="307.75" width="2.0" height="12.75" fill="#4e8cde"/>
<rect x="229.0" y="307.75" width="2.0" height="12.75" fill="#5894d8"/>
<rect x="230.0" y="307.75" width="2.0" height="12.75" fill="#5996d6"/>
<rect x="231.0" y="307.75" width="2.0" height="12.75" fill="#5a99d3"/>
<rect x="232.0" y="307.75" width="2.0" height="12.75" fill="#5894d8"/>
<rect x="233.0" y="307.75" width="2.0" height="12.75" fill="#518edd"/>
<rect x="234.0" y="307.75" width="3.0" height="12.75" fill="#4e8cde"/>
<rect x="236.0" y="307.75" width="2.0" height="12.75" fill="#518edd"/>
<rect x="237.0" y="307.75" width="2.0" height="12.75" fill="#5692da"/>
<rect x="238.0" y="307.75" width="2.0" height="12.75" fill="#518edd"/>
<rect x="239.0" y="307.75" width="3.0" height="12.75" fill="#4e8cde"/>
<rect x="241.0" y="307.75" width="2.0" height="12.75" fill="#5894d8"/>
<rect x="242.0" y="307.75" width="2.0" height="12.75" fill="#5996d6"/>
<rect x="243.0" y="307.75" width="2.0" height="12.75" fill="#4e8cde"/>
<rect x="244.0" y="307.75" width="2.0" height="12.75" fill="#5692da"/>
<rect x="245.0" y="307.75" width="2.0" height="12.75" fill="#5a99d3"/>
<rect x="246.0" y="307.75" width="2.0" height="12.75" fill="#5390db"/>
<rect x="247.0" y="307.75" width="2.0" height="12.75" fill="#5692da"/>
<rect x="248.0" y="307.75" width="2.0" height="12.75" fill="#5996d6"/>
<rect x="249.0" y="307.75" width="2.0" height="12.75" fill="#4c8ae0"/>
<rect x="250.0" y="307.75" width="2.0" height="12.75" fill="#5a99d3"/>
<rect x="251.0" y="307.75" width="2.0" height="12.75" fill="#5996d6"/>
<rect x="252.0" y="307.75" width="7.6" height="12.75" fill="#3a61f8"/>
<rect x="42.0" y="319.50" width="5.0" height="12.75" fill="#56bdac"/>
<rect x="46.0" y="319.50" width="2.0" height="12.75" fill="#4dcb9d"/>
<rect x="47.0" y="319.50" width="2.0" height="12.75" fill="#46d593"/>
<rect x="48.0" y="319.50" width="3.0" height="12.75" fill="#55c0a9"/>
<rect x="50.0" y="319.50" width="2.0" height="12.75" fill="#52c5a4"/>
<rect x="51.0" y="319.50" width="2.0" height="12.75" fill="#4ad098"/>
<rect x="52.0" y="319.50" width="2.0" height="12.75" fill="#50c7a1"/>
<rect x="53.0" y="319.50" width="2.0" height="12.75" fill="#4dcb9d"/>
<rect x="54.0" y="319.50" width="2.0" height="12.75" fill="#56bdac"/>
<rect x="55.0" y="319.50" width="2.0" height="12.75" fill="#55c0a9"/>
<rect x="56.0" y="319.50" width="2.0" height="12.75" fill="#50c7a1"/>
<rect x="57.0" y="319.50" width="2.0" height="12.75" fill="#4dcb9d"/>
<rect x="58.0" y="319.50" width="3.0" height="12.75" fill="#56bdac"/>
<rect x="60.0" y="319.50" width="2.0" height="12.75" fill="#53c2a6"/>
<rect x="61.0" y="319.50" width="2.0" height="12.75" fill="#52c5a4"/>
<rect x="62.0" y="319.50" width="2.0" height="12.75" fill="#53c2a6"/>
<rect x="63.0" y="319.50" width="2.0" height="12.75" fill="#55c0a9"/>
<rect x="64.0" y="319.50" width="2.0" height="12.75" fill="#56bdac"/>
<rect x="65.0" y="319.50" width="2.0" height="12.75" fill="#4dcb9d"/>
<rect x="66.0" y="319.50" width="2.0" height="12.75" fill="#46d593"/>
<rect x="67.0" y="319.50" width="2.0" height="12.75" fill="#4dcb9d"/>
<rect x="68.0" y="319.50" width="2.0" height="12.75" fill="#46d593"/>
<rect x="69.0" y="319.50" width="2.0" height="12.75" fill="#55c0a9"/>
<rect x="70.0" y="319.50" width="2.0" height="12.75" fill="#50c7a1"/>
<rect x="71.0" y="319.50" width="2.0" height="12.75" fill="#53c2a6"/>
<rect x="72.0" y="319.50" width="2.0" height="12.75" fill="#4ad098"/>
<rect x="73.0" y="319.50" width="3.0" height="12.75" fill="#50c7a1"/>
<rect x="75.0" y="319.50" width="3.0" height="12.75" fill="#46d593"/>
<rect x="77.0" y="319.50" width="2.0" height="12.75" fill="#55c0a9"/>
<rect x="78.0" y="319.50" width="2.0" height="12.75" fill="#52c5a4"/>
<rect x="79.0" y="319.50" width="2.0" height="12.75" fill="#56bdac"/>
<rect x="80.0" y="319.50" width="2.0" height="12.75" fill="#50c7a1"/>
<rect x="81.0" y="319.50" width="2.0" height="12.75" fill="#55c0a9"/>
<rect x="82.0" y="319.50" width="2.0" height="12.75" fill="#4dcb9d"/>
<rect x="83.0" y="319.50" width="2.0" height="12.75" fill="#53c2a6"/>
<rect x="84.0" y="319.50" width="2.0" height="12.75" fill="#56bdac"/>
<rect x="85.0" y="319.50" width="2.0" height="12.75" fill="#4ad098"/>
<rect x="86.0" y="319.50" width="2.0" height="12.75" fill="#55c0a9"/>
<rect x="87.0" y="319.50" width="2.0" height="12.75" fill="#53c2a6"/>
<rect x="88.0" y="319.50" width="2.0" height="12.75" fill="#50c7a1"/>
<rect x="89.0" y="319.50" width="2.0" height="12.75" fill="#56bdac"/>
<rect x="90.0" y="319.50" width="2.0" height="12.75" fill="#4ad098"/>
<rect x="91.0" y="319.50" width="2.0" height="12.75" fill="#4dcb9d"/>
<rect x="92.0" y="319.50" width="2.0" height="12.75" fill="#55c0a9"/>
<rect x="93.0" y="319.50" width="2.0" height="12.75" fill="#50c7a1"/>
<rect x="94.0" y="319.50" width="2.0" height="12.75" fill="#55c0a9"/>
<rect x="95.0" y="319.50" width="2.0" height="12.75" fill="#50c7a1"/>
<rect x="96.0" y="319.50" width="2.0" height="12.75" fill="#56bdac"/>
<rect x="97.0" y="319.50" width="2.0" height="12.75" fill="#53c2a6"/>
<rect x="98.0" y="319.50" width="2.0" height="12.75" fill="#52c5a4"/>
<rect x="99.0" y="319.50" width="2.0" height="12.75" fill="#50c7a1"/>
<rect x="100.0" y="319.50" width="2.0" height="12.75" fill="#53c2a6"/>
<rect x="101.0" y="319.50" width="2.0" height="12.75" fill="#50c7a1"/>
<rect x="102.0" y="319.50" width="3.0" height="12.75" fill="#56bdac"/>
<rect x="104.0" y="319.50" width="2.0" height="12.75" fill="#57bbaf"/>
<rect x="105.0" y="319.50" width="2.0" height="12.75" fill="#52c5a4"/>
<rect x="106.0" y="319.50" width="2.0" height="12.75" fill="#56bdac"/>
<rect x="107.0" y="319.50" width="3.0" height="12.75" fill="#57bbaf"/>
<rect x="109.0" y="319.50" width="2.0" height="12.75" fill="#56bdac"/>
<rect x="110.0" y="319.50" width="8.0" height="12.75" fill="#46d593"/>
<rect x="117.0" y="319.50" width="5.0" height="12.75" fill="#2cf076"/>
<rect x="121.0" y="319.50" width="6.0" height="12.75" fill="#46d593"/>
<rect x="126.0" y="319.50" width="4.0" height="12.75" fill="#57bbaf"/>
<rect x="129.0" y="319.50" width="2.0" height="12.75" fill="#50c7a1"/>
<rect x="130.0" y="319.50" width="2.0" height="12.75" fill="#53c2a6"/>
<rect x="131.0" y="319.50" width="2.0" height="12.75" fill="#50c7a1"/>
<rect x="132.0" y="319.50" width="2.0" height="12.75" fill="#59b8b2"/>
<rect x="133.0" y="319.50" width="2.0" height="12.75" fill="#57bbaf"/>
<rect x="134.0" y="319.50" width="2.0" height="12.75" fill="#56bdac"/>
<rect x="135.0" y="319.50" width="2.0" height="12.75" fill="#55c0a9"/>
<rect x="136.0" y="319.50" width="4.0" height="12.75" fill="#50c7a1"/>
<rect x="139.0" y="319.50" width="3.0" height="12.75" fill="#5ab6b5"/>
<rect x="141.0" y="319.50" width="3.0" height="12.75" fill="#56bdac"/>
<rect x="143.0" y="319.50" width="2.0" height="12.75" fill="#5ab6b5"/>
<rect x="144.0" y="319.50" width="2.0" height="12.75" fill="#56bdac"/>
<rect x="145.0" y="319.50" width="2.0" height="12.75" fill="#59b8b2"/>
<rect x="146.0" y="319.50" width="2.0" height="12.75" fill="#50c7a1"/>
<rect x="147.0" y="319.50" width="2.0" height="12.75" fill="#57bbaf"/>
<rect x="148.0" y="319.50" width="2.0" height="12.75" fill="#56bdac"/>
<rect x="149.0" y="319.50" width="2.0" height="12.75" fill="#57bbaf"/>
<rect x="150.0" y="319.50" width="14.0" height="12.75" fill="#30f078"/>
<rect x="163.0" y="319.50" width="2.0" height="12.75" fill="#59b8b2"/>
<rect x="164.0" y="319.50" width="3.0" height="12.75" fill="#55c0a9"/>
<rect x="166.0" y="319.50" width="2.0" height="12.75" fill="#4dcb9d"/>
<rect x="167.0" y="319.50" width="2.0" height="12.75" fill="#57bbaf"/>
<rect x="168.0" y="319.50" width="2.0" height="12.75" fill="#5faebd"/>
<rect x="169.0" y="319.50" width="2.0" height="12.75" fill="#57bbaf"/>
<rect x="170.0" y="319.50" width="2.0" height="12.75" fill="#52c5a4"/>
<rect x="171.0" y="319.50" width="3.0" height="12.75" fill="#5faebd"/>
<rect x="173.0" y="319.50" width="2.0" height="12.75" fill="#52c5a4"/>
<rect x="174.0" y="319.50" width="2.0" height="12.75" fill="#55c0a9"/>
<rect x="175.0" y="319.50" width="2.0" height="12.75" fill="#50c7a1"/>
<rect x="176.0" y="319.50" width="2.0" height="12.75" fill="#56bdac"/>
<rect x="177.0" y="319.50" width="2.0" height="12.75" fill="#57bbaf"/>
<rect x="178.0" y="319.50" width="3.0" height="12.75" fill="#5faebd"/>
<rect x="180.0" y="319.50" width="2.0" height="12.75" fill="#4dcb9d"/>
<rect x="181.0" y="319.50" width="2.0" height="12.75" fill="#5faebd"/>
<rect x="182.0" y="319.50" width="2.0" height="12.75" fill="#57bbaf"/>
<rect x="183.0" y="319.50" width="2.0" height="12.75" fill="#5faebd"/>
<rect x="184.0" y="319.50" width="2.0" height="12.75" fill="#56bdac"/>
<rect x="185.0" y="319.50" width="2.0" height="12.75" fill="#59b8b2"/>
<rect x="186.0" y="319.50" width="2.0" height="12.75" fill="#55c0a9"/>
<rect x="187.0" y="319.50" width="2.0" height="12.75" fill="#56bdac"/>
<rect x="188.0" y="319.50" width="2.0" height="12.75" fill="#57bbaf"/>
<rect x="189.0" y="319.50" width="2.0" height="12.75" fill="#59b8b2"/>
<rect x="190.0" y="319.50" width="2.0" height="12.75" fill="#5faebd"/>
<rect x="191.0" y="319.50" width="2.0" height="12.75" fill="#52c5a4"/>
<rect x="192.0" y="319.50" width="2.0" height="12.75" fill="#59b8b2"/>
<rect x="193.0" y="319.50" width="2.0" height="12.75" fill="#50c7a1"/>
<rect x="194.0" y="319.50" width="2.0" height="12.75" fill="#52c5a4"/>
<rect x="195.0" y="319.50" width="2.0" height="12.75" fill="#53c2a6"/>
<rect x="196.0" y="319.50" width="2.0" height="12.75" fill="#56bdac"/>
<rect x="197.0" y="319.50" width="2.0" height="12.75" fill="#52c5a4"/>
<rect x="198.0" y="319.50" width="2.0" height="12.75" fill="#59b8b2"/>
<rect x="199.0" y="319.50" width="2.0" height="12.75" fill="#5faebd"/>
<rect x="200.0" y="319.50" width="2.0" height="12.75" fill="#5ab6b5"/>
<rect x="201.0" y="319.50" width="2.0" height="12.75" fill="#52c5a4"/>
<rect x="202.0" y="319.50" width="2.0" height="12.75" fill="#56bdac"/>
<rect x="203.0" y="319.50" width="2.0" height="12.75" fill="#5faebd"/>
<rect x="204.0" y="319.50" width="2.0" height="12.75" fill="#52c5a4"/>
<rect x="205.0" y="319.50" width="2.0" height="12.75" fill="#55c0a9"/>
<rect x="206.0" y="319.50" width="2.0" height="12.75" fill="#53c2a6"/>
<rect x="207.0" y="319.50" width="3.0" height="12.75" fill="#57bbaf"/>
<rect x="209.0" y="319.50" width="2.0" height="12.75" fill="#52c5a4"/>
<rect x="210.0" y="319.50" width="2.0" height="12.75" fill="#50c7a1"/>
<rect x="211.0" y="319.50" width="2.0" height="12.75" fill="#4dcb9d"/>
<rect x="212.0" y="319.50" width="2.0" height="12.75" fill="#5faebd"/>
<rect x="213.0" y="319.50" width="2.0" height="12.75" fill="#56bdac"/>
<rect x="214.0" y="319.50" width="2.0" height="12.75" fill="#59b8b2"/>
<rect x="215.0" y="319.50" width="2.0" height="12.75" fill="#5faebd"/>
<rect x="216.0" y="319.50" width="2.0" height="12.75" fill="#59b8b2"/>
<rect x="217.0" y="319.50" width="2.0" height="12.75" fill="#56bdac"/>
<rect x="218.0" y="319.50" width="2.0" height="12.75" fill="#53c2a6"/>
<rect x="219.0" y="319.50" width="2.0" height="12.75" fill="#5faebd"/>
<rect x="220.0" y="319.50" width="2.0" height="12.75" fill="#53c2a6"/>
<rect x="221.0" y="319.50" width="2.0" height="12.75" fill="#55c0a9"/>
<rect x="222.0" y="319.50" width="2.0" height="12.75" fill="#56bdac"/>
<rect x="223.0" y="319.50" width="2.0" height="12.75" fill="#5faebd"/>
<rect x="224.0" y="319.50" width="2.0" height="12.75" fill="#52c5a4"/>
<rect x="225.0" y="319.50" width="2.0" height="12.75" fill="#56bdac"/>
<rect x="226.0" y="319.50" width="2.0" height="12.75" fill="#57bbaf"/>
<rect x="227.0" y="319.50" width="2.0" height="12.75" fill="#59b8b2"/>
<rect x="228.0" y="319.50" width="3.0" height="12.75" fill="#52c5a4"/>
<rect x="230.0" y="319.50" width="2.0" height="12.75" fill="#5faebd"/>
<rect x="231.0" y="319.50" width="2.0" height="12.75" fill="#56bdac"/>
<rect x="232.0" y="319.50" width="2.0" height="12.75" fill="#53c2a6"/>
<rect x="233.0" y="319.50" width="2.0" height="12.75" fill="#59b8b2"/>
<rect x="234.0" y="319.50" width="2.0" height="12.75" fill="#5faebd"/>
<rect x="235.0" y="319.50" width="2.0" height="12.75" fill="#57bbaf"/>
<rect x="236.0" y="319.50" width="2.0" height="12.75" fill="#5faebd"/>
<rect x="237.0" y="319.50" width="2.0" height="12.75" fill="#59b8b2"/>
<rect x="238.0" y="319.50" width="2.0" height="12.75" fill="#50c7a1"/>
<rect x="239.0" y="319.50" width="2.0" height="12.75" fill="#53c2a6"/>
<rect x="240.0" y="319.50" width="2.0" height="12.75" fill="#5faebd"/>
<rect x="241.0" y="319.50" width="2.0" height="12.75" fill="#56bdac"/>
<rect x="242.0" y="319.50" width="2.0" height="12.75" fill="#50c7a1"/>
<rect x="243.0" y="319.50" width="2.0" height="12.75" fill="#53c2a6"/>
<rect x="244.0" y="319.50" width="2.0" height="12.75" fill="#59b8b2"/>
<rect x="245.0" y="319.50" width="2.0" height="12.75" fill="#57bbaf"/>
<rect x="246.0" y="319.50" width="2.0" height="12.75" fill="#53c2a6"/>
<rect x="247.0" y="319.50" width="3.0" height="12.75" fill="#5faebd"/>
<rect x="249.0" y="319.50" width="2.0" height="12.75" fill="#56bdac"/>
<rect x="250.0" y="319.50" width="2.0" height="12.75" fill="#55c0a9"/>
<rect x="251.0" y="319.50" width="2.0" height="12.75" fill="#52c5a4"/>
<rect x="252.0" y="319.50" width="2.0" height="12.75" fill="#57bbaf"/>
<rect x="253.0" y="319.50" width="6.6" height="12.75" fill="#1d6cf7"/>
<rect x="42.0" y="331.25" width="6.0" height="12.75" fill="#26f06e"/>
<rect x="47.0" y="331.25" width="2.0" height="12.75" fill="#30f078"/>
<rect x="48.0" y="331.25" width="2.0" height="12.75" fill="#23f072"/>
<rect x="49.0" y="331.25" width="2.0" height="12.75" fill="#36f06b"/>
<rect x="50.0" y="331.25" width="2.0" height="12.75" fill="#23f072"/>
<rect x="51.0" y="331.25" width="2.0" height="12.75" fill="#27f074"/>
<rect x="52.0" y="331.25" width="2.0" height="12.75" fill="#36f06b"/>
<rect x="53.0" y="331.25" width="3.0" height="12.75" fill="#26f06e"/>
<rect x="55.0" y="331.25" width="2.0" height="12.75" fill="#21f070"/>
<rect x="56.0" y="331.25" width="2.0" height="12.75" fill="#26f06e"/>
<rect x="57.0" y="331.25" width="2.0" height="12.75" fill="#23f072"/>
<rect x="58.0" y="331.25" width="3.0" height="12.75" fill="#27f074"/>
<rect x="60.0" y="331.25" width="2.0" height="12.75" fill="#2cf076"/>
<rect x="61.0" y="331.25" width="2.0" height="12.75" fill="#26f06e"/>
<rect x="62.0" y="331.25" width="2.0" height="12.75" fill="#30f078"/>
<rect x="63.0" y="331.25" width="4.0" height="12.75" fill="#27f074"/>
<rect x="66.0" y="331.25" width="2.0" height="12.75" fill="#2cf06d"/>
<rect x="67.0" y="331.25" width="2.0" height="12.75" fill="#26f06e"/>
<rect x="68.0" y="331.25" width="2.0" height="12.75" fill="#2cf06d"/>
<rect x="69.0" y="331.25" width="2.0" height="12.75" fill="#2cf076"/>
<rect x="70.0" y="331.25" width="2.0" height="12.75" fill="#21f070"/>
<rect x="71.0" y="331.25" width="2.0" height="12.75" fill="#30f078"/>
<rect x="72.0" y="331.25" width="2.0" height="12.75" fill="#21f070"/>
<rect x="73.0" y="331.25" width="4.0" height="12.75" fill="#30f078"/>
<rect x="76.0" y="331.25" width="2.0" height="12.75" fill="#27f074"/>
<rect x="77.0" y="331.25" width="2.0" height="12.75" fill="#21f070"/>
<rect x="78.0" y="331.25" width="2.0" height="12.75" fill="#2cf076"/>
<rect x="79.0" y="331.25" width="2.0" height="12.75" fill="#30f078"/>
<rect x="80.0" y="331.25" width="5.0" height="12.75" fill="#27f074"/>
<rect x="84.0" y="331.25" width="3.0" height="12.75" fill="#2cf076"/>
<rect x="86.0" y="331.25" width="2.0" height="12.75" fill="#31f06c"/>
<rect x="87.0" y="331.25" width="2.0" height="12.75" fill="#30f078"/>
<rect x="88.0" y="331.25" width="2.0" height="12.75" fill="#2cf076"/>
<rect x="89.0" y="331.25" width="2.0" height="12.75" fill="#26f06e"/>
<rect x="90.0" y="331.25" width="2.0" height="12.75" fill="#36f06b"/>
<rect x="91.0" y="331.25" width="3.0" height="12.75" fill="#31f06c"/>
<rect x="93.0" y="331.25" width="2.0" height="12.75" fill="#27f074"/>
<rect x="94.0" y="331.25" width="2.0" height="12.75" fill="#2cf06d"/>
<rect x="95.0" y="331.25" width="2.0" height="12.75" fill="#36f06b"/>
<rect x="96.0" y="331.25" width="2.0" height="12.75" fill="#31f06c"/>
<rect x="97.0" y="331.25" width="2.0" height="12.75" fill="#36f06b"/>
<rect x="98.0" y="331.25" width="4.0" height="12.75" fill="#2cf06d"/>
<rect x="101.0" y="331.25" width="2.0" height="12.75" fill="#23f072"/>
<rect x="102.0" y="331.25" width="2.0" height="12.75" fill="#21f070"/>
<rect x="103.0" y="331.25" width="2.0" height="12.75" fill="#36f06b"/>
<rect x="104.0" y="331.25" width="2.0" height="12.75" fill="#21f070"/>
<rect x="105.0" y="331.25" width="2.0" height="12.75" fill="#30f078"/>
<rect x="106.0" y="331.25" width="2.0" height="12.75" fill="#23f072"/>
<rect x="107.0" y="331.25" width="2.0" height="12.75" fill="#31f06c"/>
<rect x="108.0" y="331.25" width="2.0" height="12.75" fill="#2cf06d"/>
<rect x="109.0" y="331.25" width="2.0" height="12.75" fill="#21f070"/>
<rect x="110.0" y="331.25" width="2.0" height="12.75" fill="#36f06b"/>
<rect x="111.0" y="331.25" width="2.0" height="12.75" fill="#2cf06d"/>
<rect x="112.0" y="331.25" width="2.0" height="12.75" fill="#2cf076"/>
<rect x="113.0" y="331.25" width="2.0" height="12.75" fill="#2cf06d"/>
<rect x="114.0" y="331.25" width="2.0" height="12.75" fill="#31f06c"/>
<rect x="115.0" y="331.25" width="2.0" height="12.75" fill="#34eb7d"/>
<rect x="116.0" y="331.25" width="2.0" height="12.75" fill="#36f06b"/>
<rect x="117.0" y="331.25" width="2.0" height="12.75" fill="#23f072"/>
<rect x="118.0" y="331.25" width="2.0" height="12.75" fill="#31f06c"/>
<rect x="119.0" y="331.25" width="2.0" height="12.75" fill="#34eb7d"/>
<rect x="120.0" y="331.25" width="3.0" height="12.75" fill="#27f074"/>
<rect x="122.0" y="331.25" width="2.0" height="12.75" fill="#2cf076"/>
<rect x="123.0" y="331.25" width="2.0" height="12.75" fill="#26f06e"/>
<rect x="124.0" y="331.25" width="2.0" height="12.75" fill="#2cf06d"/>
<rect x="125.0" y="331.25" width="7.0" height="12.75" fill="#67f05c"/>
<rect x="131.0" y="331.25" width="2.0" height="12.75" fill="#2cf06d"/>
<rect x="132.0" y="331.25" width="2.0" height="12.75" fill="#36f06b"/>
<rect x="133.0" y="331.25" width="2.0" height="12.75" fill="#31f06c"/>
<rect x="134.0" y="331.25" width="2.0" height="12.75" fill="#21f070"/>
<rect x="135.0" y="331.25" width="2.0" height="12.75" fill="#2cf06d"/>
<rect x="136.0" y="331.25" width="2.0" height="12.75" fill="#31f06c"/>
<rect x="137.0" y="331.25" width="2.0" height="12.75" fill="#21f070"/>
<rect x="138.0" y="331.25" width="2.0" height="12.75" fill="#26f06e"/>
<rect x="139.0" y="331.25" width="3.0" height="12.75" fill="#31f06c"/>
<rect x="141.0" y="331.25" width="2.0" height="12.75" fill="#2cf076"/>
<rect x="142.0" y="331.25" width="2.0" height="12.75" fill="#30f078"/>
<rect x="143.0" y="331.25" width="2.0" height="12.75" fill="#2cf06d"/>
<rect x="144.0" y="331.25" width="2.0" height="12.75" fill="#31f06c"/>
<rect x="145.0" y="331.25" width="2.0" height="12.75" fill="#2cf076"/>
<rect x="146.0" y="331.25" width="2.0" height="12.75" fill="#31f06c"/>
<rect x="147.0" y="331.25" width="2.0" height="12.75" fill="#2cf06d"/>
<rect x="148.0" y="331.25" width="3.0" height="12.75" fill="#2cf076"/>
<rect x="150.0" y="331.25" width="3.0" height="12.75" fill="#26f06e"/>
<rect x="152.0" y="331.25" width="2.0" height="12.75" fill="#2cf076"/>
<rect x="153.0" y="331.25" width="2.0" height="12.75" fill="#31f06c"/>
<rect x="154.0" y="331.25" width="2.0" height="12.75" fill="#2cf076"/>
<rect x="155.0" y="331.25" width="2.0" height="12.75" fill="#31f06c"/>
<rect x="156.0" y="331.25" width="2.0" height="12.75" fill="#36f06b"/>
<rect x="157.0" y="331.25" width="2.0" height="12.75" fill="#7af04f"/>
<rect x="158.0" y="331.25" width="2.0" height="12.75" fill="#7ef04c"/>
<rect x="159.0" y="331.25" width="2.0" height="12.75" fill="#72f054"/>
<rect x="160.0" y="331.25" width="4.0" height="12.75" fill="#7ef04c"/>
<rect x="163.0" y="331.25" width="2.0" height="12.75" fill="#7af04f"/>
<rect x="164.0" y="331.25" width="2.0" height="12.75" fill="#6ef056"/>
<rect x="165.0" y="331.25" width="2.0" height="12.75" fill="#72f054"/>
<rect x="166.0" y="331.25" width="3.0" height="12.75" fill="#7ef04c"/>
<rect x="168.0" y="331.25" width="2.0" height="12.75" fill="#6bf059"/>
<rect x="169.0" y="331.25" width="2.0" height="12.75" fill="#7ef04c"/>
<rect x="170.0" y="331.25" width="2.0" height="12.75" fill="#67f05c"/>
<rect x="171.0" y="331.25" width="2.0" height="12.75" fill="#6ef056"/>
<rect x="172.0" y="331.25" width="2.0" height="12.75" fill="#7ef04c"/>
<rect x="173.0" y="331.25" width="3.0" height="12.75" fill="#7af04f"/>
<rect x="175.0" y="331.25" width="2.0" height="12.75" fill="#67f05c"/>
<rect x="176.0" y="331.25" width="2.0" height="12.75" fill="#72f054"/>
<rect x="177.0" y="331.25" width="2.0" height="12.75" fill="#76f051"/>
<rect x="178.0" y="331.25" width="2.0" height="12.75" fill="#72f054"/>
<rect x="179.0" y="331.25" width="2.0" height="12.75" fill="#7ef04c"/>
<rect x="180.0" y="331.25" width="2.0" height="12.75" fill="#6bf059"/>
<rect x="181.0" y="331.25" width="3.0" height="12.75" fill="#6ef056"/>
<rect x="183.0" y="331.25" width="2.0" height="12.75" fill="#82f04a"/>
<rect x="184.0" y="331.25" width="2.0" height="12.75" fill="#6ef056"/>
<rect x="185.0" y="331.25" width="3.0" height="12.75" fill="#72f054"/>
<rect x="187.0" y="331.25" width="2.0" height="12.75" fill="#7af04f"/>
<rect x="188.0" y="331.25" width="2.0" height="12.75" fill="#6bf059"/>
<rect x="189.0" y="331.25" width="2.0" height="12.75" fill="#72f054"/>
<rect x="190.0" y="331.25" width="2.0" height="12.75" fill="#7af04f"/>
<rect x="191.0" y="331.25" width="2.0" height="12.75" fill="#6ef056"/>
<rect x="192.0" y="331.25" width="2.0" height="12.75" fill="#82f04a"/>
<rect x="193.0" y="331.25" width="2.0" height="12.75" fill="#72f054"/>
<rect x="194.0" y="331.25" width="2.0" height="12.75" fill="#7af04f"/>
<rect x="195.0" y="331.25" width="2.0" height="12.75" fill="#45f067"/>
<rect x="196.0" y="331.25" width="2.0" height="12.75" fill="#40f068"/>
<rect x="197.0" y="331.25" width="4.0" height="12.75" fill="#45f067"/>
<rect x="200.0" y="331.25" width="2.0" height="12.75" fill="#3bf069"/>
<rect x="201.0" y="331.25" width="3.0" height="12.75" fill="#45f067"/>
<rect x="203.0" y="331.25" width="2.0" height="12.75" fill="#4ff064"/>
<rect x="204.0" y="331.25" width="2.0" height="12.75" fill="#36f06b"/>
<rect x="205.0" y="331.25" width="2.0" height="12.75" fill="#3bf069"/>
<rect x="206.0" y="331.25" width="2.0" height="12.75" fill="#45f067"/>
<rect x="207.0" y="331.25" width="2.0" height="12.75" fill="#5af062"/>
<rect x="208.0" y="331.25" width="2.0" height="12.75" fill="#4af065"/>
<rect x="209.0" y="331.25" width="2.0" height="12.75" fill="#36f06b"/>
<rect x="210.0" y="331.25" width="2.0" height="12.75" fill="#3bf069"/>
<rect x="211.0" y="331.25" width="2.0" height="12.75" fill="#4af065"/>
<rect x="212.0" y="331.25" width="2.0" height="12.75" fill="#54f063"/>
<rect x="213.0" y="331.25" width="2.0" height="12.75" fill="#5af062"/>
<rect x="214.0" y="331.25" width="2.0" height="12.75" fill="#45f067"/>
<rect x="215.0" y="331.25" width="3.0" height="12.75" fill="#4af065"/>
<rect x="217.0" y="331.25" width="2.0" height="12.75" fill="#45f067"/>
<rect x="218.0" y="331.25" width="2.0" height="12.75" fill="#4ff064"/>
<rect x="219.0" y="331.25" width="2.0" height="12.75" fill="#40f068"/>
<rect x="220.0" y="331.25" width="2.0" height="12.75" fill="#3bf069"/>
<rect x="221.0" y="331.25" width="2.0" height="12.75" fill="#4af065"/>
<rect x="222.0" y="331.25" width="2.0" height="12.75" fill="#54f063"/>
<rect x="223.0" y="331.25" width="2.0" height="12.75" fill="#4af065"/>
<rect x="224.0" y="331.25" width="2.0" height="12.75" fill="#6ef056"/>
<rect x="225.0" y="331.25" width="2.0" height="12.75" fill="#72f054"/>
<rect x="226.0" y="331.25" width="2.0" height="12.75" fill="#76f051"/>
<rect x="227.0" y="331.25" width="2.0" height="12.75" fill="#7af04f"/>
<rect x="228.0" y="331.25" width="2.0" height="12.75" fill="#76f051"/>
<rect x="229.0" y="331.25" width="2.0" height="12.75" fill="#7ef04c"/>
<rect x="230.0" y="331.25" width="2.0" height="12.75" fill="#6bf059"/>
<rect x="231.0" y="331.25" width="4.0" height="12.75" fill="#7af04f"/>
<rect x="234.0" y="331.25" width="2.0" height="12.75" fill="#76f051"/>
<rect x="235.0" y="331.25" width="2.0" height="12.75" fill="#7ef04c"/>
<rect x="236.0" y="331.25" width="2.0" height="12.75" fill="#6ef056"/>
<rect x="237.0" y="331.25" width="2.0" height="12.75" fill="#7af04f"/>
<rect x="238.0" y="331.25" width="2.0" height="12.75" fill="#72f054"/>
<rect x="239.0" y="331.25" width="2.0" height="12.75" fill="#76f051"/>
<rect x="240.0" y="331.25" width="3.0" height="12.75" fill="#6ef056"/>
<rect x="242.0" y="331.25" width="2.0" height="12.75" fill="#7ef04c"/>
<rect x="243.0" y="331.25" width="2.0" height="12.75" fill="#76f051"/>
<rect x="244.0" y="331.25" width="2.0" height="12.75" fill="#6ef056"/>
<rect x="245.0" y="331.25" width="2.0" height="12.75" fill="#76f051"/>
<rect x="246.0" y="331.25" width="2.0" height="12.75" fill="#2cf076"/>
<rect x="247.0" y="331.25" width="2.0" height="12.75" fill="#2cf06d"/>
<rect x="248.0" y="331.25" width="3.0" height="12.75" fill="#31f06c"/>
<rect x="250.0" y="331.25" width="2.0" height="12.75" fill="#30f078"/>
<rect x="251.0" y="331.25" width="2.0" height="12.75" fill="#31f06c"/>
<rect x="252.0" y="331.25" width="3.0" height="12.75" fill="#2cf076"/>
<rect x="254.0" y="331.25" width="2.0" height="12.75" fill="#26f06e"/>
<rect x="255.0" y="331.25" width="2.0" height="12.75" fill="#27f074"/>
<rect x="256.0" y="331.25" width="3.6" height="12.75" fill="#2cf076"/>
<rect x="42.0" y="343.00" width="19.0" height="12.75" fill="#b6f02a"/>
<rect x="60.0" y="343.00" width="2.0" height="12.75" fill="#a0f038"/>
<rect x="61.0" y="343.00" width="2.0" height="12.75" fill="#b2f02e"/>
<rect x="62.0" y="343.00" width="2.0" height="12.75" fill="#a0f038"/>
<rect x="63.0" y="343.00" width="3.0" height="12.75" fill="#a5f035"/>
<rect x="65.0" y="343.00" width="2.0" height="12.75" fill="#b2f02e"/>
<rect x="66.0" y="343.00" width="2.0" height="12.75" fill="#9df039"/>
<rect x="67.0" y="343.00" width="2.0" height="12.75" fill="#a0f038"/>
<rect x="68.0" y="343.00" width="2.0" height="12.75" fill="#aaf033"/>
<rect x="69.0" y="343.00" width="3.0" height="12.75" fill="#a3f037"/>
<rect x="71.0" y="343.00" width="2.0" height="12.75" fill="#9df039"/>
<rect x="72.0" y="343.00" width="2.0" height="12.75" fill="#b2f02e"/>
<rect x="73.0" y="343.00" width="2.0" height="12.75" fill="#a5f035"/>
<rect x="74.0" y="343.00" width="2.0" height="12.75" fill="#a8f034"/>
<rect x="75.0" y="343.00" width="2.0" height="12.75" fill="#a0f038"/>
<rect x="76.0" y="343.00" width="2.0" height="12.75" fill="#b2f02e"/>
<rect x="77.0" y="343.00" width="2.0" height="12.75" fill="#9df039"/>
<rect x="78.0" y="343.00" width="2.0" height="12.75" fill="#aaf033"/>
<rect x="79.0" y="343.00" width="2.0" height="12.75" fill="#9bf03b"/>
<rect x="80.0" y="343.00" width="2.0" height="12.75" fill="#a8f034"/>
<rect x="81.0" y="343.00" width="2.0" height="12.75" fill="#a3f037"/>
<rect x="82.0" y="343.00" width="2.0" height="12.75" fill="#b2f02e"/>
<rect x="83.0" y="343.00" width="2.0" height="12.75" fill="#a5f035"/>
<rect x="84.0" y="343.00" width="2.0" height="12.75" fill="#aff030"/>
<rect x="85.0" y="343.00" width="2.0" height="12.75" fill="#9bf03b"/>
<rect x="86.0" y="343.00" width="2.0" height="12.75" fill="#a0f038"/>
<rect x="87.0" y="343.00" width="2.0" height="12.75" fill="#b2f02e"/>
<rect x="88.0" y="343.00" width="2.0" height="12.75" fill="#a3f037"/>
<rect x="89.0" y="343.00" width="2.0" height="12.75" fill="#9bf03b"/>
<rect x="90.0" y="343.00" width="2.0" height="12.75" fill="#a0f038"/>
<rect x="91.0" y="343.00" width="2.0" height="12.75" fill="#a3f037"/>
<rect x="92.0" y="343.00" width="7.0" height="12.75" fill="#c7f019"/>
<rect x="98.0" y="343.00" width="4.0" height="12.75" fill="#a8f034"/>
<rect x="101.0" y="343.00" width="2.0" height="12.75" fill="#adf032"/>
<rect x="102.0" y="343.00" width="2.0" height="12.75" fill="#a5f035"/>
<rect x="103.0" y="343.00" width="2.0" height="12.75" fill="#a0f038"/>
<rect x="104.0" y="343.00" width="2.0" height="12.75" fill="#b2f02e"/>
<rect x="105.0" y="343.00" width="2.0" height="12.75" fill="#9df039"/>
<rect x="106.0" y="343.00" width="2.0" height="12.75" fill="#a3f037"/>
<rect x="107.0" y="343.00" width="3.0" height="12.75" fill="#a5f035"/>
<rect x="109.0" y="343.00" width="2.0" height="12.75" fill="#a0f038"/>
<rect x="110.0" y="343.00" width="2.0" height="12.75" fill="#aff030"/>
<rect x="111.0" y="343.00" width="2.0" height="12.75" fill="#a3f037"/>
<rect x="112.0" y="343.00" width="2.0" height="12.75" fill="#a8f034"/>
<rect x="113.0" y="343.00" width="2.0" height="12.75" fill="#aaf033"/>
<rect x="114.0" y="343.00" width="2.0" height="12.75" fill="#9df039"/>
<rect x="115.0" y="343.00" width="2.0" height="12.75" fill="#a5f035"/>
<rect x="116.0" y="343.00" width="2.0" height="12.75" fill="#9df039"/>
<rect x="117.0" y="343.00" width="2.0" height="12.75" fill="#a8f034"/>
<rect x="118.0" y="343.00" width="2.0" height="12.75" fill="#adf032"/>
<rect x="119.0" y="343.00" width="2.0" height="12.75" fill="#aff030"/>
<rect x="120.0" y="343.00" width="2.0" height="12.75" fill="#b2f02e"/>
<rect x="121.0" y="343.00" width="2.0" height="12.75" fill="#9df039"/>
<rect x="122.0" y="343.00" width="2.0" height="12.75" fill="#a5f035"/>
<rect x="123.0" y="343.00" width="2.0" height="12.75" fill="#aaf033"/>
<rect x="124.0" y="343.00" width="2.0" height="12.75" fill="#a3f037"/>
<rect x="125.0" y="343.00" width="2.0" height="12.75" fill="#b2f02e"/>
<rect x="126.0" y="343.00" width="2.0" height="12.75" fill="#a5f035"/>
<rect x="127.0" y="343.00" width="2.0" height="12.75" fill="#aff030"/>
<rect x="128.0" y="343.00" width="2.0" height="12.75" fill="#9bf03b"/>
<rect x="129.0" y="343.00" width="2.0" height="12.75" fill="#cff011"/>
<rect x="130.0" y="343.00" width="2.0" height="12.75" fill="#cdf013"/>
<rect x="131.0" y="343.00" width="2.0" height="12.75" fill="#d2ee0f"/>
<rect x="132.0" y="343.00" width="2.0" height="12.75" fill="#cff011"/>
<rect x="133.0" y="343.00" width="2.0" height="12.75" fill="#c9f017"/>
<rect x="134.0" y="343.00" width="2.0" height="12.75" fill="#d2ee0f"/>
<rect x="135.0" y="343.00" width="2.0" height="12.75" fill="#c9f017"/>
<rect x="136.0" y="343.00" width="2.0" height="12.75" fill="#c7f019"/>
<rect x="137.0" y="343.00" width="3.0" height="12.75" fill="#cbf015"/>
<rect x="139.0" y="343.00" width="2.0" height="12.75" fill="#cdf013"/>
<rect x="140.0" y="343.00" width="2.0" height="12.75" fill="#cff011"/>
<rect x="141.0" y="343.00" width="2.0" height="12.75" fill="#c9f017"/>
<rect x="142.0" y="343.00" width="2.0" height="12.75" fill="#cbf015"/>
<rect x="143.0" y="343.00" width="2.0" height="12.75" fill="#cdf013"/>
<rect x="144.0" y="343.00" width="2.0" height="12.75" fill="#d4ec0d"/>
<rect x="145.0" y="343.00" width="2.0" height="12.75" fill="#cbf015"/>
<rect x="146.0" y="343.00" width="2.0" height="12.75" fill="#aaf033"/>
<rect x="147.0" y="343.00" width="2.0" height="12.75" fill="#e9d300"/>
<rect x="148.0" y="343.00" width="2.0" height="12.75" fill="#ebc700"/>
<rect x="149.0" y="343.00" width="2.0" height="12.75" fill="#edc100"/>
<rect x="150.0" y="343.00" width="2.0" height="12.75" fill="#e9d300"/>
<rect x="151.0" y="343.00" width="2.0" height="12.75" fill="#eacd00"/>
<rect x="152.0" y="343.00" width="2.0" height="12.75" fill="#ecc400"/>
<rect x="153.0" y="343.00" width="2.0" height="12.75" fill="#edc100"/>
<rect x="154.0" y="343.00" width="2.0" height="12.75" fill="#eacd00"/>
<rect x="155.0" y="343.00" width="2.0" height="12.75" fill="#ebca00"/>
<rect x="156.0" y="343.00" width="2.0" height="12.75" fill="#eacd00"/>
<rect x="157.0" y="343.00" width="4.0" height="12.75" fill="#ebc700"/>
<rect x="160.0" y="343.00" width="2.0" height="12.75" fill="#e9d300"/>
<rect x="161.0" y="343.00" width="2.0" height="12.75" fill="#eacd00"/>
<rect x="162.0" y="343.00" width="2.0" height="12.75" fill="#ecc400"/>
<rect x="163.0" y="343.00" width="2.0" height="12.75" fill="#ead000"/>
<rect x="164.0" y="343.00" width="2.0" height="12.75" fill="#edc100"/>
<rect x="165.0" y="343.00" width="2.0" height="12.75" fill="#d2ee0f"/>
<rect x="166.0" y="343.00" width="2.0" height="12.75" fill="#dee207"/>
<rect x="167.0" y="343.00" width="3.0" height="12.75" fill="#d9e70a"/>
<rect x="169.0" y="343.00" width="2.0" height="12.75" fill="#dbe508"/>
<rect x="170.0" y="343.00" width="2.0" height="12.75" fill="#ebca00"/>
<rect x="171.0" y="343.00" width="2.0" height="12.75" fill="#ecc400"/>
<rect x="172.0" y="343.00" width="2.0" height="12.75" fill="#eacd00"/>
<rect x="173.0" y="343.00" width="2.0" height="12.75" fill="#edc100"/>
<rect x="174.0" y="343.00" width="2.0" height="12.75" fill="#ead000"/>
<rect x="175.0" y="343.00" width="2.0" height="12.75" fill="#ebca00"/>
<rect x="176.0" y="343.00" width="2.0" height="12.75" fill="#eacd00"/>
<rect x="177.0" y="343.00" width="2.0" height="12.75" fill="#ebca00"/>
<rect x="178.0" y="343.00" width="2.0" height="12.75" fill="#eacd00"/>
<rect x="179.0" y="343.00" width="2.0" height="12.75" fill="#ebc700"/>
<rect x="180.0" y="343.00" width="2.0" height="12.75" fill="#ebca00"/>
<rect x="181.0" y="343.00" width="2.0" height="12.75" fill="#ebc700"/>
<rect x="182.0" y="343.00" width="4.0" height="12.75" fill="#eacd00"/>
<rect x="185.0" y="343.00" width="2.0" height="12.75" fill="#dee207"/>
<rect x="186.0" y="343.00" width="2.0" height="12.75" fill="#e3dd04"/>
<rect x="187.0" y="343.00" width="2.0" height="12.75" fill="#e5db02"/>
<rect x="188.0" y="343.00" width="3.0" height="12.75" fill="#dbe508"/>
<rect x="190.0" y="343.00" width="2.0" height="12.75" fill="#eacd00"/>
<rect x="191.0" y="343.00" width="2.0" height="12.75" fill="#e9d300"/>
<rect x="192.0" y="343.00" width="2.0" height="12.75" fill="#edc100"/>
<rect x="193.0" y="343.00" width="3.0" height="12.75" fill="#eacd00"/>
<rect x="195.0" y="343.00" width="2.0" height="12.75" fill="#c1f01f"/>
<rect x="196.0" y="343.00" width="2.0" height="12.75" fill="#c5f01b"/>
<rect x="197.0" y="343.00" width="2.0" height="12.75" fill="#bef022"/>
<rect x="198.0" y="343.00" width="3.0" height="12.75" fill="#c3f01d"/>
<rect x="200.0" y="343.00" width="2.0" height="12.75" fill="#c9f017"/>
<rect x="201.0" y="343.00" width="2.0" height="12.75" fill="#c1f01f"/>
<rect x="202.0" y="343.00" width="2.0" height="12.75" fill="#c3f01d"/>
<rect x="203.0" y="343.00" width="2.0" height="12.75" fill="#c7f019"/>
<rect x="204.0" y="343.00" width="2.0" height="12.75" fill="#c3f01d"/>
<rect x="205.0" y="343.00" width="2.0" height="12.75" fill="#c1f01f"/>
<rect x="206.0" y="343.00" width="2.0" height="12.75" fill="#bcf024"/>
<rect x="207.0" y="343.00" width="2.0" height="12.75" fill="#c7f019"/>
<rect x="208.0" y="343.00" width="2.0" height="12.75" fill="#c9f017"/>
<rect x="209.0" y="343.00" width="2.0" height="12.75" fill="#bef022"/>
<rect x="210.0" y="343.00" width="2.0" height="12.75" fill="#c9f017"/>
<rect x="211.0" y="343.00" width="2.0" height="12.75" fill="#c7f019"/>
<rect x="212.0" y="343.00" width="2.0" height="12.75" fill="#bef022"/>
<rect x="213.0" y="343.00" width="2.0" height="12.75" fill="#c5f01b"/>
<rect x="214.0" y="343.00" width="2.0" height="12.75" fill="#bcf024"/>
<rect x="215.0" y="343.00" width="2.0" height="12.75" fill="#bef022"/>
<rect x="216.0" y="343.00" width="2.0" height="12.75" fill="#c3f01d"/>
<rect x="217.0" y="343.00" width="2.0" height="12.75" fill="#c1f01f"/>
<rect x="218.0" y="343.00" width="2.0" height="12.75" fill="#c9f017"/>
<rect x="219.0" y="343.00" width="2.0" height="12.75" fill="#c5f01b"/>
<rect x="220.0" y="343.00" width="2.0" height="12.75" fill="#c9f017"/>
<rect x="221.0" y="343.00" width="2.0" height="12.75" fill="#c5f01b"/>
<rect x="222.0" y="343.00" width="2.0" height="12.75" fill="#c3f01d"/>
<rect x="223.0" y="343.00" width="3.0" height="12.75" fill="#bef022"/>
<rect x="225.0" y="343.00" width="2.0" height="12.75" fill="#e0e005"/>
<rect x="226.0" y="343.00" width="2.0" height="12.75" fill="#d4ec0d"/>
<rect x="227.0" y="343.00" width="3.0" height="12.75" fill="#d7e90c"/>
<rect x="229.0" y="343.00" width="2.0" height="12.75" fill="#dee207"/>
<rect x="230.0" y="343.00" width="2.0" height="12.75" fill="#d9e70a"/>
<rect x="231.0" y="343.00" width="2.0" height="12.75" fill="#d4ec0d"/>
<rect x="232.0" y="343.00" width="2.0" height="12.75" fill="#d7e90c"/>
<rect x="233.0" y="343.00" width="2.0" height="12.75" fill="#d2ee0f"/>
<rect x="234.0" y="343.00" width="2.0" height="12.75" fill="#e0e005"/>
<rect x="235.0" y="343.00" width="2.0" height="12.75" fill="#d4ec0d"/>
<rect x="236.0" y="343.00" width="2.0" height="12.75" fill="#d9e70a"/>
<rect x="237.0" y="343.00" width="2.0" height="12.75" fill="#d4ec0d"/>
<rect x="238.0" y="343.00" width="3.0" height="12.75" fill="#dee207"/>
<rect x="240.0" y="343.00" width="3.0" height="12.75" fill="#d7e90c"/>
<rect x="242.0" y="343.00" width="2.0" height="12.75" fill="#d9e70a"/>
<rect x="243.0" y="343.00" width="2.0" height="12.75" fill="#d7e90c"/>
<rect x="244.0" y="343.00" width="2.0" height="12.75" fill="#d2ee0f"/>
<rect x="245.0" y="343.00" width="2.0" height="12.75" fill="#b4f02c"/>
<rect x="246.0" y="343.00" width="2.0" height="12.75" fill="#b8f028"/>
<rect x="247.0" y="343.00" width="2.0" height="12.75" fill="#bcf024"/>
<rect x="248.0" y="343.00" width="2.0" height="12.75" fill="#bef022"/>
<rect x="249.0" y="343.00" width="2.0" height="12.75" fill="#bcf024"/>
<rect x="250.0" y="343.00" width="2.0" height="12.75" fill="#b4f02c"/>
<rect x="251.0" y="343.00" width="2.0" height="12.75" fill="#b6f02a"/>
<rect x="252.0" y="343.00" width="2.0" height="12.75" fill="#b4f02c"/>
<rect x="253.0" y="343.00" width="2.0" height="12.75" fill="#baf026"/>
<rect x="254.0" y="343.00" width="2.0" height="12.75" fill="#b4f02c"/>
<rect x="255.0" y="343.00" width="4.6" height="12.75" fill="#b6f02a"/>
<rect x="42.0" y="354.75" width="5.0" height="38.25" fill="#bef022"/>
<rect x="46.0" y="354.75" width="2.0" height="38.25" fill="#b6f02a"/>
<rect x="47.0" y="354.75" width="3.0" height="38.25" fill="#b8f028"/>
<rect x="49.0" y="354.75" width="2.0" height="38.25" fill="#bcf024"/>
<rect x="50.0" y="354.75" width="2.0" height="38.25" fill="#b6f02a"/>
<rect x="51.0" y="354.75" width="2.0" height="38.25" fill="#b2f02e"/>
<rect x="52.0" y="354.75" width="2.0" height="38.25" fill="#bcf024"/>
<rect x="53.0" y="354.75" width="2.0" height="38.25" fill="#b8f028"/>
<rect x="54.0" y="354.75" width="2.0" height="38.25" fill="#b2f02e"/>
<rect x="55.0" y="354.75" width="2.0" height="38.25" fill="#bef022"/>
<rect x="56.0" y="354.75" width="2.0" height="38.25" fill="#bcf024"/>
<rect x="57.0" y="354.75" width="4.0" height="38.25" fill="#b8f028"/>
<rect x="60.0" y="354.75" width="2.0" height="38.25" fill="#a8f034"/>
<rect x="61.0" y="354.75" width="2.0" height="38.25" fill="#96f03d"/>
<rect x="62.0" y="354.75" width="2.0" height="38.25" fill="#a0f038"/>
<rect x="63.0" y="354.75" width="2.0" height="38.25" fill="#aaf033"/>
<rect x="64.0" y="354.75" width="2.0" height="38.25" fill="#93f03e"/>
<rect x="65.0" y="354.75" width="2.0" height="38.25" fill="#aaf033"/>
<rect x="66.0" y="354.75" width="3.0" height="38.25" fill="#9bf03b"/>
<rect x="68.0" y="354.75" width="2.0" height="38.25" fill="#a5f035"/>
<rect x="69.0" y="354.75" width="2.0" height="38.25" fill="#a3f037"/>
<rect x="70.0" y="354.75" width="2.0" height="38.25" fill="#9bf03b"/>
<rect x="71.0" y="354.75" width="2.0" height="38.25" fill="#96f03d"/>
<rect x="72.0" y="354.75" width="2.0" height="38.25" fill="#9df039"/>
<rect x="73.0" y="354.75" width="2.0" height="38.25" fill="#aaf033"/>
<rect x="74.0" y="354.75" width="2.0" height="38.25" fill="#aff030"/>
<rect x="75.0" y="354.75" width="4.0" height="38.25" fill="#a5f035"/>
<rect x="78.0" y="354.75" width="2.0" height="38.25" fill="#adf032"/>
<rect x="79.0" y="354.75" width="3.0" height="38.25" fill="#96f03d"/>
<rect x="81.0" y="354.75" width="2.0" height="38.25" fill="#aaf033"/>
<rect x="82.0" y="354.75" width="2.0" height="38.25" fill="#93f03e"/>
<rect x="83.0" y="354.75" width="2.0" height="38.25" fill="#a0f038"/>
<rect x="84.0" y="354.75" width="2.0" height="38.25" fill="#9df039"/>
<rect x="85.0" y="354.75" width="2.0" height="38.25" fill="#adf032"/>
<rect x="86.0" y="354.75" width="2.0" height="38.25" fill="#a3f037"/>
<rect x="87.0" y="354.75" width="2.0" height="38.25" fill="#98f03c"/>
<rect x="88.0" y="354.75" width="2.0" height="38.25" fill="#93f03e"/>
<rect x="89.0" y="354.75" width="2.0" height="38.25" fill="#a0f038"/>
<rect x="90.0" y="354.75" width="2.0" height="38.25" fill="#a3f037"/>
<rect x="91.0" y="354.75" width="2.0" height="38.25" fill="#a0f038"/>
<rect x="92.0" y="354.75" width="2.0" height="38.25" fill="#cbf015"/>
<rect x="93.0" y="354.75" width="2.0" height="38.25" fill="#d9e70a"/>
<rect x="94.0" y="354.75" width="2.0" height="38.25" fill="#cdf013"/>
<rect x="95.0" y="354.75" width="2.0" height="38.25" fill="#dbe508"/>
<rect x="96.0" y="354.75" width="3.0" height="38.25" fill="#d2ee0f"/>
<rect x="98.0" y="354.75" width="2.0" height="38.25" fill="#aaf033"/>
<rect x="99.0" y="354.75" width="3.0" height="38.25" fill="#adf032"/>
<rect x="101.0" y="354.75" width="2.0" height="38.25" fill="#aaf033"/>
<rect x="102.0" y="354.75" width="2.0" height="38.25" fill="#a5f035"/>
<rect x="103.0" y="354.75" width="2.0" height="38.25" fill="#96f03d"/>
<rect x="104.0" y="354.75" width="2.0" height="38.25" fill="#adf032"/>
<rect x="105.0" y="354.75" width="2.0" height="38.25" fill="#96f03d"/>
<rect x="106.0" y="354.75" width="2.0" height="38.25" fill="#a8f034"/>
<rect x="107.0" y="354.75" width="2.0" height="38.25" fill="#9bf03b"/>
<rect x="108.0" y="354.75" width="2.0" height="38.25" fill="#93f03e"/>
<rect x="109.0" y="354.75" width="2.0" height="38.25" fill="#a5f035"/>
<rect x="110.0" y="354.75" width="2.0" height="38.25" fill="#98f03c"/>
<rect x="111.0" y="354.75" width="2.0" height="38.25" fill="#aaf033"/>
<rect x="112.0" y="354.75" width="2.0" height="38.25" fill="#96f03d"/>
<rect x="113.0" y="354.75" width="2.0" height="38.25" fill="#a5f035"/>
<rect x="114.0" y="354.75" width="2.0" height="38.25" fill="#9df039"/>
<rect x="115.0" y="354.75" width="2.0" height="38.25" fill="#93f03e"/>
<rect x="116.0" y="354.75" width="3.0" height="38.25" fill="#9bf03b"/>
<rect x="118.0" y="354.75" width="3.0" height="38.25" fill="#a8f034"/>
<rect x="120.0" y="354.75" width="2.0" height="38.25" fill="#adf032"/>
<rect x="121.0" y="354.75" width="2.0" height="38.25" fill="#96f03d"/>
<rect x="122.0" y="354.75" width="2.0" height="38.25" fill="#98f03c"/>
<rect x="123.0" y="354.75" width="2.0" height="38.25" fill="#9df039"/>
<rect x="124.0" y="354.75" width="2.0" height="38.25" fill="#9bf03b"/>
<rect x="125.0" y="354.75" width="2.0" height="38.25" fill="#b6f02a"/>
<rect x="126.0" y="354.75" width="2.0" height="38.25" fill="#b4f02c"/>
<rect x="127.0" y="354.75" width="2.0" height="38.25" fill="#aff030"/>
<rect x="128.0" y="354.75" width="2.0" height="38.25" fill="#b2f02e"/>
<rect x="129.0" y="354.75" width="2.0" height="38.25" fill="#adf032"/>
<rect x="130.0" y="354.75" width="2.0" height="38.25" fill="#efb600"/>
<rect x="131.0" y="354.75" width="2.0" height="38.25" fill="#eeb900"/>
<rect x="132.0" y="354.75" width="4.0" height="38.25" fill="#f0b000"/>
<rect x="135.0" y="354.75" width="2.0" height="38.25" fill="#f0aa00"/>
<rect x="136.0" y="354.75" width="2.0" height="38.25" fill="#f0ad00"/>
<rect x="137.0" y="354.75" width="3.0" height="38.25" fill="#f0aa00"/>
<rect x="139.0" y="354.75" width="2.0" height="38.25" fill="#ecc400"/>
<rect x="140.0" y="354.75" width="2.0" height="38.25" fill="#eacd00"/>
<rect x="141.0" y="354.75" width="2.0" height="38.25" fill="#cdf013"/>
<rect x="142.0" y="354.75" width="2.0" height="38.25" fill="#d4ec0d"/>
<rect x="143.0" y="354.75" width="2.0" height="38.25" fill="#d2ee0f"/>
<rect x="144.0" y="354.75" width="2.0" height="38.25" fill="#cbf015"/>
<rect x="145.0" y="354.75" width="2.0" height="38.25" fill="#d4ec0d"/>
<rect x="146.0" y="354.75" width="2.0" height="38.25" fill="#f0a000"/>
<rect x="147.0" y="354.75" width="2.0" height="38.25" fill="#f0ad00"/>
<rect x="148.0" y="354.75" width="2.0" height="38.25" fill="#f0aa00"/>
<rect x="149.0" y="354.75" width="3.0" height="38.25" fill="#f0a600"/>
<rect x="151.0" y="354.75" width="2.0" height="38.25" fill="#f0ad00"/>
<rect x="152.0" y="354.75" width="2.0" height="38.25" fill="#f0a300"/>
<rect x="153.0" y="354.75" width="2.0" height="38.25" fill="#f0a600"/>
<rect x="154.0" y="354.75" width="2.0" height="38.25" fill="#f08d00"/>
<rect x="155.0" y="354.75" width="2.0" height="38.25" fill="#f08600"/>
<rect x="156.0" y="354.75" width="2.0" height="38.25" fill="#f08a00"/>
<rect x="157.0" y="354.75" width="2.0" height="38.25" fill="#f08200"/>
<rect x="158.0" y="354.75" width="2.0" height="38.25" fill="#f08d00"/>
<rect x="159.0" y="354.75" width="2.0" height="38.25" fill="#f0a000"/>
<rect x="160.0" y="354.75" width="2.0" height="38.25" fill="#f09d00"/>
<rect x="161.0" y="354.75" width="2.0" height="38.25" fill="#f09600"/>
<rect x="162.0" y="354.75" width="2.0" height="38.25" fill="#f09300"/>
<rect x="163.0" y="354.75" width="2.0" height="38.25" fill="#f09d00"/>
<rect x="164.0" y="354.75" width="2.0" height="38.25" fill="#f0a000"/>
<rect x="165.0" y="354.75" width="2.0" height="38.25" fill="#f09a00"/>
<rect x="166.0" y="354.75" width="2.0" height="38.25" fill="#e0e005"/>
<rect x="167.0" y="354.75" width="3.0" height="38.25" fill="#d2ee0f"/>
<rect x="169.0" y="354.75" width="2.0" height="38.25" fill="#d4ec0d"/>
<rect x="170.0" y="354.75" width="2.0" height="38.25" fill="#d2ee0f"/>
<rect x="171.0" y="354.75" width="2.0" height="38.25" fill="#f07300"/>
<rect x="172.0" y="354.75" width="2.0" height="38.25" fill="#f06700"/>
<rect x="173.0" y="354.75" width="4.0" height="38.25" fill="#f06f00"/>
<rect x="176.0" y="354.75" width="2.0" height="38.25" fill="#f06b00"/>
<rect x="177.0" y="354.75" width="2.0" height="38.25" fill="#f06f00"/>
<rect x="178.0" y="354.75" width="2.0" height="38.25" fill="#f08600"/>
<rect x="179.0" y="354.75" width="2.0" height="38.25" fill="#f07e00"/>
<rect x="180.0" y="354.75" width="2.0" height="38.25" fill="#f08200"/>
<rect x="181.0" y="354.75" width="2.0" height="38.25" fill="#f08600"/>
<rect x="182.0" y="354.75" width="2.0" height="38.25" fill="#f09300"/>
<rect x="183.0" y="354.75" width="2.0" height="38.25" fill="#dee207"/>
<rect x="184.0" y="354.75" width="2.0" height="38.25" fill="#e3dd04"/>
<rect x="185.0" y="354.75" width="2.0" height="38.25" fill="#dbe508"/>
<rect x="186.0" y="354.75" width="2.0" height="38.25" fill="#d9e70a"/>
<rect x="187.0" y="354.75" width="2.0" height="38.25" fill="#dbe508"/>
<rect x="188.0" y="354.75" width="2.0" height="38.25" fill="#dee207"/>
<rect x="189.0" y="354.75" width="2.0" height="38.25" fill="#f09000"/>
<rect x="190.0" y="354.75" width="2.0" height="38.25" fill="#f09a00"/>
<rect x="191.0" y="354.75" width="2.0" height="38.25" fill="#f09d00"/>
<rect x="192.0" y="354.75" width="2.0" height="38.25" fill="#f08d00"/>
<rect x="193.0" y="354.75" width="2.0" height="38.25" fill="#f09600"/>
<rect x="194.0" y="354.75" width="2.0" height="38.25" fill="#f09300"/>
<rect x="195.0" y="354.75" width="2.0" height="38.25" fill="#baf026"/>
<rect x="196.0" y="354.75" width="2.0" height="38.25" fill="#bcf024"/>
<rect x="197.0" y="354.75" width="2.0" height="38.25" fill="#b6f02a"/>
<rect x="198.0" y="354.75" width="4.0" height="38.25" fill="#b8f028"/>
<rect x="201.0" y="354.75" width="2.0" height="38.25" fill="#c1f01f"/>
<rect x="202.0" y="354.75" width="2.0" height="38.25" fill="#baf026"/>
<rect x="203.0" y="354.75" width="2.0" height="38.25" fill="#bef022"/>
<rect x="204.0" y="354.75" width="2.0" height="38.25" fill="#b8f028"/>
<rect x="205.0" y="354.75" width="2.0" height="38.25" fill="#bef022"/>
<rect x="206.0" y="354.75" width="2.0" height="38.25" fill="#c1f01f"/>
<rect x="207.0" y="354.75" width="2.0" height="38.25" fill="#b6f02a"/>
<rect x="208.0" y="354.75" width="2.0" height="38.25" fill="#c3f01d"/>
<rect x="209.0" y="354.75" width="2.0" height="38.25" fill="#b6f02a"/>
<rect x="210.0" y="354.75" width="2.0" height="38.25" fill="#bef022"/>
<rect x="211.0" y="354.75" width="2.0" height="38.25" fill="#c3f01d"/>
<rect x="212.0" y="354.75" width="2.0" height="38.25" fill="#bef022"/>
<rect x="213.0" y="354.75" width="2.0" height="38.25" fill="#b8f028"/>
<rect x="214.0" y="354.75" width="2.0" height="38.25" fill="#bef022"/>
<rect x="215.0" y="354.75" width="4.0" height="38.25" fill="#c1f01f"/>
<rect x="218.0" y="354.75" width="2.0" height="38.25" fill="#b6f02a"/>
<rect x="219.0" y="354.75" width="2.0" height="38.25" fill="#c3f01d"/>
<rect x="220.0" y="354.75" width="2.0" height="38.25" fill="#c5f01b"/>
<rect x="221.0" y="354.75" width="2.0" height="38.25" fill="#b8f028"/>
<rect x="222.0" y="354.75" width="2.0" height="38.25" fill="#b6f02a"/>
<rect x="223.0" y="354.75" width="2.0" height="38.25" fill="#b8f028"/>
<rect x="224.0" y="354.75" width="2.0" height="38.25" fill="#bcf024"/>
<rect x="225.0" y="354.75" width="2.0" height="38.25" fill="#c5f01b"/>
<rect x="226.0" y="354.75" width="2.0" height="38.25" fill="#c1f01f"/>
<rect x="227.0" y="354.75" width="2.0" height="38.25" fill="#efb300"/>
<rect x="228.0" y="354.75" width="2.0" height="38.25" fill="#eebc00"/>
<rect x="229.0" y="354.75" width="2.0" height="38.25" fill="#eeb900"/>
<rect x="230.0" y="354.75" width="2.0" height="38.25" fill="#edc100"/>
<rect x="231.0" y="354.75" width="2.0" height="38.25" fill="#eeb900"/>
<rect x="232.0" y="354.75" width="2.0" height="38.25" fill="#f09a00"/>
<rect x="233.0" y="354.75" width="2.0" height="38.25" fill="#f09d00"/>
<rect x="234.0" y="354.75" width="2.0" height="38.25" fill="#f0a600"/>
<rect x="235.0" y="354.75" width="2.0" height="38.25" fill="#f0aa00"/>
<rect x="236.0" y="354.75" width="2.0" height="38.25" fill="#f09a00"/>
<rect x="237.0" y="354.75" width="3.0" height="38.25" fill="#efb600"/>
<rect x="239.0" y="354.75" width="2.0" height="38.25" fill="#dee207"/>
<rect x="240.0" y="354.75" width="2.0" height="38.25" fill="#e3dd04"/>
<rect x="241.0" y="354.75" width="2.0" height="38.25" fill="#d7e90c"/>
<rect x="242.0" y="354.75" width="2.0" height="38.25" fill="#e0e005"/>
<rect x="243.0" y="354.75" width="2.0" height="38.25" fill="#e5db02"/>
<rect x="244.0" y="354.75" width="2.0" height="38.25" fill="#d9e70a"/>
<rect x="245.0" y="354.75" width="2.0" height="38.25" fill="#aff030"/>
<rect x="246.0" y="354.75" width="2.0" height="38.25" fill="#b6f02a"/>
<rect x="247.0" y="354.75" width="2.0" height="38.25" fill="#aff030"/>
<rect x="248.0" y="354.75" width="2.0" height="38.25" fill="#b6f02a"/>
<rect x="249.0" y="354.75" width="2.0" height="38.25" fill="#aff030"/>
<rect x="250.0" y="354.75" width="2.0" height="38.25" fill="#b6f02a"/>
<rect x="251.0" y="354.75" width="2.0" height="38.25" fill="#bcf024"/>
<rect x="252.0" y="354.75" width="2.0" height="38.25" fill="#aff030"/>
<rect x="253.0" y="354.75" width="2.0" height="38.25" fill="#b2f02e"/>
<rect x="254.0" y="354.75" width="2.0" height="38.25" fill="#aff030"/>
<rect x="255.0" y="354.75" width="2.0" height="38.25" fill="#b8f028"/>
<rect x="256.0" y="354.75" width="3.6" height="38.25" fill="#b2f02e"/>
<rect x="174" y="362.97" width="3.5" height="27.02" fill="#f04000"/>
<rect x="143" y="61" width="1" height="12" fill="#7aa6f0"/></g></g>
<g><rect x="151.0" y="331.25" width="6.4" height="11.75" fill="#ffffff"/>
<rect x="163.3" y="331.25" width="2.0" height="11.75" fill="#ffffff"/>
<rect x="171.5" y="331.25" width="2.0" height="11.75" fill="#ffffff"/>
<rect x="176.2" y="331.25" width="2.1" height="11.75" fill="#ffffff"/>
<rect x="179.2" y="331.25" width="2.0" height="11.75" fill="#ffffff"/>
<rect x="132.0" y="331.25" width="6.1" height="11.75" fill="#ffffff"/>
<rect x="148.1" y="331.25" width="2.7" height="11.75" fill="#ffffff"/>
<rect x="152.2" y="331.25" width="4.2" height="11.75" fill="#ffffff"/>
<rect x="224.6" y="331.25" width="2.0" height="11.75" fill="#ffffff"/>
<rect x="228.8" y="331.25" width="1.1" height="11.75" fill="#ffffff"/>
<rect x="232.7" y="331.25" width="2.7" height="11.75" fill="#ffffff"/>
<rect x="239.5" y="331.25" width="2.3" height="11.75" fill="#ffffff"/>
<rect x="242.6" y="331.25" width="2.2" height="11.75" fill="#ffffff"/>
<rect x="207" y="378.3" width="0.8" height="11.7" fill="#f4ffe0"/></g>
<g filter="url(#fb)"><rect x="293.00" y="61.00" width="9.44" height="12.75" fill="#1e6af8"/>
<rect x="301.44" y="61.00" width="17.88" height="12.75" fill="#5a5cf8"/>
<rect x="318.32" y="61.00" width="17.88" height="12.75" fill="#7c52f8"/>
<rect x="335.20" y="61.00" width="17.88" height="12.75" fill="#5a5cf8"/>
<rect x="352.08" y="61.00" width="9.44" height="12.75" fill="#3a7aee"/>
<rect x="360.52" y="61.00" width="9.44" height="12.75" fill="#4a88e0"/>
<rect x="368.96" y="61.00" width="9.44" height="12.75" fill="#1e6af8"/>
<rect x="377.40" y="61.00" width="9.44" height="12.75" fill="#5898d0"/>
<rect x="385.84" y="61.00" width="9.44" height="12.75" fill="#9c44f8"/>
<rect x="394.28" y="61.00" width="26.32" height="12.75" fill="#7c52f8"/>
<rect x="419.60" y="61.00" width="9.44" height="12.75" fill="#5a5cf8"/>
<rect x="428.04" y="61.00" width="9.44" height="12.75" fill="#1e6af8"/>
<rect x="436.48" y="61.00" width="9.44" height="12.75" fill="#5a5cf8"/>
<rect x="444.92" y="61.00" width="9.44" height="12.75" fill="#3a7aee"/>
<rect x="453.36" y="61.00" width="9.44" height="12.75" fill="#7c52f8"/>
<rect x="461.80" y="61.00" width="17.88" height="12.75" fill="#5a5cf8"/>
<rect x="478.68" y="61.00" width="16.88" height="12.75" fill="#b838f0"/>
<rect x="293.00" y="72.75" width="9.44" height="12.75" fill="#5a5cf8"/>
<rect x="301.44" y="72.75" width="17.88" height="12.75" fill="#3a7aee"/>
<rect x="318.32" y="72.75" width="17.88" height="12.75" fill="#7c52f8"/>
<rect x="335.20" y="72.75" width="17.88" height="12.75" fill="#5a5cf8"/>
<rect x="352.08" y="72.75" width="9.44" height="12.75" fill="#4a88e0"/>
<rect x="360.52" y="72.75" width="9.44" height="12.75" fill="#5898d0"/>
<rect x="368.96" y="72.75" width="9.44" height="12.75" fill="#3a7aee"/>
<rect x="377.40" y="72.75" width="9.44" height="12.75" fill="#5898d0"/>
<rect x="385.84" y="72.75" width="9.44" height="12.75" fill="#b838f0"/>
<rect x="394.28" y="72.75" width="9.44" height="12.75" fill="#7c52f8"/>
<rect x="402.72" y="72.75" width="9.44" height="12.75" fill="#3a7aee"/>
<rect x="411.16" y="72.75" width="17.88" height="12.75" fill="#7c52f8"/>
<rect x="428.04" y="72.75" width="26.32" height="12.75" fill="#3a7aee"/>
<rect x="453.36" y="72.75" width="26.32" height="12.75" fill="#5a5cf8"/>
<rect x="478.68" y="72.75" width="16.88" height="12.75" fill="#b838f0"/>
<rect x="293.00" y="84.50" width="9.44" height="12.75" fill="#5a5cf8"/>
<rect x="301.44" y="84.50" width="17.88" height="12.75" fill="#1e6af8"/>
<rect x="318.32" y="84.50" width="9.44" height="12.75" fill="#3a7aee"/>
<rect x="326.76" y="84.50" width="9.44" height="12.75" fill="#5a5cf8"/>
<rect x="335.20" y="84.50" width="9.44" height="12.75" fill="#7c52f8"/>
<rect x="343.64" y="84.50" width="9.44" height="12.75" fill="#5a5cf8"/>
<rect x="352.08" y="84.50" width="9.44" height="12.75" fill="#4a88e0"/>
<rect x="360.52" y="84.50" width="9.44" height="12.75" fill="#5898d0"/>
<rect x="368.96" y="84.50" width="9.44" height="12.75" fill="#3a7aee"/>
<rect x="377.40" y="84.50" width="9.44" height="12.75" fill="#4a88e0"/>
<rect x="385.84" y="84.50" width="17.88" height="12.75" fill="#7c52f8"/>
<rect x="402.72" y="84.50" width="9.44" height="12.75" fill="#1e6af8"/>
<rect x="411.16" y="84.50" width="17.88" height="12.75" fill="#7c52f8"/>
<rect x="428.04" y="84.50" width="26.32" height="12.75" fill="#4a88e0"/>
<rect x="453.36" y="84.50" width="9.44" height="12.75" fill="#1e6af8"/>
<rect x="461.80" y="84.50" width="17.88" height="12.75" fill="#5a5cf8"/>
<rect x="478.68" y="84.50" width="9.44" height="12.75" fill="#b838f0"/>
<rect x="487.12" y="84.50" width="8.44" height="12.75" fill="#7c52f8"/>
<rect x="293.00" y="96.25" width="9.44" height="12.75" fill="#7c52f8"/>
<rect x="301.44" y="96.25" width="26.32" height="12.75" fill="#1e6af8"/>
<rect x="326.76" y="96.25" width="9.44" height="12.75" fill="#3a7aee"/>
<rect x="335.20" y="96.25" width="17.88" height="12.75" fill="#5a5cf8"/>
<rect x="352.08" y="96.25" width="9.44" height="12.75" fill="#4a88e0"/>
<rect x="360.52" y="96.25" width="9.44" height="12.75" fill="#5898d0"/>
<rect x="368.96" y="96.25" width="17.88" height="12.75" fill="#4a88e0"/>
<rect x="385.84" y="96.25" width="9.44" height="12.75" fill="#d018f0"/>
<rect x="394.28" y="96.25" width="9.44" height="12.75" fill="#b838f0"/>
<rect x="402.72" y="96.25" width="9.44" height="12.75" fill="#4a88e0"/>
<rect x="411.16" y="96.25" width="9.44" height="12.75" fill="#5a5cf8"/>
<rect x="419.60" y="96.25" width="9.44" height="12.75" fill="#3a7aee"/>
<rect x="428.04" y="96.25" width="9.44" height="12.75" fill="#4a88e0"/>
<rect x="436.48" y="96.25" width="9.44" height="12.75" fill="#1e6af8"/>
<rect x="444.92" y="96.25" width="9.44" height="12.75" fill="#5898d0"/>
<rect x="453.36" y="96.25" width="9.44" height="12.75" fill="#4a88e0"/>
<rect x="461.80" y="96.25" width="9.44" height="12.75" fill="#1e6af8"/>
<rect x="470.24" y="96.25" width="9.44" height="12.75" fill="#5a5cf8"/>
<rect x="478.68" y="96.25" width="9.44" height="12.75" fill="#b838f0"/>
<rect x="487.12" y="96.25" width="8.44" height="12.75" fill="#5a5cf8"/>
<rect x="293.00" y="108.00" width="9.44" height="12.75" fill="#7c52f8"/>
<rect x="301.44" y="108.00" width="9.44" height="12.75" fill="#3a7aee"/>
<rect x="309.88" y="108.00" width="9.44" height="12.75" fill="#1e6af8"/>
<rect x="318.32" y="108.00" width="9.44" height="12.75" fill="#5898d0"/>
<rect x="326.76" y="108.00" width="9.44" height="12.75" fill="#4a88e0"/>
<rect x="335.20" y="108.00" width="9.44" height="12.75" fill="#1e6af8"/>
<rect x="343.64" y="108.00" width="9.44" height="12.75" fill="#7c52f8"/>
<rect x="352.08" y="108.00" width="9.44" height="12.75" fill="#1e6af8"/>
<rect x="360.52" y="108.00" width="17.88" height="12.75" fill="#5898d0"/>
<rect x="377.40" y="108.00" width="9.44" height="12.75" fill="#4a88e0"/>
<rect x="385.84" y="108.00" width="9.44" height="12.75" fill="#7c52f8"/>
<rect x="394.28" y="108.00" width="9.44" height="12.75" fill="#b838f0"/>
<rect x="402.72" y="108.00" width="9.44" height="12.75" fill="#58a8c0"/>
<rect x="411.16" y="108.00" width="9.44" height="12.75" fill="#5a5cf8"/>
<rect x="419.60" y="108.00" width="17.88" height="12.75" fill="#4a88e0"/>
<rect x="436.48" y="108.00" width="9.44" height="12.75" fill="#7c52f8"/>
<rect x="444.92" y="108.00" width="9.44" height="12.75" fill="#5898d0"/>
<rect x="453.36" y="108.00" width="9.44" height="12.75" fill="#4a88e0"/>
<rect x="461.80" y="108.00" width="9.44" height="12.75" fill="#1e6af8"/>
<rect x="470.24" y="108.00" width="9.44" height="12.75" fill="#5a5cf8"/>
<rect x="478.68" y="108.00" width="16.88" height="11.75" fill="#b838f0"/>
<rect x="293.00" y="119.75" width="9.44" height="12.75" fill="#7c52f8"/>
<rect x="301.44" y="119.75" width="17.88" height="12.75" fill="#3a7aee"/>
<rect x="318.32" y="119.75" width="17.88" height="12.75" fill="#5898d0"/>
<rect x="335.20" y="119.75" width="9.44" height="12.75" fill="#4a88e0"/>
<rect x="343.64" y="119.75" width="9.44" height="12.75" fill="#5a5cf8"/>
<rect x="352.08" y="119.75" width="9.44" height="12.75" fill="#3a7aee"/>
<rect x="360.52" y="119.75" width="9.44" height="12.75" fill="#4a88e0"/>
<rect x="368.96" y="119.75" width="9.44" height="12.75" fill="#5898d0"/>
<rect x="377.40" y="119.75" width="9.44" height="12.75" fill="#4a88e0"/>
<rect x="385.84" y="119.75" width="9.44" height="12.75" fill="#5a5cf8"/>
<rect x="394.28" y="119.75" width="9.44" height="12.75" fill="#9c44f8"/>
<rect x="402.72" y="119.75" width="9.44" height="12.75" fill="#56c2a6"/>
<rect x="411.16" y="119.75" width="9.44" height="12.75" fill="#7c52f8"/>
<rect x="419.60" y="119.75" width="9.44" height="12.75" fill="#5898d0"/>
<rect x="428.04" y="119.75" width="9.44" height="12.75" fill="#4a88e0"/>
<rect x="436.48" y="119.75" width="9.44" height="12.75" fill="#5a5cf8"/>
<rect x="444.92" y="119.75" width="17.88" height="12.75" fill="#5898d0"/>
<rect x="461.80" y="119.75" width="9.44" height="12.75" fill="#4a88e0"/>
<rect x="470.24" y="119.75" width="9.44" height="12.75" fill="#5a5cf8"/>
<rect x="478.68" y="119.75" width="8.44" height="12.75" fill="#7c52f8"/>
<rect x="293.00" y="131.50" width="9.44" height="12.75" fill="#7c52f8"/>
<rect x="301.44" y="131.50" width="9.44" height="12.75" fill="#5a5cf8"/>
<rect x="309.88" y="131.50" width="9.44" height="12.75" fill="#3a7aee"/>
<rect x="318.32" y="131.50" width="17.88" height="12.75" fill="#5898d0"/>
<rect x="335.20" y="131.50" width="9.44" height="12.75" fill="#4a88e0"/>
<rect x="343.64" y="131.50" width="9.44" height="12.75" fill="#5a5cf8"/>
<rect x="352.08" y="131.50" width="9.44" height="12.75" fill="#1e6af8"/>
<rect x="360.52" y="131.50" width="17.88" height="12.75" fill="#5898d0"/>
<rect x="377.40" y="131.50" width="9.44" height="12.75" fill="#3a7aee"/>
<rect x="385.84" y="131.50" width="9.44" height="12.75" fill="#5a5cf8"/>
<rect x="394.28" y="131.50" width="9.44" height="12.75" fill="#7c52f8"/>
<rect x="402.72" y="131.50" width="9.44" height="12.75" fill="#30f078"/>
<rect x="411.16" y="131.50" width="9.44" height="12.75" fill="#7c52f8"/>
<rect x="419.60" y="131.50" width="9.44" height="12.75" fill="#5898d0"/>
<rect x="428.04" y="131.50" width="9.44" height="12.75" fill="#4a88e0"/>
<rect x="436.48" y="131.50" width="9.44" height="12.75" fill="#1e6af8"/>
<rect x="444.92" y="131.50" width="26.32" height="12.75" fill="#5898d0"/>
<rect x="470.24" y="131.50" width="9.44" height="12.75" fill="#1e6af8"/>
<rect x="478.68" y="131.50" width="9.44" height="12.75" fill="#7c52f8"/>
<rect x="487.12" y="131.50" width="8.44" height="12.75" fill="#3a7aee"/>
<rect x="293.00" y="143.25" width="9.44" height="12.75" fill="#7c52f8"/>
<rect x="301.44" y="143.25" width="9.44" height="12.75" fill="#1e6af8"/>
<rect x="309.88" y="143.25" width="9.44" height="12.75" fill="#3a7aee"/>
<rect x="318.32" y="143.25" width="9.44" height="12.75" fill="#4a88e0"/>
<rect x="326.76" y="143.25" width="9.44" height="12.75" fill="#5898d0"/>
<rect x="335.20" y="143.25" width="9.44" height="12.75" fill="#3a7aee"/>
<rect x="343.64" y="143.25" width="9.44" height="12.75" fill="#1e6af8"/>
<rect x="352.08" y="143.25" width="9.44" height="12.75" fill="#3a7aee"/>
<rect x="360.52" y="143.25" width="17.88" height="12.75" fill="#4a88e0"/>
<rect x="377.40" y="143.25" width="9.44" height="12.75" fill="#7c52f8"/>
<rect x="385.84" y="143.25" width="17.88" height="12.75" fill="#5a5cf8"/>
<rect x="402.72" y="143.25" width="9.44" height="12.75" fill="#d018f0"/>
<rect x="411.16" y="143.25" width="9.44" height="12.75" fill="#7c52f8"/>
<rect x="419.60" y="143.25" width="9.44" height="12.75" fill="#56c2a6"/>
<rect x="428.04" y="143.25" width="9.44" height="12.75" fill="#4a88e0"/>
<rect x="436.48" y="143.25" width="9.44" height="12.75" fill="#1e6af8"/>
<rect x="444.92" y="143.25" width="26.32" height="12.75" fill="#4a88e0"/>
<rect x="470.24" y="143.25" width="9.44" height="12.75" fill="#3a7aee"/>
<rect x="478.68" y="143.25" width="9.44" height="12.75" fill="#7c52f8"/>
<rect x="487.12" y="143.25" width="8.44" height="12.75" fill="#5898d0"/>
<rect x="293.00" y="155.00" width="9.44" height="11.75" fill="#7c52f8"/>
<rect x="301.44" y="155.00" width="9.44" height="12.75" fill="#4a88e0"/>
<rect x="309.88" y="155.00" width="9.44" height="12.75" fill="#3a7aee"/>
<rect x="318.32" y="155.00" width="9.44" height="12.75" fill="#4a88e0"/>
<rect x="326.76" y="155.00" width="9.44" height="12.75" fill="#58a8c0"/>
<rect x="335.20" y="155.00" width="9.44" height="12.75" fill="#1e6af8"/>
<rect x="343.64" y="155.00" width="17.88" height="12.75" fill="#4a88e0"/>
<rect x="360.52" y="155.00" width="9.44" height="12.75" fill="#3a7aee"/>
<rect x="368.96" y="155.00" width="9.44" height="12.75" fill="#4a88e0"/>
<rect x="377.40" y="155.00" width="9.44" height="12.75" fill="#7c52f8"/>
<rect x="385.84" y="155.00" width="17.88" height="12.75" fill="#1e6af8"/>
<rect x="402.72" y="155.00" width="9.44" height="12.75" fill="#56c2a6"/>
<rect x="411.16" y="155.00" width="9.44" height="12.75" fill="#7c52f8"/>
<rect x="419.60" y="155.00" width="9.44" height="12.75" fill="#56c2a6"/>
<rect x="428.04" y="155.00" width="9.44" height="12.75" fill="#4a88e0"/>
<rect x="436.48" y="155.00" width="9.44" height="12.75" fill="#3a7aee"/>
<rect x="444.92" y="155.00" width="17.88" height="12.75" fill="#4a88e0"/>
<rect x="461.80" y="155.00" width="9.44" height="12.75" fill="#5898d0"/>
<rect x="470.24" y="155.00" width="9.44" height="12.75" fill="#4a88e0"/>
<rect x="478.68" y="155.00" width="9.44" height="12.75" fill="#7c52f8"/>
<rect x="487.12" y="155.00" width="8.44" height="12.75" fill="#5a5cf8"/>
<rect x="301.44" y="166.75" width="26.32" height="12.75" fill="#4a88e0"/>
<rect x="326.76" y="166.75" width="9.44" height="12.75" fill="#5898d0"/>
<rect x="335.20" y="166.75" width="9.44" height="12.75" fill="#4a88e0"/>
<rect x="343.64" y="166.75" width="9.44" height="12.75" fill="#3a7aee"/>
<rect x="352.08" y="166.75" width="9.44" height="12.75" fill="#4a88e0"/>
<rect x="360.52" y="166.75" width="9.44" height="12.75" fill="#3a7aee"/>
<rect x="368.96" y="166.75" width="9.44" height="12.75" fill="#5898d0"/>
<rect x="377.40" y="166.75" width="9.44" height="12.75" fill="#5a5cf8"/>
<rect x="385.84" y="166.75" width="9.44" height="12.75" fill="#4a88e0"/>
<rect x="394.28" y="166.75" width="9.44" height="12.75" fill="#3a7aee"/>
<rect x="402.72" y="166.75" width="9.44" height="12.75" fill="#5898d0"/>
<rect x="411.16" y="166.75" width="9.44" height="12.75" fill="#7c52f8"/>
<rect x="419.60" y="166.75" width="9.44" height="12.75" fill="#56c2a6"/>
<rect x="428.04" y="166.75" width="9.44" height="12.75" fill="#3a7aee"/>
<rect x="436.48" y="166.75" width="9.44" height="12.75" fill="#1e6af8"/>
<rect x="444.92" y="166.75" width="9.44" height="12.75" fill="#5898d0"/>
<rect x="453.36" y="166.75" width="9.44" height="12.75" fill="#56c2a6"/>
<rect x="461.80" y="166.75" width="9.44" height="12.75" fill="#58f060"/>
<rect x="470.24" y="166.75" width="9.44" height="11.75" fill="#1e6af8"/>
<rect x="478.68" y="166.75" width="16.88" height="12.75" fill="#5a5cf8"/>
<rect x="301.44" y="178.50" width="9.44" height="12.75" fill="#3a7aee"/>
<rect x="309.88" y="178.50" width="17.88" height="12.75" fill="#4a88e0"/>
<rect x="326.76" y="178.50" width="9.44" height="12.75" fill="#5898d0"/>
<rect x="335.20" y="178.50" width="9.44" height="12.75" fill="#4a88e0"/>
<rect x="343.64" y="178.50" width="9.44" height="12.75" fill="#1e6af8"/>
<rect x="352.08" y="178.50" width="17.88" height="12.75" fill="#4a88e0"/>
<rect x="368.96" y="178.50" width="9.44" height="12.75" fill="#56c2a6"/>
<rect x="377.40" y="178.50" width="9.44" height="12.75" fill="#5a5cf8"/>
<rect x="385.84" y="178.50" width="26.32" height="11.75" fill="#4a88e0"/>
<rect x="411.16" y="178.50" width="9.44" height="12.75" fill="#7c52f8"/>
<rect x="419.60" y="178.50" width="9.44" height="12.75" fill="#56c2a6"/>
<rect x="428.04" y="178.50" width="17.88" height="12.75" fill="#3a7aee"/>
<rect x="444.92" y="178.50" width="17.88" height="12.75" fill="#5898d0"/>
<rect x="461.80" y="178.50" width="8.44" height="12.75" fill="#58f060"/>
<rect x="478.68" y="178.50" width="9.44" height="12.75" fill="#3a7aee"/>
<rect x="487.12" y="178.50" width="8.44" height="12.75" fill="#1e6af8"/>
<rect x="301.44" y="190.25" width="9.44" height="12.75" fill="#1e6af8"/>
<rect x="309.88" y="190.25" width="17.88" height="12.75" fill="#4a88e0"/>
<rect x="326.76" y="190.25" width="17.88" height="12.75" fill="#5898d0"/>
<rect x="343.64" y="190.25" width="17.88" height="12.75" fill="#3a7aee"/>
<rect x="360.52" y="190.25" width="9.44" height="12.75" fill="#4a88e0"/>
<rect x="368.96" y="190.25" width="9.44" height="12.75" fill="#30f078"/>
<rect x="377.40" y="190.25" width="9.44" height="12.75" fill="#3a7aee"/>
<rect x="385.84" y="190.25" width="9.44" height="12.75" fill="#56c2a6"/>
<rect x="394.28" y="190.25" width="8.44" height="12.75" fill="#5898d0"/>
<rect x="411.16" y="190.25" width="9.44" height="12.75" fill="#5a5cf8"/>
<rect x="419.60" y="190.25" width="9.44" height="12.75" fill="#56c2a6"/>
<rect x="428.04" y="190.25" width="9.44" height="12.75" fill="#3a7aee"/>
<rect x="436.48" y="190.25" width="9.44" height="12.75" fill="#4a88e0"/>
<rect x="444.92" y="190.25" width="9.44" height="12.75" fill="#56c2a6"/>
<rect x="453.36" y="190.25" width="9.44" height="12.75" fill="#4a88e0"/>
<rect x="461.80" y="190.25" width="8.44" height="12.75" fill="#30f078"/>
<rect x="478.68" y="190.25" width="9.44" height="11.75" fill="#5a5cf8"/>
<rect x="487.12" y="190.25" width="8.44" height="12.75" fill="#4a88e0"/>
<rect x="301.44" y="202.00" width="9.44" height="12.75" fill="#3a7aee"/>
<rect x="309.88" y="202.00" width="9.44" height="12.75" fill="#4a88e0"/>
<rect x="318.32" y="202.00" width="26.32" height="12.75" fill="#5898d0"/>
<rect x="343.64" y="202.00" width="9.44" height="12.75" fill="#4a88e0"/>
<rect x="352.08" y="202.00" width="9.44" height="12.75" fill="#1e6af8"/>
<rect x="360.52" y="202.00" width="9.44" height="12.75" fill="#4a88e0"/>
<rect x="368.96" y="202.00" width="9.44" height="12.75" fill="#58f060"/>
<rect x="377.40" y="202.00" width="9.44" height="12.75" fill="#5898d0"/>
<rect x="385.84" y="202.00" width="9.44" height="12.75" fill="#30f078"/>
<rect x="394.28" y="202.00" width="9.44" height="12.75" fill="#56c2a6"/>
<rect x="402.72" y="202.00" width="9.44" height="12.75" fill="#d018f0"/>
<rect x="411.16" y="202.00" width="9.44" height="12.75" fill="#3a7aee"/>
<rect x="419.60" y="202.00" width="9.44" height="12.75" fill="#30f078"/>
<rect x="428.04" y="202.00" width="17.88" height="12.75" fill="#4a88e0"/>
<rect x="444.92" y="202.00" width="9.44" height="12.75" fill="#56c2a6"/>
<rect x="453.36" y="202.00" width="9.44" height="12.75" fill="#4a88e0"/>
<rect x="461.80" y="202.00" width="9.44" height="12.75" fill="#5a5cf8"/>
<rect x="470.24" y="202.00" width="8.44" height="12.75" fill="#7c52f8"/>
<rect x="487.12" y="202.00" width="8.44" height="12.75" fill="#4a88e0"/>
<rect x="301.44" y="213.75" width="17.88" height="12.75" fill="#4a88e0"/>
<rect x="318.32" y="213.75" width="9.44" height="12.75" fill="#5898d0"/>
<rect x="326.76" y="213.75" width="26.32" height="12.75" fill="#4a88e0"/>
<rect x="352.08" y="213.75" width="9.44" height="12.75" fill="#1e6af8"/>
<rect x="360.52" y="213.75" width="9.44" height="12.75" fill="#4a88e0"/>
<rect x="368.96" y="213.75" width="9.44" height="12.75" fill="#58f060"/>
<rect x="377.40" y="213.75" width="9.44" height="12.75" fill="#56c2a6"/>
<rect x="385.84" y="213.75" width="9.44" height="12.75" fill="#58f060"/>
<rect x="394.28" y="213.75" width="9.44" height="12.75" fill="#56c2a6"/>
<rect x="402.72" y="213.75" width="9.44" height="12.75" fill="#7c52f8"/>
<rect x="411.16" y="213.75" width="9.44" height="12.75" fill="#1e6af8"/>
<rect x="419.60" y="213.75" width="9.44" height="12.75" fill="#30f078"/>
<rect x="428.04" y="213.75" width="9.44" height="12.75" fill="#5898d0"/>
<rect x="436.48" y="213.75" width="9.44" height="12.75" fill="#4a88e0"/>
<rect x="444.92" y="213.75" width="17.88" height="12.75" fill="#56c2a6"/>
<rect x="461.80" y="213.75" width="16.88" height="12.75" fill="#4a88e0"/>
<rect x="487.12" y="213.75" width="8.44" height="11.75" fill="#56c2a6"/>
<rect x="301.44" y="225.50" width="9.44" height="12.75" fill="#1e6af8"/>
<rect x="309.88" y="225.50" width="17.88" height="12.75" fill="#4a88e0"/>
<rect x="326.76" y="225.50" width="9.44" height="12.75" fill="#3a7aee"/>
<rect x="335.20" y="225.50" width="17.88" height="12.75" fill="#4a88e0"/>
<rect x="352.08" y="225.50" width="9.44" height="12.75" fill="#3a7aee"/>
<rect x="360.52" y="225.50" width="9.44" height="12.75" fill="#4a88e0"/>
<rect x="368.96" y="225.50" width="26.32" height="12.75" fill="#58f060"/>
<rect x="394.28" y="225.50" width="9.44" height="12.75" fill="#4a88e0"/>
<rect x="402.72" y="225.50" width="9.44" height="12.75" fill="#1e6af8"/>
<rect x="411.16" y="225.50" width="9.44" height="12.75" fill="#4a88e0"/>
<rect x="419.60" y="225.50" width="9.44" height="12.75" fill="#56c2a6"/>
<rect x="428.04" y="225.50" width="9.44" height="12.75" fill="#58f060"/>
<rect x="436.48" y="225.50" width="9.44" height="12.75" fill="#4a88e0"/>
<rect x="444.92" y="225.50" width="9.44" height="12.75" fill="#56c2a6"/>
<rect x="453.36" y="225.50" width="17.88" height="12.75" fill="#58a8c0"/>
<rect x="470.24" y="225.50" width="9.44" height="12.75" fill="#4a88e0"/>
<rect x="478.68" y="225.50" width="8.44" height="12.75" fill="#56c2a6"/>
<rect x="301.44" y="237.25" width="26.32" height="12.75" fill="#4a88e0"/>
<rect x="326.76" y="237.25" width="26.32" height="12.75" fill="#3a7aee"/>
<rect x="352.08" y="237.25" width="17.88" height="12.75" fill="#4a88e0"/>
<rect x="368.96" y="237.25" width="9.44" height="12.75" fill="#58f060"/>
<rect x="377.40" y="237.25" width="9.44" height="12.75" fill="#a0f040"/>
<rect x="385.84" y="237.25" width="9.44" height="12.75" fill="#56c2a6"/>
<rect x="394.28" y="237.25" width="17.88" height="12.75" fill="#4a88e0"/>
<rect x="411.16" y="237.25" width="9.44" height="12.75" fill="#56c2a6"/>
<rect x="419.60" y="237.25" width="9.44" height="12.75" fill="#4a88e0"/>
<rect x="428.04" y="237.25" width="9.44" height="12.75" fill="#58f060"/>
<rect x="436.48" y="237.25" width="9.44" height="12.75" fill="#5898d0"/>
<rect x="444.92" y="237.25" width="9.44" height="12.75" fill="#56c2a6"/>
<rect x="453.36" y="237.25" width="9.44" height="12.75" fill="#58a8c0"/>
<rect x="461.80" y="237.25" width="9.44" height="12.75" fill="#30f078"/>
<rect x="470.24" y="237.25" width="9.44" height="12.75" fill="#58f060"/>
<rect x="478.68" y="237.25" width="8.44" height="12.75" fill="#56c2a6"/>
<rect x="293.00" y="249.00" width="9.44" height="12.75" fill="#3a7aee"/>
<rect x="301.44" y="249.00" width="9.44" height="12.75" fill="#4a88e0"/>
<rect x="309.88" y="249.00" width="9.44" height="12.75" fill="#3a7aee"/>
<rect x="318.32" y="249.00" width="17.88" height="12.75" fill="#4a88e0"/>
<rect x="335.20" y="249.00" width="17.88" height="12.75" fill="#3a7aee"/>
<rect x="352.08" y="249.00" width="9.44" height="12.75" fill="#5898d0"/>
<rect x="360.52" y="249.00" width="9.44" height="12.75" fill="#4a88e0"/>
<rect x="368.96" y="249.00" width="9.44" height="12.75" fill="#58f060"/>
<rect x="377.40" y="249.00" width="9.44" height="12.75" fill="#a0f040"/>
<rect x="385.84" y="249.00" width="9.44" height="12.75" fill="#56c2a6"/>
<rect x="394.28" y="249.00" width="17.88" height="12.75" fill="#5898d0"/>
<rect x="411.16" y="249.00" width="9.44" height="12.75" fill="#56c2a6"/>
<rect x="419.60" y="249.00" width="9.44" height="12.75" fill="#5898d0"/>
<rect x="428.04" y="249.00" width="9.44" height="12.75" fill="#58f060"/>
<rect x="436.48" y="249.00" width="9.44" height="12.75" fill="#5898d0"/>
<rect x="444.92" y="249.00" width="9.44" height="12.75" fill="#56c2a6"/>
<rect x="453.36" y="249.00" width="9.44" height="12.75" fill="#58a8c0"/>
<rect x="461.80" y="249.00" width="9.44" height="12.75" fill="#30f078"/>
<rect x="470.24" y="249.00" width="9.44" height="12.75" fill="#56c2a6"/>
<rect x="478.68" y="249.00" width="8.44" height="12.75" fill="#58a8c0"/>
<rect x="284.56" y="260.75" width="26.32" height="12.75" fill="#5898d0"/>
<rect x="309.88" y="260.75" width="9.44" height="12.75" fill="#4a88e0"/>
<rect x="318.32" y="260.75" width="9.44" height="12.75" fill="#5898d0"/>
<rect x="326.76" y="260.75" width="9.44" height="12.75" fill="#4a88e0"/>
<rect x="335.20" y="260.75" width="17.88" height="12.75" fill="#5898d0"/>
<rect x="352.08" y="260.75" width="17.88" height="12.75" fill="#56c2a6"/>
<rect x="368.96" y="260.75" width="9.44" height="12.75" fill="#58f060"/>
<rect x="377.40" y="260.75" width="9.44" height="12.75" fill="#a0f040"/>
<rect x="385.84" y="260.75" width="9.44" height="12.75" fill="#30f078"/>
<rect x="394.28" y="260.75" width="17.88" height="12.75" fill="#56c2a6"/>
<rect x="411.16" y="260.75" width="9.44" height="12.75" fill="#58f060"/>
<rect x="419.60" y="260.75" width="9.44" height="12.75" fill="#30f078"/>
<rect x="428.04" y="260.75" width="9.44" height="12.75" fill="#58f060"/>
<rect x="436.48" y="260.75" width="9.44" height="12.75" fill="#5898d0"/>
<rect x="444.92" y="260.75" width="34.76" height="12.75" fill="#30f078"/>
<rect x="478.68" y="260.75" width="8.44" height="12.75" fill="#56c2a6"/>
<rect x="284.56" y="272.50" width="9.44" height="12.75" fill="#30f078"/>
<rect x="293.00" y="272.50" width="17.88" height="12.75" fill="#56c2a6"/>
<rect x="309.88" y="272.50" width="9.44" height="12.75" fill="#4a88e0"/>
<rect x="318.32" y="272.50" width="17.88" height="12.75" fill="#5898d0"/>
<rect x="335.20" y="272.50" width="17.88" height="12.75" fill="#56c2a6"/>
<rect x="352.08" y="272.50" width="9.44" height="12.75" fill="#58f060"/>
<rect x="360.52" y="272.50" width="9.44" height="12.75" fill="#30f078"/>
<rect x="368.96" y="272.50" width="9.44" height="12.75" fill="#58f060"/>
<rect x="377.40" y="272.50" width="9.44" height="11.75" fill="#c8f018"/>
<rect x="385.84" y="272.50" width="9.44" height="12.75" fill="#30f078"/>
<rect x="394.28" y="272.50" width="17.88" height="12.75" fill="#56c2a6"/>
<rect x="411.16" y="272.50" width="17.88" height="12.75" fill="#a0f040"/>
<rect x="428.04" y="272.50" width="9.44" height="12.75" fill="#58f060"/>
<rect x="436.48" y="272.50" width="9.44" height="12.75" fill="#56c2a6"/>
<rect x="444.92" y="272.50" width="9.44" height="12.75" fill="#30f078"/>
<rect x="453.36" y="272.50" width="9.44" height="12.75" fill="#a0f040"/>
<rect x="461.80" y="272.50" width="25.32" height="11.75" fill="#58f060"/>
<rect x="284.56" y="284.25" width="9.44" height="12.75" fill="#c8f018"/>
<rect x="293.00" y="284.25" width="17.88" height="12.75" fill="#58f060"/>
<rect x="309.88" y="284.25" width="17.88" height="11.75" fill="#56c2a6"/>
<rect x="326.76" y="284.25" width="9.44" height="12.75" fill="#5898d0"/>
<rect x="335.20" y="284.25" width="9.44" height="12.75" fill="#30f078"/>
<rect x="343.64" y="284.25" width="26.32" height="12.75" fill="#58f060"/>
<rect x="368.96" y="284.25" width="8.44" height="11.75" fill="#c8f018"/>
<rect x="385.84" y="284.25" width="17.88" height="12.75" fill="#58f060"/>
<rect x="402.72" y="284.25" width="9.44" height="12.75" fill="#30f078"/>
<rect x="411.16" y="284.25" width="17.88" height="12.75" fill="#c8f018"/>
<rect x="428.04" y="284.25" width="9.44" height="12.75" fill="#a0f040"/>
<rect x="436.48" y="284.25" width="9.44" height="12.75" fill="#58f060"/>
<rect x="444.92" y="284.25" width="9.44" height="12.75" fill="#30f078"/>
<rect x="453.36" y="284.25" width="9.44" height="12.75" fill="#a0f040"/>
<rect x="461.80" y="284.25" width="16.88" height="12.75" fill="#58f060"/>
<rect x="284.56" y="296.00" width="9.44" height="12.75" fill="#c8f018"/>
<rect x="293.00" y="296.00" width="9.44" height="12.75" fill="#a0f040"/>
<rect x="301.44" y="296.00" width="9.44" height="12.75" fill="#58f060"/>
<rect x="309.88" y="296.00" width="8.44" height="12.75" fill="#56c2a6"/>
<rect x="326.76" y="296.00" width="9.44" height="12.75" fill="#56c2a6"/>
<rect x="335.20" y="296.00" width="9.44" height="12.75" fill="#58f060"/>
<rect x="343.64" y="296.00" width="17.88" height="12.75" fill="#a0f040"/>
<rect x="360.52" y="296.00" width="8.44" height="12.75" fill="#58f060"/>
<rect x="377.40" y="296.00" width="9.44" height="12.75" fill="#e8cc00"/>
<rect x="385.84" y="296.00" width="17.88" height="12.75" fill="#a0f040"/>
<rect x="402.72" y="296.00" width="9.44" height="12.75" fill="#58f060"/>
<rect x="411.16" y="296.00" width="9.44" height="12.75" fill="#c8f018"/>
<rect x="419.60" y="296.00" width="9.44" height="11.75" fill="#e8cc00"/>
<rect x="428.04" y="296.00" width="17.88" height="11.75" fill="#58f060"/>
<rect x="444.92" y="296.00" width="9.44" height="12.75" fill="#30f078"/>
<rect x="453.36" y="296.00" width="9.44" height="12.75" fill="#a0f040"/>
<rect x="461.80" y="296.00" width="16.88" height="12.75" fill="#58f060"/>
<rect x="284.56" y="307.75" width="9.44" height="12.75" fill="#c8f018"/>
<rect x="293.00" y="307.75" width="9.44" height="12.75" fill="#a0f040"/>
<rect x="301.44" y="307.75" width="9.44" height="12.75" fill="#58f060"/>
<rect x="309.88" y="307.75" width="9.44" height="12.75" fill="#56c2a6"/>
<rect x="318.32" y="307.75" width="9.44" height="12.75" fill="#1e6af8"/>
<rect x="326.76" y="307.75" width="9.44" height="12.75" fill="#4a88e0"/>
<rect x="335.20" y="307.75" width="17.88" height="12.75" fill="#58f060"/>
<rect x="352.08" y="307.75" width="17.88" height="12.75" fill="#a0f040"/>
<rect x="368.96" y="307.75" width="17.88" height="12.75" fill="#e8cc00"/>
<rect x="385.84" y="307.75" width="9.44" height="12.75" fill="#c8f018"/>
<rect x="394.28" y="307.75" width="9.44" height="12.75" fill="#a0f040"/>
<rect x="402.72" y="307.75" width="9.44" height="12.75" fill="#30f078"/>
<rect x="411.16" y="307.75" width="8.44" height="12.75" fill="#a0f040"/>
<rect x="436.48" y="307.75" width="9.44" height="12.75" fill="#30f078"/>
<rect x="444.92" y="307.75" width="17.88" height="12.75" fill="#58f060"/>
<rect x="461.80" y="307.75" width="9.44" height="12.75" fill="#30f078"/>
<rect x="470.24" y="307.75" width="8.44" height="12.75" fill="#a0f040"/>
<rect x="487.12" y="307.75" width="8.44" height="12.75" fill="#30f078"/>
<rect x="284.56" y="319.50" width="9.44" height="12.75" fill="#c8f018"/>
<rect x="293.00" y="319.50" width="9.44" height="12.75" fill="#a0f040"/>
<rect x="301.44" y="319.50" width="9.44" height="12.75" fill="#30f078"/>
<rect x="309.88" y="319.50" width="9.44" height="12.75" fill="#56c2a6"/>
<rect x="318.32" y="319.50" width="9.44" height="12.75" fill="#4a88e0"/>
<rect x="326.76" y="319.50" width="9.44" height="12.75" fill="#3a7aee"/>
<rect x="335.20" y="319.50" width="9.44" height="12.75" fill="#30f078"/>
<rect x="343.64" y="319.50" width="9.44" height="12.75" fill="#58f060"/>
<rect x="352.08" y="319.50" width="17.88" height="12.75" fill="#a0f040"/>
<rect x="368.96" y="319.50" width="17.88" height="12.75" fill="#e8cc00"/>
<rect x="385.84" y="319.50" width="9.44" height="12.75" fill="#c8f018"/>
<rect x="394.28" y="319.50" width="9.44" height="12.75" fill="#a0f040"/>
<rect x="402.72" y="319.50" width="9.44" height="12.75" fill="#56c2a6"/>
<rect x="411.16" y="319.50" width="8.44" height="12.75" fill="#a0f040"/>
<rect x="428.04" y="319.50" width="9.44" height="12.75" fill="#56c2a6"/>
<rect x="436.48" y="319.50" width="9.44" height="12.75" fill="#30f078"/>
<rect x="444.92" y="319.50" width="9.44" height="12.75" fill="#58f060"/>
<rect x="453.36" y="319.50" width="9.44" height="12.75" fill="#a0f040"/>
<rect x="461.80" y="319.50" width="9.44" height="12.75" fill="#58a8c0"/>
<rect x="470.24" y="319.50" width="8.44" height="12.75" fill="#a0f040"/>
<rect x="487.12" y="319.50" width="8.44" height="12.75" fill="#a0f040"/>
<rect x="284.56" y="331.25" width="9.44" height="12.75" fill="#c8f018"/>
<rect x="293.00" y="331.25" width="9.44" height="12.75" fill="#a0f040"/>
<rect x="301.44" y="331.25" width="9.44" height="12.75" fill="#58f060"/>
<rect x="309.88" y="331.25" width="9.44" height="12.75" fill="#56c2a6"/>
<rect x="318.32" y="331.25" width="9.44" height="12.75" fill="#5898d0"/>
<rect x="326.76" y="331.25" width="9.44" height="12.75" fill="#4a88e0"/>
<rect x="335.20" y="331.25" width="9.44" height="12.75" fill="#30f078"/>
<rect x="343.64" y="331.25" width="9.44" height="12.75" fill="#58f060"/>
<rect x="352.08" y="331.25" width="17.88" height="12.75" fill="#a0f040"/>
<rect x="368.96" y="331.25" width="9.44" height="12.75" fill="#c8f018"/>
<rect x="377.40" y="331.25" width="9.44" height="12.75" fill="#e8cc00"/>
<rect x="385.84" y="331.25" width="9.44" height="12.75" fill="#c8f018"/>
<rect x="394.28" y="331.25" width="9.44" height="12.75" fill="#a0f040"/>
<rect x="402.72" y="331.25" width="9.44" height="11.75" fill="#56c2a6"/>
<rect x="411.16" y="331.25" width="9.44" height="12.75" fill="#a0f040"/>
<rect x="419.60" y="331.25" width="9.44" height="12.75" fill="#c8f018"/>
<rect x="428.04" y="331.25" width="9.44" height="12.75" fill="#56c2a6"/>
<rect x="436.48" y="331.25" width="9.44" height="12.75" fill="#58f060"/>
<rect x="444.92" y="331.25" width="9.44" height="12.75" fill="#a0f040"/>
<rect x="453.36" y="331.25" width="9.44" height="12.75" fill="#30f078"/>
<rect x="461.80" y="331.25" width="9.44" height="12.75" fill="#5898d0"/>
<rect x="470.24" y="331.25" width="8.44" height="12.75" fill="#a0f040"/>
<rect x="487.12" y="331.25" width="8.44" height="12.75" fill="#a0f040"/>
<rect x="284.56" y="343.00" width="9.44" height="12.75" fill="#c8f018"/>
<rect x="293.00" y="343.00" width="17.88" height="12.75" fill="#a0f040"/>
<rect x="309.88" y="343.00" width="9.44" height="12.75" fill="#56c2a6"/>
<rect x="318.32" y="343.00" width="17.88" height="12.75" fill="#5898d0"/>
<rect x="335.20" y="343.00" width="9.44" height="12.75" fill="#30f078"/>
<rect x="343.64" y="343.00" width="9.44" height="12.75" fill="#58f060"/>
<rect x="352.08" y="343.00" width="17.88" height="12.75" fill="#a0f040"/>
<rect x="368.96" y="343.00" width="9.44" height="12.75" fill="#c8f018"/>
<rect x="377.40" y="343.00" width="9.44" height="12.75" fill="#e8cc00"/>
<rect x="385.84" y="343.00" width="9.44" height="12.75" fill="#c8f018"/>
<rect x="394.28" y="343.00" width="8.44" height="12.75" fill="#a0f040"/>
<rect x="411.16" y="343.00" width="17.88" height="12.75" fill="#a0f040"/>
<rect x="428.04" y="343.00" width="9.44" height="12.75" fill="#30f078"/>
<rect x="436.48" y="343.00" width="9.44" height="12.75" fill="#58f060"/>
<rect x="444.92" y="343.00" width="9.44" height="12.75" fill="#a0f040"/>
<rect x="453.36" y="343.00" width="9.44" height="12.75" fill="#30f078"/>
<rect x="461.80" y="343.00" width="9.44" height="12.75" fill="#56c2a6"/>
<rect x="470.24" y="343.00" width="8.44" height="12.75" fill="#a0f040"/>
<rect x="487.12" y="343.00" width="8.44" height="12.75" fill="#a0f040"/>
<rect x="284.56" y="354.75" width="9.44" height="12.75" fill="#c8f018"/>
<rect x="293.00" y="354.75" width="9.44" height="12.75" fill="#a0f040"/>
<rect x="301.44" y="354.75" width="9.44" height="12.75" fill="#c8f018"/>
<rect x="309.88" y="354.75" width="9.44" height="12.75" fill="#30f078"/>
<rect x="318.32" y="354.75" width="17.88" height="12.75" fill="#56c2a6"/>
<rect x="335.20" y="354.75" width="9.44" height="12.75" fill="#58f060"/>
<rect x="343.64" y="354.75" width="26.32" height="12.75" fill="#a0f040"/>
<rect x="368.96" y="354.75" width="9.44" height="12.75" fill="#c8f018"/>
<rect x="377.40" y="354.75" width="9.44" height="12.75" fill="#e8cc00"/>
<rect x="385.84" y="354.75" width="17.88" height="12.75" fill="#c8f018"/>
<rect x="402.72" y="354.75" width="9.44" height="12.75" fill="#5898d0"/>
<rect x="411.16" y="354.75" width="9.44" height="12.75" fill="#30f078"/>
<rect x="419.60" y="354.75" width="9.44" height="12.75" fill="#c8f018"/>
<rect x="428.04" y="354.75" width="26.32" height="12.75" fill="#a0f040"/>
<rect x="453.36" y="354.75" width="9.44" height="12.75" fill="#58f060"/>
<rect x="461.80" y="354.75" width="9.44" height="12.75" fill="#56c2a6"/>
<rect x="470.24" y="354.75" width="8.44" height="12.75" fill="#a0f040"/>
<rect x="487.12" y="354.75" width="8.44" height="12.75" fill="#a0f040"/>
<rect x="284.56" y="366.50" width="9.44" height="12.75" fill="#c8f018"/>
<rect x="293.00" y="366.50" width="9.44" height="12.75" fill="#a0f040"/>
<rect x="301.44" y="366.50" width="9.44" height="12.75" fill="#c8f018"/>
<rect x="309.88" y="366.50" width="9.44" height="12.75" fill="#58f060"/>
<rect x="318.32" y="366.50" width="17.88" height="12.75" fill="#30f078"/>
<rect x="335.20" y="366.50" width="9.44" height="12.75" fill="#58f060"/>
<rect x="343.64" y="366.50" width="26.32" height="12.75" fill="#a0f040"/>
<rect x="368.96" y="366.50" width="9.44" height="12.75" fill="#c8f018"/>
<rect x="377.40" y="366.50" width="9.44" height="12.75" fill="#e8cc00"/>
<rect x="385.84" y="366.50" width="17.88" height="12.75" fill="#c8f018"/>
<rect x="402.72" y="366.50" width="9.44" height="11.75" fill="#56c2a6"/>
<rect x="411.16" y="366.50" width="9.44" height="12.75" fill="#30f078"/>
<rect x="419.60" y="366.50" width="9.44" height="12.75" fill="#c8f018"/>
<rect x="428.04" y="366.50" width="26.32" height="12.75" fill="#a0f040"/>
<rect x="453.36" y="366.50" width="9.44" height="12.75" fill="#58f060"/>
<rect x="461.80" y="366.50" width="9.44" height="12.75" fill="#56c2a6"/>
<rect x="470.24" y="366.50" width="8.44" height="12.75" fill="#a0f040"/>
<rect x="487.12" y="366.50" width="8.44" height="12.75" fill="#a0f040"/>
<rect x="284.56" y="378.25" width="9.44" height="11.75" fill="#c8f018"/>
<rect x="293.00" y="378.25" width="9.44" height="11.75" fill="#a0f040"/>
<rect x="301.44" y="378.25" width="9.44" height="11.75" fill="#c8f018"/>
<rect x="309.88" y="378.25" width="9.44" height="11.75" fill="#a0f040"/>
<rect x="318.32" y="378.25" width="26.32" height="11.75" fill="#58f060"/>
<rect x="343.64" y="378.25" width="26.32" height="11.75" fill="#a0f040"/>
<rect x="368.96" y="378.25" width="33.76" height="11.75" fill="#c8f018"/>
<rect x="411.16" y="378.25" width="9.44" height="11.75" fill="#30f078"/>
<rect x="419.60" y="378.25" width="17.88" height="11.75" fill="#c8f018"/>
<rect x="436.48" y="378.25" width="17.88" height="11.75" fill="#a0f040"/>
<rect x="453.36" y="378.25" width="9.44" height="11.75" fill="#58f060"/>
<rect x="461.80" y="378.25" width="9.44" height="11.75" fill="#5898d0"/>
<rect x="470.24" y="378.25" width="8.44" height="11.75" fill="#a0f040"/>
<rect x="487.12" y="378.25" width="8.44" height="11.75" fill="#a0f040"/></g>
<rect x="34.5" y="11.5" width="233" height="19.6" fill="#d9d9d9" stroke="#7a7a7a" stroke-width="1"/>
<rect x="274.5" y="11.5" width="233" height="19.6" fill="#d9d9d9" stroke="#7a7a7a" stroke-width="1"/>
<line x1="34" y1="31.2" x2="268" y2="31.2" stroke="#4a4a4a" stroke-width="1.2"/>
<line x1="274" y1="31.2" x2="508" y2="31.2" stroke="#4a4a4a" stroke-width="1.2"/>
<rect x="34.5" y="31.5" width="233" height="399.8" fill="none" stroke="#6a6a6a" stroke-width="1"/>
<rect x="274.5" y="31.5" width="233" height="399.8" fill="none" stroke="#6a6a6a" stroke-width="1"/>
<text class="ax" x="151" y="25" text-anchor="middle">2018-04-14</text>
<text class="ax" x="391" y="25" text-anchor="middle">2017-04-30</text>
<line x1="31" y1="67.00" x2="34" y2="67.00" stroke="#333" stroke-width="1"/>
<text class="ax" x="28.6" y="71.50" text-anchor="end">3</text>
<line x1="31" y1="184.50" x2="34" y2="184.50" stroke="#333" stroke-width="1"/>
<text class="ax" x="28.6" y="189.00" text-anchor="end">2</text>
<line x1="31" y1="302.00" x2="34" y2="302.00" stroke="#333" stroke-width="1"/>
<text class="ax" x="28.6" y="306.50" text-anchor="end">1</text>
<line x1="31" y1="419.50" x2="34" y2="419.50" stroke="#333" stroke-width="1"/>
<text class="ax" x="28.6" y="424.00" text-anchor="end">0</text>
<line x1="93.00" y1="431" x2="93.00" y2="434.7" stroke="#333" stroke-width="1"/>
<text class="ax" x="93.00" y="446.3" text-anchor="middle">13:00</text>
<line x1="154.00" y1="431" x2="154.00" y2="434.7" stroke="#333" stroke-width="1"/>
<text class="ax" x="154.00" y="446.3" text-anchor="middle">14:00</text>
<line x1="215.00" y1="431" x2="215.00" y2="434.7" stroke="#333" stroke-width="1"/>
<text class="ax" x="215.00" y="446.3" text-anchor="middle">15:00</text>
<line x1="314.40" y1="431" x2="314.40" y2="434.7" stroke="#333" stroke-width="1"/>
<text class="ax" x="314.40" y="446.3" text-anchor="middle">17:05</text>
<line x1="356.70" y1="431" x2="356.70" y2="434.7" stroke="#333" stroke-width="1"/>
<text class="ax" x="356.70" y="446.3" text-anchor="middle">17:10</text>
<line x1="398.90" y1="431" x2="398.90" y2="434.7" stroke="#333" stroke-width="1"/>
<text class="ax" x="398.90" y="446.3" text-anchor="middle">17:15</text>
<line x1="441.20" y1="431" x2="441.20" y2="434.7" stroke="#333" stroke-width="1"/>
<text class="ax" x="441.20" y="446.3" text-anchor="middle">17:20</text>
<line x1="483.40" y1="431" x2="483.40" y2="434.7" stroke="#333" stroke-width="1"/>
<text class="ax" x="483.40" y="446.3" text-anchor="middle">17:25</text>
<text class="ax" style="font-size:12.9px" x="0" y="0" text-anchor="middle" transform="translate(16.9 231.3) rotate(-90)">Height [km]</text>
<defs><linearGradient id="cb" x1="0" y1="0" x2="1" y2="0"><stop offset="0.000" stop-color="#c020f0"/><stop offset="0.050" stop-color="#b040f8"/><stop offset="0.110" stop-color="#9848f8"/><stop offset="0.220" stop-color="#6a52f8"/><stop offset="0.255" stop-color="#3a62f8"/><stop offset="0.255" stop-color="#1a6af8"/><stop offset="0.290" stop-color="#4080e8"/><stop offset="0.340" stop-color="#5894d8"/><stop offset="0.395" stop-color="#60acc0"/><stop offset="0.450" stop-color="#50c8a0"/><stop offset="0.495" stop-color="#30f078"/><stop offset="0.515" stop-color="#20f070"/><stop offset="0.565" stop-color="#60f060"/><stop offset="0.610" stop-color="#90f040"/><stop offset="0.670" stop-color="#b0f030"/><stop offset="0.740" stop-color="#d0f010"/><stop offset="0.785" stop-color="#e8d800"/><stop offset="0.845" stop-color="#f0b000"/><stop offset="0.900" stop-color="#f08800"/><stop offset="0.960" stop-color="#f05800"/><stop offset="1.000" stop-color="#f02800"/></linearGradient></defs>
<rect x="253.1" y="467.4" width="102.8" height="20.4" fill="url(#cb)"/>
<line x1="264.40" y1="467.4" x2="264.40" y2="471.4" stroke="#fff" stroke-opacity="0.5" stroke-width="0.8"/>
<line x1="264.40" y1="483.8" x2="264.40" y2="487.8" stroke="#fff" stroke-opacity="0.5" stroke-width="0.8"/>
<line x1="288.10" y1="467.4" x2="288.10" y2="471.4" stroke="#fff" stroke-opacity="0.5" stroke-width="0.8"/>
<line x1="288.10" y1="483.8" x2="288.10" y2="487.8" stroke="#fff" stroke-opacity="0.5" stroke-width="0.8"/>
<line x1="311.80" y1="467.4" x2="311.80" y2="471.4" stroke="#fff" stroke-opacity="0.5" stroke-width="0.8"/>
<line x1="311.80" y1="483.8" x2="311.80" y2="487.8" stroke="#fff" stroke-opacity="0.5" stroke-width="0.8"/>
<line x1="335.50" y1="467.4" x2="335.50" y2="471.4" stroke="#fff" stroke-opacity="0.5" stroke-width="0.8"/>
<line x1="335.50" y1="483.8" x2="335.50" y2="487.8" stroke="#fff" stroke-opacity="0.5" stroke-width="0.8"/>
<text class="ax" style="font-size:10.9px" x="264.20" y="503.1" text-anchor="middle">0</text>
<text class="ax" style="font-size:10.9px" x="288.10" y="503.1" text-anchor="middle">2</text>
<text class="ax" style="font-size:10.9px" x="311.80" y="503.1" text-anchor="middle">4</text>
<text class="ax" style="font-size:10.9px" x="335.50" y="503.1" text-anchor="middle">6</text>
<text class="ax" style="font-size:12.9px" x="185.4" y="490.2">W (m/sec)</text>
<rect x="526.20" y="63.30" width="125.20" height="30.34" fill="#cfdbee"/>
<rect x="526.20" y="93.64" width="125.20" height="30.34" fill="#e9eef7"/>
<rect x="526.20" y="123.98" width="125.20" height="30.34" fill="#cfdbee"/>
<rect x="526.20" y="154.32" width="125.20" height="30.34" fill="#e9eef7"/>
<rect x="526.20" y="184.66" width="125.20" height="30.34" fill="#cfdbee"/>
<rect x="544.70" y="63.30" width="1.4" height="151.70" fill="#ffffff"/>
<rect x="571.20" y="63.30" width="1.4" height="151.70" fill="#ffffff"/>
<rect x="597.70" y="63.30" width="1.4" height="151.70" fill="#ffffff"/>
<rect x="624.20" y="63.30" width="1.4" height="151.70" fill="#ffffff"/>
<rect x="526.20" y="92.94" width="125.20" height="1.4" fill="#ffffff"/>
<rect x="526.20" y="123.28" width="125.20" height="1.4" fill="#ffffff"/>
<rect x="526.20" y="153.62" width="125.20" height="1.4" fill="#ffffff"/>
<rect x="526.20" y="183.96" width="125.20" height="1.4" fill="#ffffff"/>
<rect x="526.20" y="262.90" width="125.20" height="30.28" fill="#cfdbee"/>
<rect x="526.20" y="293.18" width="125.20" height="30.28" fill="#e9eef7"/>
<rect x="526.20" y="323.46" width="125.20" height="30.28" fill="#cfdbee"/>
<rect x="526.20" y="353.74" width="125.20" height="30.28" fill="#e9eef7"/>
<rect x="526.20" y="384.02" width="125.20" height="30.28" fill="#cfdbee"/>
<rect x="544.70" y="262.90" width="1.4" height="151.40" fill="#ffffff"/>
<rect x="571.20" y="262.90" width="1.4" height="151.40" fill="#ffffff"/>
<rect x="597.70" y="262.90" width="1.4" height="151.40" fill="#ffffff"/>
<rect x="624.20" y="262.90" width="1.4" height="151.40" fill="#ffffff"/>
<rect x="526.20" y="292.48" width="125.20" height="1.4" fill="#ffffff"/>
<rect x="526.20" y="322.76" width="125.20" height="1.4" fill="#ffffff"/>
<rect x="526.20" y="353.04" width="125.20" height="1.4" fill="#ffffff"/>
<rect x="526.20" y="383.32" width="125.20" height="1.4" fill="#ffffff"/>
<polygon points="559.00,163.50 560.89,169.30 566.99,169.30 562.05,172.89 563.94,178.70 559.00,175.11 554.06,178.70 555.95,172.89 551.01,169.30 557.11,169.30" fill="#4472c4"/>
<polygon points="534.50,192.40 536.39,198.20 542.49,198.20 537.55,201.79 539.44,207.60 534.50,204.01 529.56,207.60 531.45,201.79 526.51,198.20 532.61,198.20" fill="#4472c4"/>
<polygon points="585.00,269.20 586.89,275.00 592.99,275.00 588.05,278.59 589.94,284.40 585.00,280.81 580.06,284.40 581.95,278.59 577.01,275.00 583.11,275.00" fill="#4472c4"/>
<polygon points="638.90,299.00 640.79,304.80 646.89,304.80 641.95,308.39 643.84,314.20 638.90,310.61 633.96,314.20 635.85,308.39 630.91,304.80 637.01,304.80" fill="#4472c4"/>
<defs><linearGradient id="slg" x1="0" y1="0" x2="0" y2="1"><stop offset="0" stop-color="#ffe3a6"/><stop offset="1" stop-color="#fdcd6e"/></linearGradient></defs>
<rect x="526.1" y="224.1" width="125.4" height="30.2" fill="url(#slg)" stroke="#ffc000" stroke-width="1"/>
<text x="580.2" y="246.2" style="font-family:'Liberation Sans',sans-serif;font-size:16px;fill:#1a1a1a" transform="translate(580.2 0) scale(0.86 1) translate(-580.2 0)">SL</text>
<polygon points="612.20,231.10 614.18,237.18 620.57,237.18 615.40,240.94 617.37,247.02 612.20,243.26 607.03,247.02 609.00,240.94 603.83,237.18 610.22,237.18" fill="#4472c4"/>
<line x1="511.3" y1="430.3" x2="665" y2="430.3" stroke="#6aa2da" stroke-width="1.0"/>
<polygon points="664.2,427.1 670.6,430.3 664.2,433.5" fill="#4a8ad0"/>
<text x="550" y="452.6" style="font-family:'Liberation Sans',sans-serif;font-size:17px;fill:#1a1a1a" transform="translate(550 0) scale(1.075 1) translate(-550 0)">time</text>
<text class="lab" x="92.00" y="535.4" text-anchor="middle">(<tspan font-weight="bold">a</tspan>)</text>
<text class="lab" x="364.80" y="535.4" text-anchor="middle">(<tspan font-weight="bold">b</tspan>)</text>
<text class="lab" x="627.50" y="535.4" text-anchor="middle">(<tspan font-weight="bold">c</tspan>)</text>
</svg></body></html>
